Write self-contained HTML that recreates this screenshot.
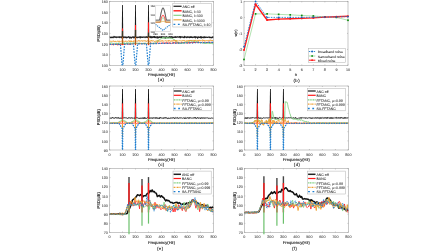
<!DOCTYPE html>
<html><head><meta charset="utf-8"><title>ANC PSD figure</title>
<style>html,body{margin:0;padding:0;background:#fff;width:448px;height:252px;overflow:hidden}svg{display:block;filter:blur(0.3px)}</style>
</head><body>
<svg width="448" height="252" viewBox="0 0 448 252" font-family='"Liberation Sans", Arial, sans-serif' fill="#262626" text-rendering="geometricPrecision"><style>text{stroke:#262626;stroke-width:0.12px}.t{fill:#4a4a4a;stroke:#4a4a4a;stroke-width:0.08px}.lg{fill:#303030;stroke:#303030;stroke-width:0.06px}</style><defs><clipPath id="ca"><rect x="109.5" y="1.4" width="104" height="64"/></clipPath><clipPath id="ci"><rect x="155.5" y="5.8" width="15" height="25.6"/></clipPath><clipPath id="cb"><rect x="244" y="1.4" width="104" height="64"/></clipPath><clipPath id="cc"><rect x="109.5" y="86" width="104" height="64"/></clipPath><clipPath id="cd"><rect x="244.4" y="86" width="104" height="64"/></clipPath><clipPath id="ce"><rect x="109.5" y="168.5" width="104" height="64"/></clipPath><clipPath id="cf"><rect x="244.4" y="168.5" width="104" height="64"/></clipPath></defs><rect width="448" height="252" fill="#ffffff"/><rect x="109.5" y="1.4" width="104" height="64" fill="none" stroke="#9a9a9a" stroke-width="0.55"/>
<line x1="109.5" y1="65.4" x2="109.5" y2="64.4" stroke="#9a9a9a" stroke-width="0.5"/>
<line x1="109.5" y1="1.4" x2="109.5" y2="2.4" stroke="#9a9a9a" stroke-width="0.5"/>
<line x1="122.5" y1="65.4" x2="122.5" y2="64.4" stroke="#9a9a9a" stroke-width="0.5"/>
<line x1="122.5" y1="1.4" x2="122.5" y2="2.4" stroke="#9a9a9a" stroke-width="0.5"/>
<line x1="135.5" y1="65.4" x2="135.5" y2="64.4" stroke="#9a9a9a" stroke-width="0.5"/>
<line x1="135.5" y1="1.4" x2="135.5" y2="2.4" stroke="#9a9a9a" stroke-width="0.5"/>
<line x1="148.5" y1="65.4" x2="148.5" y2="64.4" stroke="#9a9a9a" stroke-width="0.5"/>
<line x1="148.5" y1="1.4" x2="148.5" y2="2.4" stroke="#9a9a9a" stroke-width="0.5"/>
<line x1="161.5" y1="65.4" x2="161.5" y2="64.4" stroke="#9a9a9a" stroke-width="0.5"/>
<line x1="161.5" y1="1.4" x2="161.5" y2="2.4" stroke="#9a9a9a" stroke-width="0.5"/>
<line x1="174.5" y1="65.4" x2="174.5" y2="64.4" stroke="#9a9a9a" stroke-width="0.5"/>
<line x1="174.5" y1="1.4" x2="174.5" y2="2.4" stroke="#9a9a9a" stroke-width="0.5"/>
<line x1="187.5" y1="65.4" x2="187.5" y2="64.4" stroke="#9a9a9a" stroke-width="0.5"/>
<line x1="187.5" y1="1.4" x2="187.5" y2="2.4" stroke="#9a9a9a" stroke-width="0.5"/>
<line x1="200.5" y1="65.4" x2="200.5" y2="64.4" stroke="#9a9a9a" stroke-width="0.5"/>
<line x1="200.5" y1="1.4" x2="200.5" y2="2.4" stroke="#9a9a9a" stroke-width="0.5"/>
<line x1="213.5" y1="65.4" x2="213.5" y2="64.4" stroke="#9a9a9a" stroke-width="0.5"/>
<line x1="213.5" y1="1.4" x2="213.5" y2="2.4" stroke="#9a9a9a" stroke-width="0.5"/>
<line x1="109.5" y1="65.4" x2="110.5" y2="65.4" stroke="#9a9a9a" stroke-width="0.5"/>
<line x1="213.5" y1="65.4" x2="212.5" y2="65.4" stroke="#9a9a9a" stroke-width="0.5"/>
<line x1="109.5" y1="54.73" x2="110.5" y2="54.73" stroke="#9a9a9a" stroke-width="0.5"/>
<line x1="213.5" y1="54.73" x2="212.5" y2="54.73" stroke="#9a9a9a" stroke-width="0.5"/>
<line x1="109.5" y1="44.07" x2="110.5" y2="44.07" stroke="#9a9a9a" stroke-width="0.5"/>
<line x1="213.5" y1="44.07" x2="212.5" y2="44.07" stroke="#9a9a9a" stroke-width="0.5"/>
<line x1="109.5" y1="33.4" x2="110.5" y2="33.4" stroke="#9a9a9a" stroke-width="0.5"/>
<line x1="213.5" y1="33.4" x2="212.5" y2="33.4" stroke="#9a9a9a" stroke-width="0.5"/>
<line x1="109.5" y1="22.73" x2="110.5" y2="22.73" stroke="#9a9a9a" stroke-width="0.5"/>
<line x1="213.5" y1="22.73" x2="212.5" y2="22.73" stroke="#9a9a9a" stroke-width="0.5"/>
<line x1="109.5" y1="12.07" x2="110.5" y2="12.07" stroke="#9a9a9a" stroke-width="0.5"/>
<line x1="213.5" y1="12.07" x2="212.5" y2="12.07" stroke="#9a9a9a" stroke-width="0.5"/>
<line x1="109.5" y1="1.4" x2="110.5" y2="1.4" stroke="#9a9a9a" stroke-width="0.5"/>
<line x1="213.5" y1="1.4" x2="212.5" y2="1.4" stroke="#9a9a9a" stroke-width="0.5"/>
<text x="109.5" y="70.1" font-size="3.7" text-anchor="middle" dominant-baseline="central" class="t">0</text>
<text x="122.5" y="70.1" font-size="3.7" text-anchor="middle" dominant-baseline="central" class="t">100</text>
<text x="135.5" y="70.1" font-size="3.7" text-anchor="middle" dominant-baseline="central" class="t">200</text>
<text x="148.5" y="70.1" font-size="3.7" text-anchor="middle" dominant-baseline="central" class="t">300</text>
<text x="161.5" y="70.1" font-size="3.7" text-anchor="middle" dominant-baseline="central" class="t">400</text>
<text x="174.5" y="70.1" font-size="3.7" text-anchor="middle" dominant-baseline="central" class="t">500</text>
<text x="187.5" y="70.1" font-size="3.7" text-anchor="middle" dominant-baseline="central" class="t">600</text>
<text x="200.5" y="70.1" font-size="3.7" text-anchor="middle" dominant-baseline="central" class="t">700</text>
<text x="213.5" y="70.1" font-size="3.7" text-anchor="middle" dominant-baseline="central" class="t">800</text>
<text x="107.9" y="66.1" font-size="3.7" text-anchor="end" dominant-baseline="central" class="t">100</text>
<text x="107.9" y="55.43" font-size="3.7" text-anchor="end" dominant-baseline="central" class="t">110</text>
<text x="107.9" y="44.77" font-size="3.7" text-anchor="end" dominant-baseline="central" class="t">120</text>
<text x="107.9" y="34.1" font-size="3.7" text-anchor="end" dominant-baseline="central" class="t">130</text>
<text x="107.9" y="23.43" font-size="3.7" text-anchor="end" dominant-baseline="central" class="t">140</text>
<text x="107.9" y="12.77" font-size="3.7" text-anchor="end" dominant-baseline="central" class="t">150</text>
<text x="107.9" y="2.1" font-size="3.7" text-anchor="end" dominant-baseline="central" class="t">160</text>
<polyline points="109.5,36.76 109.76,36.7 110.02,37.22 110.28,37.53 110.54,37.65 110.8,37.23 111.06,37.62 111.32,37.78 111.58,37.17 111.84,37.19 112.1,37.04 112.36,37.58 112.62,37.24 112.88,37.26 113.14,37.8 113.4,37.04 113.66,37.12 113.92,36.35 114.18,37.16 114.44,37.29 114.7,36.78 114.96,37.17 115.22,36.9 115.48,37.38 115.74,37.16 116,36.86 116.26,36.98 116.52,37.19 116.78,37.64 117.04,37.07 117.3,37.21 117.56,36.97 117.82,37.16 118.08,36.83 118.34,37.26 118.6,37.16 118.86,36.99 119.12,37.65 119.38,37.39 119.64,37.43 119.9,36.5 120.16,37.27 120.42,37 120.68,37.01 120.94,37.34 121.2,37.82 121.46,36.88 121.72,37.39 121.98,36.97 122.24,37.73 122.5,37.4 122.76,36.77 123.02,36.71 123.28,37.73 123.54,37.74 123.8,37.26 124.06,36.97 124.32,37.18 124.58,37.13 124.84,37.61 125.1,37.02 125.36,36.82 125.62,37.4 125.88,37.78 126.14,37.52 126.4,36.96 126.66,37.89 126.92,37.27 127.18,37.61 127.44,37.29 127.7,37.33 127.96,37.23 128.22,36.68 128.48,37.08 128.74,36.74 129,37.29 129.26,37.42 129.52,37.1 129.78,38.3 130.04,37.25 130.3,37.18 130.56,37.7 130.82,37.07 131.08,37.45 131.34,38.16 131.6,37.32 131.86,37.61 132.12,37.43 132.38,37.3 132.64,36.77 132.9,37.2 133.16,37.25 133.42,37.09 133.68,37.92 133.94,36.78 134.2,37.64 134.46,37.08 134.72,37.66 134.98,37.6 135.24,37.39 135.5,36.53 135.76,36.98 136.02,37.47 136.28,37.35 136.54,37.67 136.8,37.25 137.06,37.45 137.32,36.97 137.58,37.75 137.84,37.36 138.1,37.55 138.36,37.51 138.62,36.97 138.88,37.19 139.14,37.02 139.4,36.8 139.66,36.81 139.92,37.75 140.18,37.04 140.44,37.9 140.7,37.26 140.96,36.52 141.22,37.31 141.48,37.38 141.74,37.18 142,37.23 142.26,37.23 142.52,37.52 142.78,36.84 143.04,36.91 143.3,37.32 143.56,37.12 143.82,36.99 144.08,36.85 144.34,37.09 144.6,36.98 144.86,37.34 145.12,37.64 145.38,37.42 145.64,36.86 145.9,36.87 146.16,37.19 146.42,37.45 146.68,37.13 146.94,36.62 147.2,36.73 147.46,37.5 147.72,37.26 147.98,37.78 148.24,37.66 148.5,37.17 148.76,37.23 149.02,36.88 149.28,36.77 149.54,36.93 149.8,36.75 150.06,37.44 150.32,37.66 150.58,37.05 150.84,36.24 151.1,37.11 151.36,37.67 151.62,37.15 151.88,36.71 152.14,37.63 152.4,36.94 152.66,37.47 152.92,36.76 153.18,36.95 153.44,37.13 153.7,36.49 153.96,37.39 154.22,37.5 154.48,36.55 154.74,37.57 155,36.42 155.26,37.25 155.52,37.63 155.78,37.24 156.04,37.19 156.3,37.16 156.56,37.31 156.82,36.84 157.08,38.11 157.34,37.45 157.6,37.34 157.86,36.56 158.12,37.98 158.38,37.37 158.64,37.67 158.9,37.49 159.16,37 159.42,37.09 159.68,36.7 159.94,37.46 160.2,37.14 160.46,36.8 160.72,36.9 160.98,37.37 161.24,36.82 161.5,37.58 161.76,36.57 162.02,37.18 162.28,37.28 162.54,37.14 162.8,36.92 163.06,36.59 163.32,37.29 163.58,37.38 163.84,37.02 164.1,37.57 164.36,37.87 164.62,36.93 164.88,37.38 165.14,36.82 165.4,37.62 165.66,38.32 165.92,37.13 166.18,37.18 166.44,36.64 166.7,37.04 166.96,37.12 167.22,37.02 167.48,37.38 167.74,37.21 168,37.74 168.26,37.05 168.52,37.54 168.78,37.41 169.04,36.98 169.3,36.9 169.56,37.62 169.82,36.49 170.08,37.46 170.34,36.93 170.6,36.88 170.86,37.16 171.12,37.18 171.38,36.57 171.64,36.91 171.9,37.07 172.16,37.92 172.42,37.52 172.68,36.81 172.94,37.17 173.2,37.6 173.46,37.48 173.72,37.35 173.98,36.98 174.24,37.1 174.5,36.87 174.76,37.55 175.02,36.87 175.28,37.43 175.54,37.35 175.8,36.59 176.06,37.21 176.32,37.29 176.58,37.32 176.84,37.38 177.1,36.66 177.36,36.73 177.62,36.97 177.88,37.17 178.14,36.85 178.4,37.27 178.66,37.07 178.92,37.09 179.18,37.21 179.44,36.62 179.7,36.58 179.96,36.75 180.22,37.95 180.48,36.55 180.74,36.98 181,37.41 181.26,37.25 181.52,36.82 181.78,36.8 182.04,36.92 182.3,37.19 182.56,37.23 182.82,36.93 183.08,37.27 183.34,37.58 183.6,37.47 183.86,37.29 184.12,37.12 184.38,36.39 184.64,37.75 184.9,37.06 185.16,37.27 185.42,37.13 185.68,36.73 185.94,36.78 186.2,37.3 186.46,37.45 186.72,37.75 186.98,37.27 187.24,36.77 187.5,37.34 187.76,36.98 188.02,36.98 188.28,37.09 188.54,36.84 188.8,37.28 189.06,37.55 189.32,37.68 189.58,36.89 189.84,37.38 190.1,37.36 190.36,36.93 190.62,37.53 190.88,36.58 191.14,36.99 191.4,37.44 191.66,37.48 191.92,36.84 192.18,37.68 192.44,37.48 192.7,37.24 192.96,37.16 193.22,37.23 193.48,37.1 193.74,37.38 194,37.29 194.26,36.77 194.52,37 194.78,37.41 195.04,36.6 195.3,37.98 195.56,37.21 195.82,36.99 196.08,36.88 196.34,37.2 196.6,37.38 196.86,37.02 197.12,37.31 197.38,37.06 197.64,38.31 197.9,37.1 198.16,37.54 198.42,36.89 198.68,36.96 198.94,36.97 199.2,37.39 199.46,37.08 199.72,37.37 199.98,37.16 200.24,37.29 200.5,37.57 200.76,36.5 201.02,36.97 201.28,38.01 201.54,36.91 201.8,37.76 202.06,37.33 202.32,37.46 202.58,37.44 202.84,37.15 203.1,37.36 203.36,37.78 203.62,37.24 203.88,37.1 204.14,36.58 204.4,37.39 204.66,37.68 204.92,37.38 205.18,37 205.44,37.57 205.7,37.51 205.96,37.03 206.22,37.24 206.48,37.16 206.74,37.47 207,37.55 207.26,37.36 207.52,37.3 207.78,37.36 208.04,37.08 208.3,37.04 208.56,37.04 208.82,37.06 209.08,37.57 209.34,37.66 209.6,36.94 209.86,37.24 210.12,37.19 210.38,37.67 210.64,37.32 210.9,37.48 211.16,37.56 211.42,37.48 211.68,37.8 211.94,37.21 212.2,36.8 212.46,37.5 212.72,37.2 212.98,37.65 213.24,36.99 213.5,36.54" fill="none" stroke="#222222" stroke-width="1.1" stroke-linejoin="round" clip-path="url(#ca)"/>
<polygon points="121.75,37.67 122.1,5.03 122.9,5.03 123.25,37.67" fill="#1a1a1a"/>
<polygon points="134.75,37.67 135.1,5.03 135.9,5.03 136.25,37.67" fill="#1a1a1a"/>
<polygon points="147.75,37.67 148.1,5.03 148.9,5.03 149.25,37.67" fill="#1a1a1a"/>
<polyline points="109.5,43.53 109.76,44.49 110.02,44.14 110.28,44.22 110.54,43.99 110.8,44.7 111.06,44.38 111.32,44.48 111.58,44.58 111.84,44.5 112.1,44.39 112.36,44.31 112.62,44.51 112.88,44.08 113.14,44.38 113.4,45.22 113.66,43.81 113.92,44.31 114.18,44.42 114.44,44.09 114.7,44.1 114.96,44.15 115.22,44.44 115.48,44.1 115.74,44.64 116,43.68 116.26,44.55 116.52,44.2 116.78,44.12 117.04,44.06 117.3,44.2 117.56,43.96 117.82,45.27 118.08,44.18 118.34,44.19 118.6,44.27 118.86,43.64 119.12,44.44 119.38,44.15 119.64,44.77 119.9,44.02 120.16,44.62 120.42,44.6 120.68,43.33 120.94,43.86 121.2,44.08 121.46,44.02 121.72,44.54 121.98,44.41 122.24,43.92 122.5,44.74 122.76,43.96 123.02,44.61 123.28,44 123.54,44.39 123.8,43.46 124.06,43.69 124.32,44.19 124.58,44.63 124.84,44.26 125.1,44.02 125.36,44.32 125.62,43.9 125.88,43.66 126.14,44 126.4,44.12 126.66,43.72 126.92,44.06 127.18,43.68 127.44,44.06 127.7,43.42 127.96,44.03 128.22,44.28 128.48,43.9 128.74,44.13 129,44.23 129.26,43.96 129.52,43.67 129.78,44.61 130.04,43.91 130.3,43.94 130.56,43.94 130.82,43.62 131.08,44.3 131.34,43.66 131.6,43.94 131.86,43.82 132.12,43.93 132.38,43.96 132.64,44.01 132.9,43.7 133.16,43.15 133.42,43.48 133.68,43.54 133.94,43.63 134.2,43.96 134.46,43.61 134.72,43.12 134.98,44.21 135.24,43.52 135.5,43.45 135.76,43.68 136.02,43.51 136.28,43.31 136.54,43.04 136.8,43.32 137.06,43.2 137.32,43.63 137.58,43.46 137.84,43.67 138.1,43.62 138.36,43.86 138.62,43.48 138.88,43.23 139.14,43.74 139.4,43.6 139.66,43.48 139.92,43.67 140.18,43.36 140.44,43.58 140.7,44.03 140.96,43.98 141.22,43.41 141.48,43.43 141.74,43.28 142,43.55 142.26,43.56 142.52,44.13 142.78,43.16 143.04,43.9 143.3,43.26 143.56,43.96 143.82,43.8 144.08,43.53 144.34,43.71 144.6,43.8 144.86,43.28 145.12,43.34 145.38,43.43 145.64,43.66 145.9,43.81 146.16,43.69 146.42,43.7 146.68,43.53 146.94,43.27 147.2,43.57 147.46,43.76 147.72,43.7 147.98,43.08 148.24,43.44 148.5,43.41 148.76,43.39 149.02,43.28 149.28,43.42 149.54,43.08 149.8,43.2 150.06,44.36 150.32,43.49 150.58,42.49 150.84,43.85 151.1,43.39 151.36,43.08 151.62,43.42 151.88,42.98 152.14,43.81 152.4,43.8 152.66,43.46 152.92,43.63 153.18,43.73 153.44,43.2 153.7,43.29 153.96,43.37 154.22,43.49 154.48,43.27 154.74,43.39 155,43.58 155.26,43.18 155.52,43.22 155.78,43.3 156.04,43.1 156.3,43.67 156.56,43.36 156.82,43.48 157.08,42.88 157.34,43.14 157.6,42.62 157.86,42.78 158.12,43.4 158.38,43.63 158.64,43.12 158.9,43.36 159.16,43.31 159.42,43.6 159.68,43.06 159.94,43.19 160.2,43.11 160.46,43.14 160.72,43.52 160.98,43.94 161.24,43.31 161.5,43.42 161.76,43.38 162.02,42.9 162.28,43.23 162.54,42.71 162.8,43.13 163.06,42.96 163.32,43.01 163.58,42.91 163.84,43.57 164.1,42.81 164.36,43.12 164.62,43.46 164.88,42.95 165.14,43.03 165.4,42.72 165.66,42.89 165.92,43.01 166.18,43.64 166.44,42.58 166.7,42.63 166.96,42.85 167.22,42.95 167.48,42.7 167.74,43.36 168,42.86 168.26,43.07 168.52,43.39 168.78,42.95 169.04,42.95 169.3,42.51 169.56,42.75 169.82,43.56 170.08,43.67 170.34,43.06 170.6,43.09 170.86,43.32 171.12,43.48 171.38,43.07 171.64,43.38 171.9,43.22 172.16,42.72 172.42,42.91 172.68,43.23 172.94,43.34 173.2,43.03 173.46,42.41 173.72,43.12 173.98,42.4 174.24,43.2 174.5,43.01 174.76,42.72 175.02,43.18 175.28,42.91 175.54,43.36 175.8,42.71 176.06,42.54 176.32,43.12 176.58,42.84 176.84,43.03 177.1,43.58 177.36,42.01 177.62,42.68 177.88,42.61 178.14,42.75 178.4,42.81 178.66,42.1 178.92,43.44 179.18,42.95 179.44,42.98 179.7,42.91 179.96,42.61 180.22,43.06 180.48,43.25 180.74,43.18 181,42.67 181.26,42.5 181.52,42.54 181.78,42.29 182.04,42.96 182.3,42.47 182.56,42.56 182.82,42.83 183.08,43.01 183.34,42.48 183.6,42.98 183.86,42.85 184.12,43.06 184.38,42.19 184.64,42.76 184.9,42.89 185.16,42.81 185.42,42.8 185.68,42.69 185.94,43.26 186.2,43.08 186.46,42.54 186.72,42.35 186.98,43.01 187.24,42.65 187.5,42.86 187.76,43.4 188.02,42.77 188.28,43.01 188.54,42.38 188.8,42.72 189.06,42.66 189.32,43.11 189.58,42.59 189.84,43.26 190.1,42.56 190.36,42.18 190.62,43 190.88,42.34 191.14,42.16 191.4,42.66 191.66,42.24 191.92,42.56 192.18,42.74 192.44,43.22 192.7,42.92 192.96,43.04 193.22,41.8 193.48,42.47 193.74,42.61 194,42.98 194.26,41.99 194.52,42.91 194.78,42.06 195.04,42.18 195.3,42.5 195.56,42.73 195.82,42.52 196.08,42.93 196.34,42.29 196.6,41.95 196.86,42.2 197.12,42.15 197.38,42.7 197.64,42.37 197.9,42.8 198.16,42.61 198.42,42.22 198.68,41.65 198.94,42.42 199.2,42.43 199.46,43.04 199.72,42.37 199.98,42.72 200.24,42.87 200.5,42.89 200.76,42.36 201.02,42.53 201.28,42.18 201.54,42.47 201.8,42.39 202.06,41.91 202.32,42.12 202.58,42.12 202.84,41.89 203.1,42.29 203.36,42.67 203.62,42.61 203.88,42.85 204.14,42.23 204.4,42.46 204.66,42.16 204.92,42.06 205.18,42.58 205.44,42.25 205.7,41.9 205.96,42.27 206.22,42 206.48,42.35 206.74,42.59 207,42.35 207.26,42.88 207.52,42.04 207.78,42.43 208.04,41.83 208.3,42.65 208.56,42.21 208.82,42.13 209.08,42.3 209.34,42.11 209.6,42.47 209.86,42.57 210.12,42.67 210.38,42.39 210.64,42.47 210.9,42.12 211.16,42.31 211.42,42.4 211.68,42.42 211.94,42.79 212.2,42.29 212.46,42.03 212.72,42.59 212.98,42.24 213.24,41.93 213.5,42.37" fill="none" stroke="#ff1a1a" stroke-width="0.8" stroke-linejoin="round" clip-path="url(#ca)"/>
<line x1="122.5" y1="45.13" x2="122.5" y2="28.39" stroke="#ff1a1a" stroke-width="1.1"/>
<line x1="135.5" y1="45.13" x2="135.5" y2="24.97" stroke="#ff1a1a" stroke-width="1.1"/>
<line x1="148.5" y1="45.13" x2="148.5" y2="22.31" stroke="#ff1a1a" stroke-width="1.1"/>
<polyline points="109.5,43.18 109.76,42.81 110.02,43.51 110.28,42.9 110.54,43.3 110.8,43.3 111.06,42.61 111.32,43.16 111.58,43.23 111.84,42.98 112.1,42.85 112.36,43.22 112.62,43.03 112.88,43.52 113.14,43.33 113.4,43.35 113.66,43.64 113.92,43.7 114.18,43.73 114.44,43.29 114.7,43.27 114.96,43.32 115.22,43.19 115.48,43.64 115.74,43.24 116,43.14 116.26,42.97 116.52,43.48 116.78,43.34 117.04,43.86 117.3,43.37 117.56,43.92 117.82,43.67 118.08,42.86 118.34,43.92 118.6,42.96 118.86,43.11 119.12,43.31 119.38,43.07 119.64,43.04 119.9,42.88 120.16,43.29 120.42,43.4 120.68,43.41 120.94,43.53 121.2,43.23 121.46,43.46 121.72,42.87 121.98,43.81 122.24,43.56 122.5,43.52 122.76,43.88 123.02,42.6 123.28,43.98 123.54,43.3 123.8,43.38 124.06,42.68 124.32,43.85 124.58,42.87 124.84,43.45 125.1,43.26 125.36,43.43 125.62,43.01 125.88,43.58 126.14,43.24 126.4,43.1 126.66,42.62 126.92,43.98 127.18,42.73 127.44,42.91 127.7,43.37 127.96,43.12 128.22,43.36 128.48,42.69 128.74,43.15 129,43.28 129.26,43.29 129.52,43.28 129.78,43.27 130.04,43.49 130.3,42.55 130.56,43.82 130.82,44.37 131.08,43.25 131.34,43.26 131.6,43.09 131.86,43.28 132.12,43.26 132.38,43.11 132.64,42.9 132.9,43.36 133.16,43.33 133.42,42.59 133.68,43.04 133.94,43.53 134.2,42.47 134.46,42.97 134.72,43.4 134.98,43.59 135.24,43.12 135.5,43.48 135.76,43.55 136.02,43.63 136.28,43.38 136.54,42.86 136.8,43.35 137.06,43.68 137.32,43 137.58,43.19 137.84,42.94 138.1,42.83 138.36,43.27 138.62,43.26 138.88,43.23 139.14,43.58 139.4,43 139.66,42.77 139.92,43.16 140.18,43.29 140.44,43.3 140.7,43.46 140.96,43.47 141.22,43.34 141.48,43.48 141.74,43.35 142,43.72 142.26,43.1 142.52,43.2 142.78,43.58 143.04,43.95 143.3,43.22 143.56,42.86 143.82,43.45 144.08,43.37 144.34,43.4 144.6,43 144.86,43.51 145.12,42.9 145.38,43.31 145.64,42.92 145.9,43.2 146.16,43.29 146.42,43.69 146.68,43.43 146.94,43.3 147.2,43 147.46,43.13 147.72,43.44 147.98,43.08 148.24,42.9 148.5,43.26 148.76,43.35 149.02,43.34 149.28,42.95 149.54,43.04 149.8,43.51 150.06,43.09 150.32,43.37 150.58,43.45 150.84,42.82 151.1,42.95 151.36,43.44 151.62,43.19 151.88,43.05 152.14,43.41 152.4,43.24 152.66,42.98 152.92,43.76 153.18,43.07 153.44,42.92 153.7,42.97 153.96,43.53 154.22,42.96 154.48,43.28 154.74,42.76 155,42.67 155.26,42.71 155.52,42.91 155.78,42.73 156.04,42.13 156.3,42.53 156.56,41.91 156.82,41.72 157.08,41.77 157.34,40.71 157.6,41.23 157.86,40.34 158.12,41.44 158.38,41.28 158.64,40.02 158.9,39.9 159.16,39.98 159.42,39.69 159.68,40.08 159.94,39.48 160.2,39.43 160.46,39.01 160.72,38.5 160.98,38.63 161.24,38.41 161.5,38.64 161.76,38.46 162.02,38.2 162.28,38.26 162.54,37.7 162.8,38.34 163.06,37.41 163.32,38.29 163.58,37.61 163.84,38.18 164.1,37.39 164.36,37.86 164.62,37.77 164.88,37.65 165.14,38.09 165.4,38.22 165.66,38.53 165.92,37.49 166.18,38.1 166.44,38.07 166.7,37.89 166.96,37.24 167.22,38.43 167.48,37.8 167.74,38.01 168,37.71 168.26,38.46 168.52,38.02 168.78,37.63 169.04,37.4 169.3,37.4 169.56,38.21 169.82,37.94 170.08,38.02 170.34,38.46 170.6,38.52 170.86,37.87 171.12,38.09 171.38,38.29 171.64,37.93 171.9,38.74 172.16,38.36 172.42,38.65 172.68,38.81 172.94,38.78 173.2,39.05 173.46,39.19 173.72,39.39 173.98,39.05 174.24,39.98 174.5,39.78 174.76,40.14 175.02,40.67 175.28,40.54 175.54,41.3 175.8,40.88 176.06,41.73 176.32,41.84 176.58,41.78 176.84,41.8 177.1,41.95 177.36,42.11 177.62,42.6 177.88,42.96 178.14,42.58 178.4,42.75 178.66,43.23 178.92,42.67 179.18,42.96 179.44,43.37 179.7,42.95 179.96,43.53 180.22,43.39 180.48,42.99 180.74,43.61 181,43.1 181.26,43.53 181.52,42.85 181.78,43.3 182.04,42.99 182.3,43.51 182.56,43.12 182.82,42.68 183.08,42.8 183.34,43.51 183.6,42.59 183.86,42.56 184.12,42.92 184.38,42.3 184.64,43.05 184.9,42.68 185.16,42.25 185.42,42.12 185.68,42.07 185.94,42.77 186.2,42.92 186.46,42.15 186.72,42.66 186.98,42.17 187.24,42.46 187.5,41.64 187.76,41.64 188.02,41.64 188.28,41.73 188.54,41.64 188.8,41.67 189.06,41.38 189.32,41.34 189.58,41.2 189.84,41.42 190.1,40.61 190.36,41.06 190.62,40.65 190.88,40.62 191.14,41.28 191.4,41.5 191.66,40.52 191.92,41.02 192.18,40.86 192.44,40.95 192.7,40.82 192.96,41.25 193.22,40.91 193.48,41.05 193.74,40.93 194,41.71 194.26,40.74 194.52,40.94 194.78,41.65 195.04,41.39 195.3,41.2 195.56,41.08 195.82,41.35 196.08,40.98 196.34,41.49 196.6,41.9 196.86,41.87 197.12,41.5 197.38,42.01 197.64,41.63 197.9,41.65 198.16,41.87 198.42,41.81 198.68,42.26 198.94,42.28 199.2,42.54 199.46,42.61 199.72,42.98 199.98,42.72 200.24,42.95 200.5,43.11 200.76,42.66 201.02,42.61 201.28,42.91 201.54,42.41 201.8,42.58 202.06,42.58 202.32,43.14 202.58,43.46 202.84,42.83 203.1,42.93 203.36,42.82 203.62,42.94 203.88,42.69 204.14,43.2 204.4,42.91 204.66,43.42 204.92,43.88 205.18,43.3 205.44,42.68 205.7,43.71 205.96,42.85 206.22,43.4 206.48,43.32 206.74,43.18 207,43.13 207.26,43.51 207.52,43.16 207.78,43.06 208.04,42.94 208.3,43.45 208.56,42.71 208.82,42.6 209.08,42.44 209.34,43.64 209.6,43.16 209.86,43.81 210.12,43.09 210.38,43.03 210.64,43.58 210.9,43.72 211.16,43.15 211.42,43.01 211.68,43.47 211.94,43.3 212.2,44.02 212.46,43.44 212.72,43.17 212.98,43.16 213.24,42.71 213.5,43.58" fill="none" stroke="#7fcf7f" stroke-width="0.8" stroke-linejoin="round" clip-path="url(#ca)"/>
<polyline points="109.5,41.39 109.76,41.25 110.02,41.54 110.28,41.28 110.54,41.1 110.8,41.26 111.06,40.89 111.32,41.67 111.58,41.36 111.84,41.61 112.1,41.63 112.36,41.44 112.62,41.3 112.88,41.24 113.14,41.21 113.4,40.65 113.66,41.09 113.92,41.87 114.18,41.3 114.44,41.56 114.7,41.52 114.96,40.94 115.22,41.42 115.48,41.98 115.74,41.25 116,41.44 116.26,41.72 116.52,41.64 116.78,41.54 117.04,41.35 117.3,41.47 117.56,41.31 117.82,40.74 118.08,41.59 118.34,41.59 118.6,41.41 118.86,40.97 119.12,41.55 119.38,40.86 119.64,41.74 119.9,41.65 120.16,41.33 120.42,41.59 120.68,41.51 120.94,41.16 121.2,41.07 121.46,41.27 121.72,41.39 121.98,40.87 122.24,41.17 122.5,41.37 122.76,40.9 123.02,41.58 123.28,41.23 123.54,41.07 123.8,41.29 124.06,41.46 124.32,41.17 124.58,41.45 124.84,41.46 125.1,41.6 125.36,40.85 125.62,41.44 125.88,40.9 126.14,41.14 126.4,41.34 126.66,41.05 126.92,41.17 127.18,41.21 127.44,41.69 127.7,41.23 127.96,40.96 128.22,41.09 128.48,40.93 128.74,40.77 129,41.11 129.26,40.61 129.52,41.72 129.78,41.31 130.04,42.04 130.3,40.97 130.56,41.2 130.82,40.68 131.08,41.34 131.34,41.87 131.6,40.81 131.86,41.65 132.12,41.62 132.38,41.27 132.64,41.01 132.9,41.37 133.16,41.15 133.42,41.81 133.68,40.65 133.94,41.22 134.2,41.16 134.46,41.01 134.72,41.14 134.98,41.13 135.24,41.49 135.5,41.22 135.76,41.04 136.02,40.85 136.28,41.22 136.54,41.15 136.8,41.07 137.06,40.99 137.32,41.11 137.58,41.25 137.84,41.33 138.1,40.81 138.36,41.07 138.62,41.15 138.88,40.05 139.14,40.87 139.4,40.88 139.66,41.1 139.92,41.48 140.18,40.78 140.44,41.17 140.7,41.13 140.96,40.81 141.22,40.81 141.48,41.06 141.74,41.13 142,40.46 142.26,40.95 142.52,41.46 142.78,40.89 143.04,41.08 143.3,41.11 143.56,40.9 143.82,41.04 144.08,40.47 144.34,41.05 144.6,41.03 144.86,40.74 145.12,41.29 145.38,40.78 145.64,41.12 145.9,40.72 146.16,41.37 146.42,40.96 146.68,41.61 146.94,41.23 147.2,41.09 147.46,40.93 147.72,40.45 147.98,40.5 148.24,41.51 148.5,41.32 148.76,40.68 149.02,40.94 149.28,41.51 149.54,40.92 149.8,41.43 150.06,41.34 150.32,41.47 150.58,41.15 150.84,40.34 151.1,40.94 151.36,41.09 151.62,40.25 151.88,41.2 152.14,41.1 152.4,41.13 152.66,40.91 152.92,41.14 153.18,40.58 153.44,41.13 153.7,40.86 153.96,40.96 154.22,41.31 154.48,41.34 154.74,41.04 155,41.76 155.26,41.02 155.52,41 155.78,40.97 156.04,41.04 156.3,40.9 156.56,41.13 156.82,40.81 157.08,41.53 157.34,40.72 157.6,41.29 157.86,40.85 158.12,41.15 158.38,41.13 158.64,41.25 158.9,40.57 159.16,41.34 159.42,41.38 159.68,40.92 159.94,40.9 160.2,40.97 160.46,41.29 160.72,41.19 160.98,40.69 161.24,41.3 161.5,40.78 161.76,40.74 162.02,40.93 162.28,41.35 162.54,40.36 162.8,40.92 163.06,40.9 163.32,41.08 163.58,41.26 163.84,41.04 164.1,40.89 164.36,41.22 164.62,40.91 164.88,40.58 165.14,40.8 165.4,40.97 165.66,40.6 165.92,40.64 166.18,40.65 166.44,41.19 166.7,41.51 166.96,40.67 167.22,40.91 167.48,41.04 167.74,40.77 168,41.06 168.26,41.11 168.52,40.34 168.78,41.42 169.04,40.64 169.3,40.59 169.56,40.34 169.82,40.82 170.08,40.74 170.34,41.19 170.6,40.89 170.86,41.57 171.12,41.07 171.38,40.9 171.64,40.92 171.9,41.04 172.16,40.51 172.42,41.39 172.68,40.84 172.94,41.01 173.2,40.86 173.46,40.86 173.72,40.25 173.98,41.21 174.24,40.44 174.5,40.42 174.76,40.9 175.02,41.06 175.28,41.25 175.54,41.13 175.8,40.2 176.06,41.54 176.32,40.71 176.58,41.07 176.84,40.24 177.1,40.74 177.36,41.27 177.62,41.01 177.88,40.78 178.14,40.8 178.4,41.14 178.66,40.92 178.92,40.98 179.18,40.67 179.44,40.74 179.7,40.75 179.96,41.01 180.22,40.57 180.48,41 180.74,41.08 181,40.95 181.26,40.91 181.52,40.91 181.78,41.42 182.04,40.37 182.3,40.6 182.56,40.38 182.82,40.92 183.08,40.56 183.34,40.73 183.6,40.78 183.86,40.22 184.12,40.98 184.38,40.6 184.64,41.33 184.9,40.6 185.16,40.83 185.42,41.1 185.68,40.96 185.94,41.45 186.2,41.11 186.46,40.71 186.72,41.61 186.98,40.42 187.24,40.45 187.5,41 187.76,41.23 188.02,41.2 188.28,41.16 188.54,40.99 188.8,40.06 189.06,41.11 189.32,40.5 189.58,40.35 189.84,41.04 190.1,40.82 190.36,40.52 190.62,40.94 190.88,40.33 191.14,40.05 191.4,40.74 191.66,40.99 191.92,40.53 192.18,40.61 192.44,40.96 192.7,40.76 192.96,40.69 193.22,40.55 193.48,40.35 193.74,40.86 194,41.12 194.26,41.22 194.52,40.11 194.78,40.83 195.04,40.83 195.3,39.91 195.56,40.34 195.82,39.97 196.08,40.74 196.34,40.91 196.6,40.85 196.86,40.48 197.12,40.55 197.38,40.55 197.64,39.95 197.9,40.24 198.16,41.02 198.42,40.53 198.68,40.48 198.94,40.9 199.2,39.92 199.46,40.37 199.72,40.18 199.98,40.83 200.24,41.02 200.5,40.41 200.76,40.71 201.02,40.83 201.28,40.68 201.54,40.58 201.8,40.6 202.06,40.71 202.32,40.49 202.58,39.71 202.84,40.26 203.1,40.8 203.36,39.98 203.62,40.78 203.88,41.12 204.14,41.07 204.4,41.28 204.66,40.25 204.92,40.97 205.18,41.07 205.44,40.79 205.7,40.68 205.96,41.01 206.22,40.79 206.48,40.61 206.74,40.4 207,40.91 207.26,40.42 207.52,40.52 207.78,40.42 208.04,40.77 208.3,40.97 208.56,40.28 208.82,40.4 209.08,40.8 209.34,40.84 209.6,40.36 209.86,39.93 210.12,40.46 210.38,39.77 210.64,40.47 210.9,40.46 211.16,40.41 211.42,40.22 211.68,41.05 211.94,40.51 212.2,40.15 212.46,41.06 212.72,40.48 212.98,40.31 213.24,40 213.5,40.05" fill="none" stroke="#f0a030" stroke-width="0.8" stroke-linejoin="round" clip-path="url(#ca)"/>
<line x1="122.5" y1="37.03" x2="122.5" y2="30.95" stroke="#3d3a22" stroke-width="1.2"/>
<line x1="122.5" y1="44.6" x2="122.5" y2="37.03" stroke="#b06020" stroke-width="1.2"/>
<line x1="135.5" y1="37.03" x2="135.5" y2="29.99" stroke="#3d3a22" stroke-width="1.2"/>
<line x1="135.5" y1="44.6" x2="135.5" y2="37.03" stroke="#b06020" stroke-width="1.2"/>
<line x1="148.5" y1="37.03" x2="148.5" y2="32.55" stroke="#3d3a22" stroke-width="1.2"/>
<line x1="148.5" y1="44.6" x2="148.5" y2="37.03" stroke="#b06020" stroke-width="1.2"/>
<polyline points="109.5,44.49 109.63,44.49 109.76,44.49 109.89,44.49 110.02,44.48 110.15,44.48 110.28,44.48 110.41,44.47 110.54,44.47 110.67,44.47 110.8,44.47 110.93,44.46 111.06,44.46 111.19,44.46 111.32,44.46 111.45,44.45 111.58,44.45 111.71,44.45 111.84,44.45 111.97,44.44 112.1,44.44 112.23,44.44 112.36,44.43 112.49,44.43 112.62,44.43 112.75,44.43 112.88,44.42 113.01,44.42 113.14,44.42 113.27,44.42 113.4,44.41 113.53,44.41 113.66,44.41 113.79,44.41 113.92,44.4 114.05,44.4 114.18,44.4 114.31,44.39 114.44,44.39 114.57,44.39 114.7,44.39 114.83,44.38 114.96,44.38 115.09,44.38 115.22,44.38 115.35,44.37 115.48,44.37 115.61,44.37 115.74,44.37 115.87,44.36 116,44.36 116.13,44.36 116.26,44.35 116.39,44.35 116.52,44.35 116.65,44.35 116.78,44.34 116.91,44.34 117.04,44.34 117.17,44.34 117.3,44.33 117.43,44.33 117.56,44.33 117.69,44.33 117.82,44.32 117.95,44.32 118.08,44.32 118.21,44.31 118.34,44.31 118.47,44.31 118.6,44.31 118.73,44.3 118.86,44.3 118.99,44.3 119.12,44.3 119.25,44.29 119.38,44.29 119.51,44.29 119.64,44.29 119.77,44.28 119.9,44.28 120.03,44.28 120.16,44.27 120.29,44.27 120.42,44.27 120.55,45.87 120.68,47.46 120.81,49.06 120.94,50.66 121.07,52.26 121.2,53.85 121.33,55.45 121.46,57.05 121.59,58.65 121.72,60.24 121.85,61.84 121.98,63.44 122.11,65.03 122.24,66.63 122.37,68.23 122.5,69.83 122.63,68.22 122.76,66.62 122.89,65.02 123.02,63.42 123.15,61.81 123.28,60.21 123.41,58.61 123.54,57.01 123.67,55.4 123.8,53.8 123.93,52.2 124.06,50.59 124.19,48.99 124.32,47.39 124.45,45.79 124.58,44.18 124.71,44.18 124.84,44.18 124.97,44.18 125.1,44.17 125.23,44.17 125.36,44.17 125.49,44.17 125.62,44.16 125.75,44.16 125.88,44.16 126.01,44.15 126.14,44.15 126.27,44.15 126.4,44.15 126.53,44.14 126.66,44.14 126.79,44.14 126.92,44.14 127.05,44.13 127.18,44.13 127.31,44.13 127.44,44.13 127.57,44.12 127.7,44.12 127.83,44.12 127.96,44.11 128.09,44.11 128.22,44.11 128.35,44.11 128.48,44.1 128.61,44.1 128.74,44.1 128.87,44.1 129,44.09 129.13,44.09 129.26,44.09 129.39,44.09 129.52,44.08 129.65,44.08 129.78,44.08 129.91,44.07 130.04,44.07 130.17,44.07 130.3,44.07 130.43,44.06 130.56,44.06 130.69,44.06 130.82,44.06 130.95,44.05 131.08,44.05 131.21,44.05 131.34,44.05 131.47,44.04 131.6,44.04 131.73,44.04 131.86,44.03 131.99,44.03 132.12,44.03 132.25,44.03 132.38,44.02 132.51,44.02 132.64,44.02 132.77,44.02 132.9,44.01 133.03,44.01 133.16,44.01 133.29,44.01 133.42,44 133.55,45.6 133.68,47.2 133.81,48.79 133.94,50.39 134.07,51.99 134.2,53.59 134.33,55.18 134.46,56.78 134.59,58.38 134.72,59.98 134.85,61.57 134.98,63.17 135.11,64.77 135.24,66.37 135.37,67.96 135.5,69.56 135.63,67.96 135.76,66.35 135.89,64.75 136.02,63.15 136.15,61.55 136.28,59.94 136.41,58.34 136.54,56.74 136.67,55.14 136.8,53.53 136.93,51.93 137.06,50.33 137.19,48.73 137.32,47.12 137.45,45.52 137.58,43.92 137.71,43.91 137.84,43.91 137.97,43.91 138.1,43.91 138.23,43.9 138.36,43.9 138.49,43.9 138.62,43.9 138.75,43.89 138.88,43.89 139.01,43.89 139.14,43.89 139.27,43.88 139.4,43.88 139.53,43.88 139.66,43.87 139.79,43.87 139.92,43.87 140.05,43.87 140.18,43.86 140.31,43.86 140.44,43.86 140.57,43.86 140.7,43.85 140.83,43.85 140.96,43.85 141.09,43.85 141.22,43.84 141.35,43.84 141.48,43.84 141.61,43.83 141.74,43.83 141.87,43.83 142,43.83 142.13,43.82 142.26,43.82 142.39,43.82 142.52,43.82 142.65,43.81 142.78,43.81 142.91,43.81 143.04,43.81 143.17,43.8 143.3,43.8 143.43,43.8 143.56,43.79 143.69,43.79 143.82,43.79 143.95,43.79 144.08,43.78 144.21,43.78 144.34,43.78 144.47,43.78 144.6,43.77 144.73,43.77 144.86,43.77 144.99,43.77 145.12,43.76 145.25,43.76 145.38,43.76 145.51,43.75 145.64,43.75 145.77,43.75 145.9,43.75 146.03,43.74 146.16,43.74 146.29,43.74 146.42,43.74 146.55,45.33 146.68,46.93 146.81,48.53 146.94,50.13 147.07,51.72 147.2,53.32 147.33,54.92 147.46,56.51 147.59,58.11 147.72,59.71 147.85,61.31 147.98,62.9 148.11,64.5 148.24,66.1 148.37,67.7 148.5,69.29 148.63,67.69 148.76,66.09 148.89,64.49 149.02,62.88 149.15,61.28 149.28,59.68 149.41,58.07 149.54,56.47 149.67,54.87 149.8,53.27 149.93,51.66 150.06,50.06 150.19,48.46 150.32,46.86 150.45,45.25 150.58,43.65 150.71,43.65 150.84,43.65 150.97,43.64 151.1,43.64 151.23,43.64 151.36,43.63 151.49,43.63 151.62,43.63 151.75,43.63 151.88,43.62 152.01,43.62 152.14,43.62 152.27,43.62 152.4,43.61 152.53,43.61 152.66,43.61 152.79,43.61 152.92,43.6 153.05,43.6 153.18,43.6 153.31,43.59 153.44,43.59 153.57,43.59 153.7,43.59 153.83,43.58 153.96,43.58 154.09,43.58 154.22,43.58 154.35,43.57 154.48,43.57 154.61,43.57 154.74,43.57 154.87,43.56 155,43.56 155.13,43.56 155.26,43.55 155.39,43.55 155.52,43.55 155.65,43.55 155.78,43.54 155.91,43.54 156.04,43.54 156.17,43.54 156.3,43.53 156.43,43.53 156.56,43.53 156.69,43.53 156.82,43.52 156.95,43.52 157.08,43.52 157.21,43.51 157.34,43.51 157.47,43.51 157.6,43.51 157.73,43.5 157.86,43.5 157.99,43.5 158.12,43.5 158.25,43.49 158.38,43.49 158.51,43.49 158.64,43.49 158.77,43.48 158.9,43.48 159.03,43.48 159.16,43.47 159.29,43.47 159.42,43.47 159.55,43.47 159.68,43.46 159.81,43.46 159.94,43.46 160.07,43.46 160.2,43.45 160.33,43.45 160.46,43.45 160.59,43.45 160.72,43.44 160.85,43.44 160.98,43.44 161.11,43.43 161.24,43.43 161.37,43.43 161.5,43.43 161.63,43.42 161.76,43.42 161.89,43.42 162.02,43.42 162.15,43.41 162.28,43.41 162.41,43.41 162.54,43.41 162.67,43.4 162.8,43.4 162.93,43.4 163.06,43.39 163.19,43.39 163.32,43.39 163.45,43.39 163.58,43.38 163.71,43.38 163.84,43.38 163.97,43.38 164.1,43.37 164.23,43.37 164.36,43.37 164.49,43.37 164.62,43.36 164.75,43.36 164.88,43.36 165.01,43.35 165.14,43.35 165.27,43.35 165.4,43.35 165.53,43.34 165.66,43.34 165.79,43.34 165.92,43.34 166.05,43.33 166.18,43.33 166.31,43.33 166.44,43.33 166.57,43.32 166.7,43.32 166.83,43.32 166.96,43.31 167.09,43.31 167.22,43.31 167.35,43.31 167.48,43.3 167.61,43.3 167.74,43.3 167.87,43.3 168,43.29 168.13,43.29 168.26,43.29 168.39,43.29 168.52,43.28 168.65,43.28 168.78,43.28 168.91,43.27 169.04,43.27 169.17,43.27 169.3,43.27 169.43,43.26 169.56,43.26 169.69,43.26 169.82,43.26 169.95,43.25 170.08,43.25 170.21,43.25 170.34,43.25 170.47,43.24 170.6,43.24 170.73,43.24 170.86,43.23 170.99,43.23 171.12,43.23 171.25,43.23 171.38,43.22 171.51,43.22 171.64,43.22 171.77,43.22 171.9,43.21 172.03,43.21 172.16,43.21 172.29,43.21 172.42,43.2 172.55,43.2 172.68,43.2 172.81,43.19 172.94,43.19 173.07,43.19 173.2,43.19 173.33,43.18 173.46,43.18 173.59,43.18 173.72,43.18 173.85,43.17 173.98,43.17 174.11,43.17 174.24,43.17 174.37,43.16 174.5,43.16 174.63,43.16 174.76,43.15 174.89,43.15 175.02,43.15 175.15,43.15 175.28,43.14 175.41,43.14 175.54,43.14 175.67,43.14 175.8,43.13 175.93,43.13 176.06,43.13 176.19,43.13 176.32,43.12 176.45,43.12 176.58,43.12 176.71,43.11 176.84,43.11 176.97,43.11 177.1,43.11 177.23,43.1 177.36,43.1 177.49,43.1 177.62,43.1 177.75,43.09 177.88,43.09 178.01,43.09 178.14,43.09 178.27,43.08 178.4,43.08 178.53,43.08 178.66,43.07 178.79,43.07 178.92,43.07 179.05,43.07 179.18,43.06 179.31,43.06 179.44,43.06 179.57,43.06 179.7,43.05 179.83,43.05 179.96,43.05 180.09,43.05 180.22,43.04 180.35,43.04 180.48,43.04 180.61,43.03 180.74,43.03 180.87,43.03 181,43.03 181.13,43.02 181.26,43.02 181.39,43.02 181.52,43.02 181.65,43.01 181.78,43.01 181.91,43.01 182.04,43.01 182.17,43 182.3,43 182.43,43 182.56,42.99 182.69,42.99 182.82,42.99 182.95,42.99 183.08,42.98 183.21,42.98 183.34,42.98 183.47,42.98 183.6,42.97 183.73,42.97 183.86,42.97 183.99,42.97 184.12,42.96 184.25,42.96 184.38,42.96 184.51,42.95 184.64,42.95 184.77,42.95 184.9,42.95 185.03,42.94 185.16,42.94 185.29,42.94 185.42,42.94 185.55,42.93 185.68,42.93 185.81,42.93 185.94,42.93 186.07,42.92 186.2,42.92 186.33,42.92 186.46,42.91 186.59,42.91 186.72,42.91 186.85,42.91 186.98,42.9 187.11,42.9 187.24,42.9 187.37,42.9 187.5,42.89 187.63,42.89 187.76,42.89 187.89,42.89 188.02,42.88 188.15,42.88 188.28,42.88 188.41,42.87 188.54,42.87 188.67,42.87 188.8,42.87 188.93,42.86 189.06,42.86 189.19,42.86 189.32,42.86 189.45,42.85 189.58,42.85 189.71,42.85 189.84,42.85 189.97,42.84 190.1,42.84 190.23,42.84 190.36,42.83 190.49,42.83 190.62,42.83 190.75,42.83 190.88,42.82 191.01,42.82 191.14,42.82 191.27,42.82 191.4,42.81 191.53,42.81 191.66,42.81 191.79,42.81 191.92,42.8 192.05,42.8 192.18,42.8 192.31,42.79 192.44,42.79 192.57,42.79 192.7,42.79 192.83,42.78 192.96,42.78 193.09,42.78 193.22,42.78 193.35,42.77 193.48,42.77 193.61,42.77 193.74,42.77 193.87,42.76 194,42.76 194.13,42.76 194.26,42.75 194.39,42.75 194.52,42.75 194.65,42.75 194.78,42.74 194.91,42.74 195.04,42.74 195.17,42.74 195.3,42.73 195.43,42.73 195.56,42.73 195.69,42.73 195.82,42.72 195.95,42.72 196.08,42.72 196.21,42.71 196.34,42.71 196.47,42.71 196.6,42.71 196.73,42.7 196.86,42.7 196.99,42.7 197.12,42.7 197.25,42.69 197.38,42.69 197.51,42.69 197.64,42.69 197.77,42.68 197.9,42.68 198.03,42.68 198.16,42.67 198.29,42.67 198.42,42.67 198.55,42.67 198.68,42.66 198.81,42.66 198.94,42.66 199.07,42.66 199.2,42.65 199.33,42.65 199.46,42.65 199.59,42.65 199.72,42.64 199.85,42.64 199.98,42.64 200.11,42.63 200.24,42.63 200.37,42.63 200.5,42.63 200.63,42.62 200.76,42.62 200.89,42.62 201.02,42.62 201.15,42.61 201.28,42.61 201.41,42.61 201.54,42.61 201.67,42.6 201.8,42.6 201.93,42.6 202.06,42.59 202.19,42.59 202.32,42.59 202.45,42.59 202.58,42.58 202.71,42.58 202.84,42.58 202.97,42.58 203.1,42.57 203.23,42.57 203.36,42.57 203.49,42.57 203.62,42.56 203.75,42.56 203.88,42.56 204.01,42.55 204.14,42.55 204.27,42.55 204.4,42.55 204.53,42.54 204.66,42.54 204.79,42.54 204.92,42.54 205.05,42.53 205.18,42.53 205.31,42.53 205.44,42.53 205.57,42.52 205.7,42.52 205.83,42.52 205.96,42.51 206.09,42.51 206.22,42.51 206.35,42.51 206.48,42.5 206.61,42.5 206.74,42.5 206.87,42.5 207,42.49 207.13,42.49 207.26,42.49 207.39,42.49 207.52,42.48 207.65,42.48 207.78,42.48 207.91,42.47 208.04,42.47 208.17,42.47 208.3,42.47 208.43,42.46 208.56,42.46 208.69,42.46 208.82,42.46 208.95,42.45 209.08,42.45 209.21,42.45 209.34,42.45 209.47,42.44 209.6,42.44 209.73,42.44 209.86,42.43 209.99,42.43 210.12,42.43 210.25,42.43 210.38,42.42 210.51,42.42 210.64,42.42 210.77,42.42 210.9,42.41 211.03,42.41 211.16,42.41 211.29,42.41 211.42,42.4 211.55,42.4 211.68,42.4 211.81,42.39 211.94,42.39 212.07,42.39 212.2,42.39 212.33,42.38 212.46,42.38 212.59,42.38 212.72,42.38 212.85,42.37 212.98,42.37 213.11,42.37 213.24,42.37 213.37,42.36 213.5,42.36" fill="none" stroke="#1f7fd0" stroke-width="1.2" stroke-linejoin="round" stroke-dasharray="1.6,1.2" clip-path="url(#ca)"/>
<rect x="155.5" y="5.8" width="15" height="25.6" fill="#ffffff" stroke="#c0c0c0" stroke-width="0.45"/>
<polyline points="155.5,20.18 155.69,20.18 155.88,20.18 156.06,20.18 156.25,20.18 156.44,20.18 156.62,20.18 156.81,20.18 157,20.18 157.19,20.18 157.38,20.18 157.56,20.18 157.75,20.18 157.94,20.18 158.12,20.18 158.31,20.18 158.5,20.18 158.69,20.18 158.88,20.18 159.06,20.18 159.25,20.18 159.44,20.18 159.62,20.18 159.81,19.51 160,18.42 160.19,17.37 160.38,16.36 160.56,15.39 160.75,14.47 160.94,13.59 161.12,12.76 161.31,11.98 161.5,11.25 161.69,10.57 161.88,9.95 162.06,9.38 162.25,8.88 162.44,8.45 162.62,8.1 162.81,7.85 163,7.72 163.19,7.85 163.38,8.1 163.56,8.45 163.75,8.88 163.94,9.38 164.12,9.95 164.31,10.57 164.5,11.25 164.69,11.98 164.88,12.76 165.06,13.59 165.25,14.47 165.44,15.39 165.62,16.36 165.81,17.37 166,18.42 166.19,19.51 166.38,20.18 166.56,20.18 166.75,20.18 166.94,20.18 167.12,20.18 167.31,20.18 167.5,20.18 167.69,20.18 167.88,20.18 168.06,20.18 168.25,20.18 168.44,20.18 168.62,20.18 168.81,20.18 169,20.18 169.19,20.18 169.38,20.18 169.56,20.18 169.75,20.18 169.94,20.18 170.12,20.18 170.31,20.18 170.5,20.18" fill="none" stroke="#222222" stroke-width="0.9" stroke-linejoin="round" clip-path="url(#ci)"/>
<polyline points="155.5,22.31 155.69,22.31 155.88,22.31 156.06,22.31 156.25,22.31 156.44,22.31 156.62,22.31 156.81,22.31 157,22.31 157.19,22.31 157.38,22.31 157.56,22.31 157.75,22.31 157.94,22.31 158.12,22.31 158.31,22.31 158.5,22.31 158.69,22.31 158.88,22.31 159.06,22.31 159.25,22.31 159.44,22.31 159.62,22.31 159.81,22.31 160,22.31 160.19,22.16 160.38,21.4 160.56,20.68 160.75,19.99 160.94,19.33 161.12,18.71 161.31,18.12 161.5,17.57 161.69,17.07 161.88,16.6 162.06,16.18 162.25,15.8 162.44,15.48 162.62,15.22 162.81,15.03 163,14.93 163.19,15.03 163.38,15.22 163.56,15.48 163.75,15.8 163.94,16.18 164.12,16.6 164.31,17.07 164.5,17.57 164.69,18.12 164.88,18.71 165.06,19.33 165.25,19.99 165.44,20.68 165.62,21.4 165.81,22.16 166,22.31 166.19,22.31 166.38,22.31 166.56,22.31 166.75,22.31 166.94,22.31 167.12,22.31 167.31,22.31 167.5,22.31 167.69,22.31 167.88,22.31 168.06,22.31 168.25,22.31 168.44,22.31 168.62,22.31 168.81,22.31 169,22.31 169.19,22.31 169.38,22.31 169.56,22.31 169.75,22.31 169.94,22.31 170.12,22.31 170.31,22.31 170.5,22.31" fill="none" stroke="#ff1a1a" stroke-width="0.9" stroke-linejoin="round" clip-path="url(#ci)"/>
<polyline points="155.5,22.1 155.69,22.1 155.88,22.1 156.06,22.1 156.25,22.1 156.44,22.1 156.62,22.1 156.81,22.1 157,22.1 157.19,22.1 157.38,22.1 157.56,22.1 157.75,22.1 157.94,22.1 158.12,22.1 158.31,22.1 158.5,22.1 158.69,22.1 158.88,22.1 159.06,22.1 159.25,22.1 159.44,22.1 159.62,22.1 159.81,22.1 160,22.1 160.19,22.1 160.38,22.1 160.56,22.1 160.75,22.1 160.94,21.5 161.12,20.93 161.31,20.4 161.5,19.9 161.69,19.44 161.88,19.01 162.06,18.63 162.25,18.29 162.44,17.99 162.62,17.75 162.81,17.58 163,17.49 163.19,17.58 163.38,17.75 163.56,17.99 163.75,18.29 163.94,18.63 164.12,19.01 164.31,19.44 164.5,19.9 164.69,20.4 164.88,20.93 165.06,21.5 165.25,22.1 165.44,22.1 165.62,22.1 165.81,22.1 166,22.1 166.19,22.1 166.38,22.1 166.56,22.1 166.75,22.1 166.94,22.1 167.12,22.1 167.31,22.1 167.5,22.1 167.69,22.1 167.88,22.1 168.06,22.1 168.25,22.1 168.44,22.1 168.62,22.1 168.81,22.1 169,22.1 169.19,22.1 169.38,22.1 169.56,22.1 169.75,22.1 169.94,22.1 170.12,22.1 170.31,22.1 170.5,22.1" fill="none" stroke="#7fcf7f" stroke-width="0.7" stroke-linejoin="round" clip-path="url(#ci)"/>
<polyline points="155.5,22.06 155.69,22.06 155.88,22.06 156.06,22.06 156.25,22.06 156.44,22.06 156.62,22.06 156.81,22.06 157,22.06 157.19,22.06 157.38,22.06 157.56,22.06 157.75,22.06 157.94,22.06 158.12,22.06 158.31,22.06 158.5,22.06 158.69,22.06 158.88,22.06 159.06,22.06 159.25,22.06 159.44,22.06 159.62,22.06 159.81,22.06 160,22.06 160.19,22.06 160.38,22.06 160.56,22.06 160.75,22.06 160.94,21.97 161.12,21.88 161.31,21.8 161.5,21.73 161.69,21.66 161.88,21.6 162.06,21.54 162.25,21.49 162.44,21.45 162.62,21.41 162.81,21.39 163,21.37 163.19,21.39 163.38,21.41 163.56,21.45 163.75,21.49 163.94,21.54 164.12,21.6 164.31,21.66 164.5,21.73 164.69,21.8 164.88,21.88 165.06,21.97 165.25,22.06 165.44,22.06 165.62,22.06 165.81,22.06 166,22.06 166.19,22.06 166.38,22.06 166.56,22.06 166.75,22.06 166.94,22.06 167.12,22.06 167.31,22.06 167.5,22.06 167.69,22.06 167.88,22.06 168.06,22.06 168.25,22.06 168.44,22.06 168.62,22.06 168.81,22.06 169,22.06 169.19,22.06 169.38,22.06 169.56,22.06 169.75,22.06 169.94,22.06 170.12,22.06 170.31,22.06 170.5,22.06" fill="none" stroke="#f0a030" stroke-width="0.7" stroke-linejoin="round" clip-path="url(#ci)"/>
<polyline points="155.5,24.36 155.69,24.51 155.88,24.66 156.06,24.81 156.25,24.96 156.44,25.11 156.62,25.26 156.81,25.41 157,25.55 157.19,25.7 157.38,25.85 157.56,26 157.75,26.15 157.94,26.3 158.12,26.45 158.31,26.6 158.5,26.75 158.69,26.9 158.88,27.05 159.06,27.2 159.25,27.35 159.44,27.5 159.62,27.65 159.81,27.79 160,27.94 160.19,28.09 160.38,28.24 160.56,28.39 160.75,28.54 160.94,28.69 161.12,28.84 161.31,28.99 161.5,29.14 161.69,29.29 161.88,29.44 162.06,29.59 162.25,29.74 162.44,29.89 162.62,30.03 162.81,30.18 163,30.33 163.19,30.18 163.38,30.03 163.56,29.89 163.75,29.74 163.94,29.59 164.12,29.44 164.31,29.29 164.5,29.14 164.69,28.99 164.88,28.84 165.06,28.69 165.25,28.54 165.44,28.39 165.62,28.24 165.81,28.09 166,27.94 166.19,27.79 166.38,27.65 166.56,27.5 166.75,27.35 166.94,27.2 167.12,27.05 167.31,26.9 167.5,26.75 167.69,26.6 167.88,26.45 168.06,26.3 168.25,26.15 168.44,26 168.62,25.85 168.81,25.7 169,25.55 169.19,25.41 169.38,25.26 169.56,25.11 169.75,24.96 169.94,24.81 170.12,24.66 170.31,24.51 170.5,24.36" fill="none" stroke="#1f7fd0" stroke-width="1.1" stroke-linejoin="round" stroke-dasharray="1.2,0.9" clip-path="url(#ci)"/>
<text x="154.9" y="6.5" font-size="2.6" text-anchor="end" dominant-baseline="central" class="t">160</text>
<text x="154.9" y="15.03" font-size="2.6" text-anchor="end" dominant-baseline="central" class="t">140</text>
<text x="154.9" y="23.57" font-size="2.6" text-anchor="end" dominant-baseline="central" class="t">120</text>
<text x="154.9" y="32.1" font-size="2.6" text-anchor="end" dominant-baseline="central" class="t">100</text>
<text x="155.5" y="34.3" font-size="2.6" text-anchor="middle" dominant-baseline="central" class="t">290</text>
<text x="163" y="34.3" font-size="2.6" text-anchor="middle" dominant-baseline="central" class="t">300</text>
<text x="170.5" y="34.3" font-size="2.6" text-anchor="middle" dominant-baseline="central" class="t">310</text>
<rect x="172.8" y="3.6" width="38.5" height="23.4" fill="#ffffff" stroke="#b0b0b0" stroke-width="0.5"/>
<line x1="173.5" y1="6.3" x2="181.6" y2="6.3" stroke="#3a3a3a" stroke-width="1.4"/>
<text x="182.4" y="7" font-size="3.5" text-anchor="start" dominant-baseline="central" class="lg">ANC off</text>
<line x1="173.5" y1="10.8" x2="181.6" y2="10.8" stroke="#ff1a1a" stroke-width="1.4"/>
<text x="182.4" y="11.5" font-size="3.5" text-anchor="start" dominant-baseline="central" class="lg">BANC, l=10</text>
<line x1="173.5" y1="15.3" x2="181.6" y2="15.3" stroke="#7fcf7f" stroke-width="1.1"/>
<text x="182.4" y="16" font-size="3.5" text-anchor="start" dominant-baseline="central" class="lg">BANC, l=100</text>
<line x1="173.5" y1="19.8" x2="181.6" y2="19.8" stroke="#f0a030" stroke-width="1.1"/>
<text x="182.4" y="20.5" font-size="3.5" text-anchor="start" dominant-baseline="central" class="lg">BANC, l=1000</text>
<line x1="173.5" y1="24.3" x2="181.6" y2="24.3" stroke="#1f7fd0" stroke-width="1.3" stroke-dasharray="1.8,2.6"/>
<text x="182.4" y="25" font-size="3.5" text-anchor="start" dominant-baseline="central" class="lg">SA-FFTANC, l=10</text>
<text x="161.5" y="74.8" font-size="4.1" text-anchor="middle" dominant-baseline="central">Frequency(Hz)</text>
<text x="161.1" y="79.5" font-size="4.3" text-anchor="middle" dominant-baseline="central" letter-spacing="0.45">(a)</text>
<text x="98.4" y="33.4" font-size="4.1" text-anchor="middle" dominant-baseline="central" transform="rotate(-90 98.4 33.4)">PSD(dB)</text>
<rect x="244" y="1.4" width="104" height="64" fill="none" stroke="#9a9a9a" stroke-width="0.55"/>
<line x1="244" y1="65.4" x2="244" y2="64.4" stroke="#9a9a9a" stroke-width="0.5"/>
<line x1="244" y1="1.4" x2="244" y2="2.4" stroke="#9a9a9a" stroke-width="0.5"/>
<line x1="255.56" y1="65.4" x2="255.56" y2="64.4" stroke="#9a9a9a" stroke-width="0.5"/>
<line x1="255.56" y1="1.4" x2="255.56" y2="2.4" stroke="#9a9a9a" stroke-width="0.5"/>
<line x1="267.11" y1="65.4" x2="267.11" y2="64.4" stroke="#9a9a9a" stroke-width="0.5"/>
<line x1="267.11" y1="1.4" x2="267.11" y2="2.4" stroke="#9a9a9a" stroke-width="0.5"/>
<line x1="278.67" y1="65.4" x2="278.67" y2="64.4" stroke="#9a9a9a" stroke-width="0.5"/>
<line x1="278.67" y1="1.4" x2="278.67" y2="2.4" stroke="#9a9a9a" stroke-width="0.5"/>
<line x1="290.22" y1="65.4" x2="290.22" y2="64.4" stroke="#9a9a9a" stroke-width="0.5"/>
<line x1="290.22" y1="1.4" x2="290.22" y2="2.4" stroke="#9a9a9a" stroke-width="0.5"/>
<line x1="301.78" y1="65.4" x2="301.78" y2="64.4" stroke="#9a9a9a" stroke-width="0.5"/>
<line x1="301.78" y1="1.4" x2="301.78" y2="2.4" stroke="#9a9a9a" stroke-width="0.5"/>
<line x1="313.33" y1="65.4" x2="313.33" y2="64.4" stroke="#9a9a9a" stroke-width="0.5"/>
<line x1="313.33" y1="1.4" x2="313.33" y2="2.4" stroke="#9a9a9a" stroke-width="0.5"/>
<line x1="324.89" y1="65.4" x2="324.89" y2="64.4" stroke="#9a9a9a" stroke-width="0.5"/>
<line x1="324.89" y1="1.4" x2="324.89" y2="2.4" stroke="#9a9a9a" stroke-width="0.5"/>
<line x1="336.44" y1="65.4" x2="336.44" y2="64.4" stroke="#9a9a9a" stroke-width="0.5"/>
<line x1="336.44" y1="1.4" x2="336.44" y2="2.4" stroke="#9a9a9a" stroke-width="0.5"/>
<line x1="348" y1="65.4" x2="348" y2="64.4" stroke="#9a9a9a" stroke-width="0.5"/>
<line x1="348" y1="1.4" x2="348" y2="2.4" stroke="#9a9a9a" stroke-width="0.5"/>
<line x1="244" y1="65.4" x2="245" y2="65.4" stroke="#9a9a9a" stroke-width="0.5"/>
<line x1="348" y1="65.4" x2="347" y2="65.4" stroke="#9a9a9a" stroke-width="0.5"/>
<line x1="244" y1="49.4" x2="245" y2="49.4" stroke="#9a9a9a" stroke-width="0.5"/>
<line x1="348" y1="49.4" x2="347" y2="49.4" stroke="#9a9a9a" stroke-width="0.5"/>
<line x1="244" y1="33.4" x2="245" y2="33.4" stroke="#9a9a9a" stroke-width="0.5"/>
<line x1="348" y1="33.4" x2="347" y2="33.4" stroke="#9a9a9a" stroke-width="0.5"/>
<line x1="244" y1="17.4" x2="245" y2="17.4" stroke="#9a9a9a" stroke-width="0.5"/>
<line x1="348" y1="17.4" x2="347" y2="17.4" stroke="#9a9a9a" stroke-width="0.5"/>
<line x1="244" y1="1.4" x2="245" y2="1.4" stroke="#9a9a9a" stroke-width="0.5"/>
<line x1="348" y1="1.4" x2="347" y2="1.4" stroke="#9a9a9a" stroke-width="0.5"/>
<text x="244" y="70.1" font-size="3.7" text-anchor="middle" dominant-baseline="central" class="t">1</text>
<text x="255.56" y="70.1" font-size="3.7" text-anchor="middle" dominant-baseline="central" class="t">2</text>
<text x="267.11" y="70.1" font-size="3.7" text-anchor="middle" dominant-baseline="central" class="t">3</text>
<text x="278.67" y="70.1" font-size="3.7" text-anchor="middle" dominant-baseline="central" class="t">4</text>
<text x="290.22" y="70.1" font-size="3.7" text-anchor="middle" dominant-baseline="central" class="t">5</text>
<text x="301.78" y="70.1" font-size="3.7" text-anchor="middle" dominant-baseline="central" class="t">6</text>
<text x="313.33" y="70.1" font-size="3.7" text-anchor="middle" dominant-baseline="central" class="t">7</text>
<text x="324.89" y="70.1" font-size="3.7" text-anchor="middle" dominant-baseline="central" class="t">8</text>
<text x="336.44" y="70.1" font-size="3.7" text-anchor="middle" dominant-baseline="central" class="t">9</text>
<text x="348" y="70.1" font-size="3.7" text-anchor="middle" dominant-baseline="central" class="t">10</text>
<text x="242.4" y="66.1" font-size="3.7" text-anchor="end" dominant-baseline="central" class="t">-3</text>
<text x="242.4" y="50.1" font-size="3.7" text-anchor="end" dominant-baseline="central" class="t">-2</text>
<text x="242.4" y="34.1" font-size="3.7" text-anchor="end" dominant-baseline="central" class="t">-1</text>
<text x="242.4" y="18.1" font-size="3.7" text-anchor="end" dominant-baseline="central" class="t">0</text>
<text x="242.4" y="2.1" font-size="3.7" text-anchor="end" dominant-baseline="central" class="t">1</text>
<polyline points="244,59.48 255.56,13.88 267.11,13.88 278.67,14.36 290.22,14.84 301.78,15.48 313.33,15.96 324.89,16.92 336.44,17.4 348,20.28" fill="none" stroke="#8fd68f" stroke-width="0.7" stroke-linejoin="round" clip-path="url(#cb)"/>
<polyline points="244,50.04 255.56,4.28 267.11,19.96 278.67,19.16 290.22,18.68 301.78,18.36 313.33,17.88 324.89,17.08 336.44,16.76 348,16.28" fill="none" stroke="#ff1a1a" stroke-width="1.4" stroke-linejoin="round" clip-path="url(#cb)"/>
<polyline points="244,46.68 255.56,1.4 267.11,17.4 278.67,17.4 290.22,17.4 301.78,17.4 313.33,17.24 324.89,17.08 336.44,16.92 348,16.6" fill="none" stroke="#1f7fd0" stroke-width="0.9" stroke-linejoin="round" stroke-dasharray="1.5,1.2" clip-path="url(#cb)"/>
<rect x="243.15" y="58.63" width="1.7" height="1.7" fill="#108a10" stroke="none" stroke-width="0.6"/>
<rect x="254.71" y="13.03" width="1.7" height="1.7" fill="#108a10" stroke="none" stroke-width="0.6"/>
<rect x="266.26" y="13.03" width="1.7" height="1.7" fill="#108a10" stroke="none" stroke-width="0.6"/>
<rect x="277.82" y="13.51" width="1.7" height="1.7" fill="#108a10" stroke="none" stroke-width="0.6"/>
<rect x="289.37" y="13.99" width="1.7" height="1.7" fill="#108a10" stroke="none" stroke-width="0.6"/>
<rect x="300.93" y="14.63" width="1.7" height="1.7" fill="#108a10" stroke="none" stroke-width="0.6"/>
<rect x="312.48" y="15.11" width="1.7" height="1.7" fill="#108a10" stroke="none" stroke-width="0.6"/>
<rect x="324.04" y="16.07" width="1.7" height="1.7" fill="#108a10" stroke="none" stroke-width="0.6"/>
<rect x="335.59" y="16.55" width="1.7" height="1.7" fill="#108a10" stroke="none" stroke-width="0.6"/>
<rect x="347.15" y="19.43" width="1.7" height="1.7" fill="#108a10" stroke="none" stroke-width="0.6"/>
<circle cx="244" cy="50.04" r="1.05" fill="#ff1a1a"/>
<circle cx="255.56" cy="4.28" r="1.05" fill="#ff1a1a"/>
<circle cx="267.11" cy="19.96" r="1.05" fill="#ff1a1a"/>
<circle cx="278.67" cy="19.16" r="1.05" fill="#ff1a1a"/>
<circle cx="290.22" cy="18.68" r="1.05" fill="#ff1a1a"/>
<circle cx="301.78" cy="18.36" r="1.05" fill="#ff1a1a"/>
<circle cx="313.33" cy="17.88" r="1.05" fill="#ff1a1a"/>
<circle cx="324.89" cy="17.08" r="1.05" fill="#ff1a1a"/>
<circle cx="336.44" cy="16.76" r="1.05" fill="#ff1a1a"/>
<circle cx="348" cy="16.28" r="1.05" fill="#ff1a1a"/>
<circle cx="244" cy="46.68" r="0.85" fill="#1565c0"/>
<circle cx="255.56" cy="1.4" r="0.85" fill="#1565c0"/>
<circle cx="267.11" cy="17.4" r="0.85" fill="#1565c0"/>
<circle cx="278.67" cy="17.4" r="0.85" fill="#1565c0"/>
<circle cx="290.22" cy="17.4" r="0.85" fill="#1565c0"/>
<circle cx="301.78" cy="17.4" r="0.85" fill="#1565c0"/>
<circle cx="313.33" cy="17.24" r="0.85" fill="#1565c0"/>
<circle cx="324.89" cy="17.08" r="0.85" fill="#1565c0"/>
<circle cx="336.44" cy="16.92" r="0.85" fill="#1565c0"/>
<circle cx="348" cy="16.6" r="0.85" fill="#1565c0"/>
<rect x="308.3" y="48.7" width="37.2" height="14" fill="#ffffff" stroke="#b0b0b0" stroke-width="0.5"/>
<line x1="308.9" y1="51.5" x2="315.3" y2="51.5" stroke="#1f7fd0" stroke-width="0.9" stroke-dasharray="1.4,1.0"/>
<circle cx="312.1" cy="51.5" r="0.9" fill="#1565c0"/>
<text x="317.8" y="52.2" font-size="3.3" text-anchor="start" dominant-baseline="central" class="lg">Broadband noise</text>
<line x1="308.9" y1="56" x2="315.3" y2="56" stroke="#8fd68f" stroke-width="0.8"/>
<circle cx="312.1" cy="56" r="0.9" fill="#108a10"/>
<text x="317.8" y="56.7" font-size="3.3" text-anchor="start" dominant-baseline="central" class="lg">Narrowband noise</text>
<line x1="308.9" y1="60.2" x2="315.3" y2="60.2" stroke="#ff1a1a" stroke-width="1"/>
<circle cx="312.1" cy="60.2" r="0.9" fill="#ff1a1a"/>
<text x="317.8" y="60.9" font-size="3.3" text-anchor="start" dominant-baseline="central" class="lg">Mixed noise</text>
<text x="295.8" y="74.8" font-size="4.1" text-anchor="middle" dominant-baseline="central">n</text>
<text x="296.8" y="80.1" font-size="4.3" text-anchor="middle" dominant-baseline="central" letter-spacing="0.45">(b)</text>
<text x="236" y="33" font-size="3.7" text-anchor="middle" dominant-baseline="central" transform="rotate(-90 236 33)">w(n)</text>
<rect x="109.5" y="86" width="104" height="64" fill="none" stroke="#9a9a9a" stroke-width="0.55"/>
<line x1="109.5" y1="150" x2="109.5" y2="149" stroke="#9a9a9a" stroke-width="0.5"/>
<line x1="109.5" y1="86" x2="109.5" y2="87" stroke="#9a9a9a" stroke-width="0.5"/>
<line x1="122.5" y1="150" x2="122.5" y2="149" stroke="#9a9a9a" stroke-width="0.5"/>
<line x1="122.5" y1="86" x2="122.5" y2="87" stroke="#9a9a9a" stroke-width="0.5"/>
<line x1="135.5" y1="150" x2="135.5" y2="149" stroke="#9a9a9a" stroke-width="0.5"/>
<line x1="135.5" y1="86" x2="135.5" y2="87" stroke="#9a9a9a" stroke-width="0.5"/>
<line x1="148.5" y1="150" x2="148.5" y2="149" stroke="#9a9a9a" stroke-width="0.5"/>
<line x1="148.5" y1="86" x2="148.5" y2="87" stroke="#9a9a9a" stroke-width="0.5"/>
<line x1="161.5" y1="150" x2="161.5" y2="149" stroke="#9a9a9a" stroke-width="0.5"/>
<line x1="161.5" y1="86" x2="161.5" y2="87" stroke="#9a9a9a" stroke-width="0.5"/>
<line x1="174.5" y1="150" x2="174.5" y2="149" stroke="#9a9a9a" stroke-width="0.5"/>
<line x1="174.5" y1="86" x2="174.5" y2="87" stroke="#9a9a9a" stroke-width="0.5"/>
<line x1="187.5" y1="150" x2="187.5" y2="149" stroke="#9a9a9a" stroke-width="0.5"/>
<line x1="187.5" y1="86" x2="187.5" y2="87" stroke="#9a9a9a" stroke-width="0.5"/>
<line x1="200.5" y1="150" x2="200.5" y2="149" stroke="#9a9a9a" stroke-width="0.5"/>
<line x1="200.5" y1="86" x2="200.5" y2="87" stroke="#9a9a9a" stroke-width="0.5"/>
<line x1="213.5" y1="150" x2="213.5" y2="149" stroke="#9a9a9a" stroke-width="0.5"/>
<line x1="213.5" y1="86" x2="213.5" y2="87" stroke="#9a9a9a" stroke-width="0.5"/>
<line x1="109.5" y1="150" x2="110.5" y2="150" stroke="#9a9a9a" stroke-width="0.5"/>
<line x1="213.5" y1="150" x2="212.5" y2="150" stroke="#9a9a9a" stroke-width="0.5"/>
<line x1="109.5" y1="140.86" x2="110.5" y2="140.86" stroke="#9a9a9a" stroke-width="0.5"/>
<line x1="213.5" y1="140.86" x2="212.5" y2="140.86" stroke="#9a9a9a" stroke-width="0.5"/>
<line x1="109.5" y1="131.71" x2="110.5" y2="131.71" stroke="#9a9a9a" stroke-width="0.5"/>
<line x1="213.5" y1="131.71" x2="212.5" y2="131.71" stroke="#9a9a9a" stroke-width="0.5"/>
<line x1="109.5" y1="122.57" x2="110.5" y2="122.57" stroke="#9a9a9a" stroke-width="0.5"/>
<line x1="213.5" y1="122.57" x2="212.5" y2="122.57" stroke="#9a9a9a" stroke-width="0.5"/>
<line x1="109.5" y1="113.43" x2="110.5" y2="113.43" stroke="#9a9a9a" stroke-width="0.5"/>
<line x1="213.5" y1="113.43" x2="212.5" y2="113.43" stroke="#9a9a9a" stroke-width="0.5"/>
<line x1="109.5" y1="104.29" x2="110.5" y2="104.29" stroke="#9a9a9a" stroke-width="0.5"/>
<line x1="213.5" y1="104.29" x2="212.5" y2="104.29" stroke="#9a9a9a" stroke-width="0.5"/>
<line x1="109.5" y1="95.14" x2="110.5" y2="95.14" stroke="#9a9a9a" stroke-width="0.5"/>
<line x1="213.5" y1="95.14" x2="212.5" y2="95.14" stroke="#9a9a9a" stroke-width="0.5"/>
<line x1="109.5" y1="86" x2="110.5" y2="86" stroke="#9a9a9a" stroke-width="0.5"/>
<line x1="213.5" y1="86" x2="212.5" y2="86" stroke="#9a9a9a" stroke-width="0.5"/>
<text x="109.5" y="154.7" font-size="3.7" text-anchor="middle" dominant-baseline="central" class="t">0</text>
<text x="122.5" y="154.7" font-size="3.7" text-anchor="middle" dominant-baseline="central" class="t">100</text>
<text x="135.5" y="154.7" font-size="3.7" text-anchor="middle" dominant-baseline="central" class="t">200</text>
<text x="148.5" y="154.7" font-size="3.7" text-anchor="middle" dominant-baseline="central" class="t">300</text>
<text x="161.5" y="154.7" font-size="3.7" text-anchor="middle" dominant-baseline="central" class="t">400</text>
<text x="174.5" y="154.7" font-size="3.7" text-anchor="middle" dominant-baseline="central" class="t">500</text>
<text x="187.5" y="154.7" font-size="3.7" text-anchor="middle" dominant-baseline="central" class="t">600</text>
<text x="200.5" y="154.7" font-size="3.7" text-anchor="middle" dominant-baseline="central" class="t">700</text>
<text x="213.5" y="154.7" font-size="3.7" text-anchor="middle" dominant-baseline="central" class="t">800</text>
<text x="107.9" y="150.7" font-size="3.7" text-anchor="end" dominant-baseline="central" class="t">90</text>
<text x="107.9" y="141.56" font-size="3.7" text-anchor="end" dominant-baseline="central" class="t">100</text>
<text x="107.9" y="132.41" font-size="3.7" text-anchor="end" dominant-baseline="central" class="t">110</text>
<text x="107.9" y="123.27" font-size="3.7" text-anchor="end" dominant-baseline="central" class="t">120</text>
<text x="107.9" y="114.13" font-size="3.7" text-anchor="end" dominant-baseline="central" class="t">130</text>
<text x="107.9" y="104.99" font-size="3.7" text-anchor="end" dominant-baseline="central" class="t">140</text>
<text x="107.9" y="95.84" font-size="3.7" text-anchor="end" dominant-baseline="central" class="t">150</text>
<text x="107.9" y="86.7" font-size="3.7" text-anchor="end" dominant-baseline="central" class="t">160</text>
<polyline points="109.5,118.26 109.76,118.13 110.02,118.16 110.28,118.09 110.54,117.8 110.8,118.47 111.06,118.09 111.32,118.13 111.58,118.24 111.84,118.03 112.1,118 112.36,117.32 112.62,117.92 112.88,118 113.14,117.76 113.4,118.29 113.66,118.16 113.92,117.85 114.18,118.14 114.44,118.27 114.7,118.16 114.96,118.37 115.22,117.69 115.48,117.65 115.74,117.28 116,118.08 116.26,118.06 116.52,118.05 116.78,117.85 117.04,118 117.3,117.78 117.56,118.08 117.82,118.39 118.08,117.56 118.34,118.14 118.6,117.68 118.86,118.09 119.12,117.96 119.38,118.46 119.64,118.27 119.9,117.89 120.16,117.84 120.42,118.06 120.68,117.96 120.94,118.51 121.2,117.99 121.46,118.19 121.72,118.28 121.98,117.9 122.24,118.12 122.5,118.24 122.76,118.11 123.02,118.11 123.28,118.08 123.54,117.98 123.8,118.12 124.06,117.75 124.32,117.57 124.58,117.72 124.84,118.09 125.1,118.18 125.36,117.89 125.62,118.06 125.88,117.62 126.14,117.94 126.4,117.88 126.66,118.16 126.92,117.95 127.18,118.3 127.44,118.41 127.7,117.95 127.96,118.31 128.22,118.17 128.48,117.76 128.74,117.57 129,117.99 129.26,118.12 129.52,117.79 129.78,117.74 130.04,117.86 130.3,118.24 130.56,118.14 130.82,117.72 131.08,118.3 131.34,117.98 131.6,117.67 131.86,117.72 132.12,118.18 132.38,118.08 132.64,118.06 132.9,118.3 133.16,117.98 133.42,118.23 133.68,117.83 133.94,118.29 134.2,118.17 134.46,118.16 134.72,117.99 134.98,118.67 135.24,117.74 135.5,118.06 135.76,117.96 136.02,117.66 136.28,117.99 136.54,117.89 136.8,117.96 137.06,117.77 137.32,117.81 137.58,117.68 137.84,118.01 138.1,118.28 138.36,117.92 138.62,118.3 138.88,118 139.14,118.09 139.4,118.58 139.66,118.09 139.92,118.27 140.18,118.35 140.44,118.49 140.7,117.89 140.96,117.83 141.22,118.31 141.48,118.28 141.74,118.23 142,118.29 142.26,117.85 142.52,118.27 142.78,117.75 143.04,118.66 143.3,118.5 143.56,117.79 143.82,118.11 144.08,118.56 144.34,117.42 144.6,117.83 144.86,117.93 145.12,118.7 145.38,117.78 145.64,118.03 145.9,118.07 146.16,118.13 146.42,118.51 146.68,118.35 146.94,117.91 147.2,117.76 147.46,117.84 147.72,117.91 147.98,117.97 148.24,117.88 148.5,117.43 148.76,118 149.02,118.44 149.28,117.9 149.54,118.11 149.8,118.31 150.06,118.36 150.32,117.81 150.58,118.2 150.84,118.07 151.1,118.25 151.36,117.71 151.62,118.13 151.88,118.13 152.14,118.43 152.4,118.36 152.66,117.72 152.92,118.29 153.18,117.74 153.44,117.88 153.7,117.92 153.96,117.95 154.22,118.01 154.48,117.7 154.74,117.98 155,118.39 155.26,118.09 155.52,117.59 155.78,118.33 156.04,118.01 156.3,118.03 156.56,117.7 156.82,118.24 157.08,117.63 157.34,118.3 157.6,117.97 157.86,118.31 158.12,117.95 158.38,118.16 158.64,118.41 158.9,117.91 159.16,118.27 159.42,117.81 159.68,118.68 159.94,117.56 160.2,118.02 160.46,117.51 160.72,117.79 160.98,117.97 161.24,118.04 161.5,118.11 161.76,117.79 162.02,118.02 162.28,118.38 162.54,118.04 162.8,117.83 163.06,117.94 163.32,117.89 163.58,117.84 163.84,118.62 164.1,117.91 164.36,117.55 164.62,117.83 164.88,118.05 165.14,118.27 165.4,118.13 165.66,117.45 165.92,118.09 166.18,117.82 166.44,117.98 166.7,117.79 166.96,118.29 167.22,118.49 167.48,118.07 167.74,117.94 168,118.68 168.26,118.04 168.52,117.92 168.78,118.03 169.04,118.08 169.3,118.5 169.56,118.22 169.82,118.3 170.08,117.78 170.34,117.92 170.6,117.86 170.86,118.43 171.12,118.34 171.38,117.93 171.64,118 171.9,117.71 172.16,118.16 172.42,118.16 172.68,117.78 172.94,118.22 173.2,118.12 173.46,117.66 173.72,117.56 173.98,118.1 174.24,118.36 174.5,118.14 174.76,118.79 175.02,117.77 175.28,117.54 175.54,117.89 175.8,118.23 176.06,118.28 176.32,118.11 176.58,117.9 176.84,117.73 177.1,117.63 177.36,117.48 177.62,117.85 177.88,117.64 178.14,118.67 178.4,118.32 178.66,117.93 178.92,118.25 179.18,118.06 179.44,117.94 179.7,117.78 179.96,117.92 180.22,117.92 180.48,118.03 180.74,117.83 181,117.65 181.26,118.11 181.52,117.86 181.78,117.92 182.04,118.03 182.3,118.24 182.56,118.17 182.82,118.1 183.08,117.85 183.34,117.85 183.6,117.76 183.86,118 184.12,118.31 184.38,117.9 184.64,118.56 184.9,117.74 185.16,117.5 185.42,118.25 185.68,118.14 185.94,118.57 186.2,118.05 186.46,118.1 186.72,117.92 186.98,117.87 187.24,118.03 187.5,117.66 187.76,117.73 188.02,118.08 188.28,117.79 188.54,118.34 188.8,118.47 189.06,118.34 189.32,117.51 189.58,118.27 189.84,118.26 190.1,118.04 190.36,118.01 190.62,117.77 190.88,117.65 191.14,118.04 191.4,118.12 191.66,118.2 191.92,118.24 192.18,118.25 192.44,118.13 192.7,117.95 192.96,117.75 193.22,117.83 193.48,118.03 193.74,117.78 194,118.26 194.26,117.55 194.52,117.77 194.78,117.48 195.04,117.94 195.3,118.32 195.56,117.48 195.82,118.04 196.08,118.26 196.34,118.57 196.6,118.57 196.86,117.91 197.12,117.84 197.38,118.12 197.64,117.51 197.9,118 198.16,117.79 198.42,118.27 198.68,118.24 198.94,118.3 199.2,117.83 199.46,117.97 199.72,117.99 199.98,117.91 200.24,117.98 200.5,117.9 200.76,118.76 201.02,117.81 201.28,117.81 201.54,117.71 201.8,117.97 202.06,118.2 202.32,118.33 202.58,117.72 202.84,118.2 203.1,117.75 203.36,117.91 203.62,118.24 203.88,117.94 204.14,117.62 204.4,117.92 204.66,118.43 204.92,117.97 205.18,118.07 205.44,117.92 205.7,118.02 205.96,117.83 206.22,118.15 206.48,117.96 206.74,117.71 207,117.84 207.26,117.92 207.52,117.9 207.78,117.69 208.04,117.71 208.3,117.83 208.56,118.47 208.82,118.35 209.08,118.18 209.34,117.99 209.6,118.29 209.86,118.43 210.12,118.03 210.38,118.25 210.64,118.28 210.9,118.21 211.16,118.27 211.42,117.95 211.68,117.77 211.94,118.1 212.2,118.27 212.46,117.83 212.72,118.21 212.98,118.07 213.24,118.12 213.5,118.16" fill="none" stroke="#2a2a2a" stroke-width="1" stroke-linejoin="round" clip-path="url(#cc)"/>
<polygon points="121.7,118 122.1,89.02 122.9,89.02 123.3,118" fill="#111111"/>
<polygon points="134.7,118 135.1,89.02 135.9,89.02 136.3,118" fill="#111111"/>
<polygon points="147.7,118 148.1,89.02 148.9,89.02 149.3,118" fill="#111111"/>
<polyline points="109.5,123.44 109.76,123.14 110.02,123.03 110.28,123.31 110.54,123.45 110.8,123.22 111.06,123.12 111.32,123.01 111.58,123.43 111.84,123.45 112.1,123.08 112.36,123.12 112.62,122.93 112.88,123.03 113.14,123.23 113.4,123.26 113.66,122.74 113.92,123.26 114.18,123.35 114.44,123.42 114.7,123.19 114.96,123.18 115.22,123.27 115.48,123.22 115.74,123.16 116,123.08 116.26,123.01 116.52,123.17 116.78,123.54 117.04,123.08 117.3,123.47 117.56,123.24 117.82,123.48 118.08,123.21 118.34,123.35 118.6,123.17 118.86,122.61 119.12,123.22 119.38,123.06 119.64,123.45 119.9,123.26 120.16,123.09 120.42,123.23 120.68,123.14 120.94,123.19 121.2,123.4 121.46,123.11 121.72,123.36 121.98,122.87 122.24,123.3 122.5,123.09 122.76,123.21 123.02,123.04 123.28,123.32 123.54,123.03 123.8,123.23 124.06,122.98 124.32,123.1 124.58,123.19 124.84,123.35 125.1,123.07 125.36,123.13 125.62,122.91 125.88,123.28 126.14,123.11 126.4,123.12 126.66,123.16 126.92,123.17 127.18,123.18 127.44,123.32 127.7,123.4 127.96,123.28 128.22,123.1 128.48,122.94 128.74,123.03 129,123.02 129.26,123.07 129.52,123.08 129.78,123.18 130.04,123.07 130.3,122.89 130.56,123.27 130.82,123.34 131.08,122.85 131.34,123.17 131.6,123.03 131.86,123.05 132.12,123.42 132.38,122.77 132.64,122.89 132.9,123.18 133.16,123.07 133.42,123.19 133.68,123.37 133.94,123.23 134.2,123.14 134.46,123.01 134.72,123.08 134.98,123.2 135.24,122.96 135.5,123.35 135.76,123.07 136.02,123.01 136.28,123.26 136.54,123.54 136.8,123.38 137.06,123.17 137.32,123.11 137.58,122.93 137.84,123.4 138.1,123.21 138.36,123.09 138.62,123.24 138.88,123.64 139.14,123.06 139.4,122.79 139.66,123.03 139.92,123.38 140.18,123.29 140.44,123.17 140.7,122.76 140.96,123.1 141.22,123.19 141.48,122.93 141.74,123.23 142,122.87 142.26,123.34 142.52,123.3 142.78,123.08 143.04,122.95 143.3,123.09 143.56,123.16 143.82,123.54 144.08,123.34 144.34,123.32 144.6,123.31 144.86,123.1 145.12,123.27 145.38,123.07 145.64,123.2 145.9,123.27 146.16,123.19 146.42,123.13 146.68,123.05 146.94,123.3 147.2,123.25 147.46,123.46 147.72,122.92 147.98,122.95 148.24,123.24 148.5,123.3 148.76,123.44 149.02,123.18 149.28,123.17 149.54,122.81 149.8,123.17 150.06,123.35 150.32,123.66 150.58,122.95 150.84,123.18 151.1,123.51 151.36,123.18 151.62,123.51 151.88,122.58 152.14,123.01 152.4,123.11 152.66,123.24 152.92,123.6 153.18,123.23 153.44,123.5 153.7,123.1 153.96,123.6 154.22,123.38 154.48,122.99 154.74,122.91 155,123.43 155.26,123.49 155.52,123.05 155.78,123.06 156.04,123.39 156.3,123.34 156.56,123.34 156.82,123.43 157.08,123.34 157.34,122.98 157.6,123.09 157.86,122.84 158.12,123.23 158.38,123.24 158.64,123.39 158.9,123.23 159.16,123.45 159.42,123.54 159.68,123.08 159.94,122.95 160.2,123.06 160.46,122.97 160.72,123.17 160.98,123.34 161.24,123.2 161.5,123.28 161.76,123.41 162.02,123.52 162.28,123.48 162.54,123.21 162.8,123.18 163.06,123.3 163.32,122.95 163.58,123.18 163.84,123.1 164.1,122.99 164.36,123.36 164.62,123.57 164.88,123.07 165.14,123.34 165.4,122.97 165.66,123.15 165.92,123.03 166.18,123.07 166.44,123.59 166.7,123.08 166.96,123.33 167.22,123.35 167.48,123.29 167.74,123.07 168,123.05 168.26,123.03 168.52,123.51 168.78,123.32 169.04,123.65 169.3,123.23 169.56,123.1 169.82,123.35 170.08,123.17 170.34,123.17 170.6,123.03 170.86,123.36 171.12,123.36 171.38,123.35 171.64,122.89 171.9,123.01 172.16,123.23 172.42,123.17 172.68,123.19 172.94,123.17 173.2,123.25 173.46,123.27 173.72,123.44 173.98,123.33 174.24,122.91 174.5,123.11 174.76,123.2 175.02,123.25 175.28,123.2 175.54,123.15 175.8,123.33 176.06,123.18 176.32,123.17 176.58,123.35 176.84,123.36 177.1,123.39 177.36,123.41 177.62,123.05 177.88,123.64 178.14,123.26 178.4,123.32 178.66,123.32 178.92,123.19 179.18,123.01 179.44,123.2 179.7,123.24 179.96,123.32 180.22,123.24 180.48,123.04 180.74,123.28 181,123.42 181.26,123.44 181.52,123.41 181.78,123.47 182.04,123.01 182.3,123.15 182.56,123.25 182.82,122.94 183.08,123.33 183.34,123.07 183.6,123.06 183.86,123.49 184.12,123.5 184.38,123.38 184.64,123.05 184.9,122.97 185.16,123.44 185.42,123.02 185.68,123.28 185.94,123.28 186.2,123.31 186.46,123.27 186.72,123.54 186.98,123.39 187.24,123.44 187.5,123.12 187.76,122.83 188.02,122.71 188.28,123.27 188.54,123.53 188.8,123.29 189.06,123.38 189.32,122.85 189.58,123.11 189.84,123.34 190.1,123.04 190.36,123.11 190.62,123.51 190.88,123.31 191.14,123.26 191.4,123.21 191.66,123.19 191.92,123.27 192.18,123.18 192.44,123.32 192.7,123.38 192.96,122.93 193.22,123.15 193.48,123.13 193.74,123.5 194,123.24 194.26,123.06 194.52,123.45 194.78,123.01 195.04,123.28 195.3,123.14 195.56,123.24 195.82,123.17 196.08,122.99 196.34,123.29 196.6,122.93 196.86,123.35 197.12,123.38 197.38,123.08 197.64,123.41 197.9,123.28 198.16,123.05 198.42,122.99 198.68,123.54 198.94,123.12 199.2,122.87 199.46,122.99 199.72,123.26 199.98,123.32 200.24,123.27 200.5,123.42 200.76,123.26 201.02,123.25 201.28,123.24 201.54,123 201.8,123.25 202.06,123.48 202.32,123.02 202.58,123.41 202.84,123.29 203.1,123.24 203.36,123.27 203.62,123.39 203.88,123.26 204.14,122.81 204.4,123.32 204.66,123.24 204.92,123.01 205.18,123.08 205.44,123.07 205.7,123.05 205.96,123.57 206.22,123.37 206.48,123.19 206.74,123.12 207,122.97 207.26,123.13 207.52,123.25 207.78,123.2 208.04,123.25 208.3,123.17 208.56,123.09 208.82,123.27 209.08,123.36 209.34,123.37 209.6,123.01 209.86,122.98 210.12,123.03 210.38,123.05 210.64,123.06 210.9,123.21 211.16,123.09 211.42,123.4 211.68,123.25 211.94,123.35 212.2,123.08 212.46,123.32 212.72,123.23 212.98,123.14 213.24,122.96 213.5,123.36" fill="none" stroke="#ff1a1a" stroke-width="0.8" stroke-linejoin="round" clip-path="url(#cc)"/>
<line x1="122.5" y1="126.23" x2="122.5" y2="103.37" stroke="#ff1a1a" stroke-width="1.1"/>
<line x1="135.5" y1="126.23" x2="135.5" y2="103.37" stroke="#ff1a1a" stroke-width="1.1"/>
<line x1="148.5" y1="126.23" x2="148.5" y2="103.37" stroke="#ff1a1a" stroke-width="1.1"/>
<polyline points="109.5,123.42 109.76,122.96 110.02,123.1 110.28,123.16 110.54,122.76 110.8,123.01 111.06,123.1 111.32,122.53 111.58,123.16 111.84,123.37 112.1,123.41 112.36,123.17 112.62,122.85 112.88,122.79 113.14,122.72 113.4,122.52 113.66,122.56 113.92,122.85 114.18,122.66 114.44,122.84 114.7,123.17 114.96,122.79 115.22,123 115.48,123.07 115.74,122.46 116,122.8 116.26,123.15 116.52,123.04 116.78,122.37 117.04,123.08 117.3,122.81 117.56,122.67 117.82,122.52 118.08,122.33 118.34,122.45 118.6,122.27 118.86,122.02 119.12,121.9 119.38,121.4 119.64,121.02 119.9,121.52 120.16,120.95 120.42,121.2 120.68,120.95 120.94,120.65 121.2,120.38 121.46,120.36 121.72,120.79 121.98,119.5 122.24,119.79 122.5,119.72 122.76,119.52 123.02,120.05 123.28,120.46 123.54,120.1 123.8,120.29 124.06,120.81 124.32,120.52 124.58,120.82 124.84,121.42 125.1,120.79 125.36,121.38 125.62,121.94 125.88,121.67 126.14,121.94 126.4,121.87 126.66,122.69 126.92,122.2 127.18,122.4 127.44,122.65 127.7,122.84 127.96,122.65 128.22,122.81 128.48,122.98 128.74,123.25 129,122.7 129.26,122.74 129.52,122.93 129.78,122.97 130.04,122.81 130.3,123.71 130.56,122.75 130.82,123.36 131.08,122.43 131.34,122.03 131.6,121.62 131.86,122.1 132.12,121.68 132.38,121.64 132.64,122.07 132.9,121.07 133.16,121.11 133.42,120.91 133.68,121.02 133.94,120.59 134.2,120.39 134.46,119.88 134.72,119.98 134.98,118.92 135.24,119.83 135.5,119.61 135.76,119.73 136.02,120.11 136.28,119.64 136.54,120.06 136.8,120.76 137.06,120.55 137.32,120.44 137.58,121.33 137.84,121.06 138.1,121.34 138.36,120.8 138.62,121.51 138.88,121.91 139.14,122.13 139.4,121.62 139.66,122.45 139.92,121.86 140.18,123.1 140.44,122.9 140.7,123.08 140.96,123.21 141.22,123.07 141.48,122.82 141.74,123.2 142,123.41 142.26,122.64 142.52,122.61 142.78,123.21 143.04,122.93 143.3,123.73 143.56,122.55 143.82,123.04 144.08,122.65 144.34,121.72 144.6,122.5 144.86,121.97 145.12,122.1 145.38,122.14 145.64,121.78 145.9,121.2 146.16,121.47 146.42,121.1 146.68,120.56 146.94,120.63 147.2,120.77 147.46,119.82 147.72,120.03 147.98,119.5 148.24,120.01 148.5,119.07 148.76,120.09 149.02,120.37 149.28,120.18 149.54,120.34 149.8,120.34 150.06,120.74 150.32,120.58 150.58,120.56 150.84,121.29 151.1,121.66 151.36,121.56 151.62,121.4 151.88,121.57 152.14,122.07 152.4,122.42 152.66,122.33 152.92,122.23 153.18,122.87 153.44,122.48 153.7,122.95 153.96,122.94 154.22,123.19 154.48,122.64 154.74,123 155,123.43 155.26,122.79 155.52,123.13 155.78,122.72 156.04,122.97 156.3,123.19 156.56,122.97 156.82,123.15 157.08,123.25 157.34,123.01 157.6,122.78 157.86,123 158.12,123.04 158.38,123.17 158.64,122.86 158.9,122.94 159.16,122.75 159.42,122.91 159.68,122.42 159.94,123.45 160.2,123.03 160.46,122.87 160.72,122.77 160.98,123.44 161.24,123.36 161.5,123.03 161.76,122.72 162.02,122.71 162.28,123.44 162.54,122.98 162.8,122.69 163.06,123.01 163.32,123.3 163.58,123.22 163.84,123.39 164.1,122.69 164.36,123.09 164.62,123.14 164.88,123.26 165.14,123.06 165.4,123.27 165.66,123.29 165.92,123.03 166.18,123.08 166.44,122.89 166.7,122.98 166.96,122.69 167.22,123.03 167.48,122.94 167.74,122.95 168,123.24 168.26,122.69 168.52,123.17 168.78,123.46 169.04,122.67 169.3,122.84 169.56,123.17 169.82,122.75 170.08,122.75 170.34,122.82 170.6,123.34 170.86,122.97 171.12,123.3 171.38,123.19 171.64,123.17 171.9,123.25 172.16,122.88 172.42,123.24 172.68,122.84 172.94,122.97 173.2,123.19 173.46,122.97 173.72,122.83 173.98,122.7 174.24,123.09 174.5,122.54 174.76,122.86 175.02,122.67 175.28,123.39 175.54,123.31 175.8,122.68 176.06,123.08 176.32,122.89 176.58,122.68 176.84,123.42 177.1,122.89 177.36,122.48 177.62,122.8 177.88,122.99 178.14,122.86 178.4,123.01 178.66,122.8 178.92,122.66 179.18,123.08 179.44,122.86 179.7,122.93 179.96,122.81 180.22,122.79 180.48,123.31 180.74,122.69 181,122.78 181.26,123.32 181.52,123.1 181.78,123.42 182.04,123.1 182.3,122.93 182.56,123.34 182.82,123.23 183.08,123.26 183.34,123.21 183.6,123.23 183.86,123.31 184.12,122.86 184.38,123.08 184.64,123.24 184.9,122.74 185.16,123.17 185.42,122.77 185.68,123.36 185.94,122.63 186.2,123.14 186.46,123.28 186.72,122.9 186.98,123.39 187.24,123.32 187.5,122.95 187.76,123.15 188.02,122.91 188.28,122.98 188.54,122.95 188.8,122.98 189.06,122.82 189.32,123.02 189.58,122.71 189.84,122.76 190.1,123.56 190.36,123.5 190.62,122.59 190.88,123.14 191.14,122.97 191.4,123.05 191.66,122.94 191.92,122.41 192.18,123.21 192.44,123 192.7,123.02 192.96,123.32 193.22,123.26 193.48,123.09 193.74,123.02 194,122.91 194.26,123.56 194.52,123.45 194.78,122.56 195.04,123.07 195.3,122.79 195.56,123.13 195.82,123.21 196.08,122.43 196.34,123.36 196.6,123.27 196.86,122.83 197.12,123.01 197.38,123.47 197.64,122.98 197.9,122.82 198.16,123.44 198.42,123.17 198.68,122.8 198.94,122.49 199.2,123.66 199.46,123.21 199.72,123.01 199.98,123.27 200.24,123.27 200.5,123.16 200.76,122.88 201.02,123.31 201.28,122.78 201.54,122.79 201.8,122.78 202.06,122.6 202.32,123.16 202.58,123.03 202.84,122.74 203.1,122.67 203.36,122.76 203.62,123.14 203.88,123.15 204.14,123.38 204.4,123.14 204.66,123.27 204.92,123.15 205.18,123.12 205.44,122.79 205.7,122.78 205.96,123.03 206.22,123.33 206.48,123.03 206.74,122.9 207,122.78 207.26,122.96 207.52,122.8 207.78,123.2 208.04,122.84 208.3,122.82 208.56,123.12 208.82,123.23 209.08,122.68 209.34,123.29 209.6,122.83 209.86,123.09 210.12,123.11 210.38,123.09 210.64,123.14 210.9,123.03 211.16,122.53 211.42,122.62 211.68,123.06 211.94,122.89 212.2,122.77 212.46,123.14 212.72,122.51 212.98,123.01 213.24,122.85 213.5,123.28" fill="none" stroke="#7fcf7f" stroke-width="0.8" stroke-linejoin="round" clip-path="url(#cc)"/>
<line x1="122.5" y1="137.2" x2="122.5" y2="123.49" stroke="#a0c070" stroke-width="1"/>
<line x1="135.5" y1="137.2" x2="135.5" y2="123.49" stroke="#a0c070" stroke-width="1"/>
<line x1="148.5" y1="137.2" x2="148.5" y2="123.49" stroke="#a0c070" stroke-width="1"/>
<polyline points="109.5,123.13 109.76,123.03 110.02,123.07 110.28,123.28 110.54,123.22 110.8,123.06 111.06,123.05 111.32,123.06 111.58,123.09 111.84,123.16 112.1,123.2 112.36,123.17 112.62,123.15 112.88,123.07 113.14,123.01 113.4,123.15 113.66,123.14 113.92,123.06 114.18,123.04 114.44,122.94 114.7,122.97 114.96,123.19 115.22,123.18 115.48,123.16 115.74,123.11 116,123.05 116.26,123.16 116.52,123 116.78,123.1 117.04,123.22 117.3,123.17 117.56,123.21 117.82,123.19 118.08,123.11 118.34,123.08 118.6,122.98 118.86,122.79 119.12,122.79 119.38,122.61 119.64,122.39 119.9,122.46 120.16,122.36 120.42,122.07 120.68,121.83 120.94,121.81 121.2,121.74 121.46,121.55 121.72,121.36 121.98,121.26 122.24,121.13 122.5,121.05 122.76,121.29 123.02,121.32 123.28,121.35 123.54,121.53 123.8,121.66 124.06,121.77 124.32,121.89 124.58,121.96 124.84,122.1 125.1,122.25 125.36,122.44 125.62,122.66 125.88,122.91 126.14,122.98 126.4,122.95 126.66,123.07 126.92,123.19 127.18,123.26 127.44,123.17 127.7,123.26 127.96,123.16 128.22,122.97 128.48,123.11 128.74,123.16 129,122.96 129.26,123.07 129.52,123.12 129.78,122.94 130.04,122.88 130.3,123.07 130.56,123.26 130.82,123.16 131.08,123.01 131.34,123.11 131.6,123.11 131.86,122.97 132.12,122.72 132.38,122.56 132.64,122.46 132.9,122.26 133.16,122.09 133.42,121.98 133.68,121.9 133.94,121.73 134.2,121.59 134.46,121.62 134.72,121.56 134.98,121.29 135.24,121.12 135.5,121.07 135.76,121.19 136.02,121.08 136.28,121.23 136.54,121.54 136.8,121.64 137.06,121.81 137.32,121.89 137.58,121.95 137.84,122.13 138.1,122.4 138.36,122.47 138.62,122.46 138.88,122.68 139.14,123.03 139.4,123.16 139.66,123.19 139.92,123.2 140.18,123.15 140.44,123.19 140.7,123.09 140.96,123.03 141.22,123.02 141.48,123.09 141.74,123.18 142,123.03 142.26,122.99 142.52,123.13 142.78,123.21 143.04,123.2 143.3,123.15 143.56,123.07 143.82,123.05 144.08,123.05 144.34,123 144.6,122.91 144.86,122.76 145.12,122.59 145.38,122.56 145.64,122.49 145.9,122.35 146.16,122.26 146.42,122.22 146.68,122.04 146.94,121.86 147.2,121.69 147.46,121.57 147.72,121.47 147.98,121.29 148.24,121.2 148.5,121.08 148.76,121.22 149.02,121.39 149.28,121.42 149.54,121.49 149.8,121.67 150.06,121.88 150.32,121.96 150.58,121.9 150.84,122.22 151.1,122.41 151.36,122.38 151.62,122.51 151.88,122.57 152.14,122.84 152.4,122.93 152.66,123.03 152.92,123.16 153.18,123.08 153.44,123.07 153.7,123.09 153.96,123.12 154.22,123.21 154.48,123.17 154.74,123.18 155,123.09 155.26,123 155.52,123 155.78,123.1 156.04,123.32 156.3,123.39 156.56,123.28 156.82,123.22 157.08,123.17 157.34,123.18 157.6,123.29 157.86,123.18 158.12,123.11 158.38,123.09 158.64,123.01 158.9,123.03 159.16,123.16 159.42,123.24 159.68,123.01 159.94,122.97 160.2,123.1 160.46,123.08 160.72,123.1 160.98,123.12 161.24,123.15 161.5,123.18 161.76,123.27 162.02,123.13 162.28,123 162.54,123.2 162.8,123.16 163.06,123.03 163.32,123.16 163.58,123.24 163.84,123.04 164.1,122.97 164.36,123.04 164.62,123.01 164.88,123.05 165.14,123.13 165.4,123.02 165.66,123.01 165.92,123.12 166.18,123.07 166.44,123.06 166.7,123.19 166.96,123.06 167.22,122.99 167.48,122.99 167.74,122.96 168,123.13 168.26,123.06 168.52,123.02 168.78,123.17 169.04,123.16 169.3,123.25 169.56,123.22 169.82,123.13 170.08,123.17 170.34,123.18 170.6,123.12 170.86,123.04 171.12,123.01 171.38,122.93 171.64,122.98 171.9,123.08 172.16,123.08 172.42,123.14 172.68,123.2 172.94,123.09 173.2,123.11 173.46,123.29 173.72,123.26 173.98,123.11 174.24,122.99 174.5,123.06 174.76,123.21 175.02,123.16 175.28,123.11 175.54,123.1 175.8,123.12 176.06,123.13 176.32,123.13 176.58,123.08 176.84,123.02 177.1,123.05 177.36,123.1 177.62,123.23 177.88,123.2 178.14,123.11 178.4,123.04 178.66,122.97 178.92,123.05 179.18,123.11 179.44,123.17 179.7,123.17 179.96,123.1 180.22,123.12 180.48,123.2 180.74,123.09 181,123.08 181.26,123.06 181.52,122.92 181.78,122.93 182.04,123.06 182.3,123.12 182.56,123.16 182.82,123.22 183.08,123.23 183.34,123.25 183.6,123.19 183.86,123.08 184.12,122.97 184.38,123.06 184.64,123.15 184.9,123.19 185.16,123.24 185.42,123.3 185.68,123.24 185.94,123.08 186.2,123.12 186.46,123.13 186.72,123.16 186.98,123.25 187.24,123.21 187.5,123.09 187.76,123.09 188.02,123.09 188.28,123.08 188.54,123.2 188.8,123.31 189.06,123.27 189.32,123.2 189.58,123.11 189.84,123.02 190.1,123.19 190.36,123.16 190.62,123.02 190.88,123.26 191.14,123.37 191.4,123.16 191.66,123.2 191.92,123.26 192.18,123.12 192.44,123.06 192.7,123.06 192.96,123.04 193.22,123.13 193.48,123.01 193.74,122.92 194,122.94 194.26,122.99 194.52,123.09 194.78,123.05 195.04,123.1 195.3,123.1 195.56,123.07 195.82,123.04 196.08,123.04 196.34,123.09 196.6,123.07 196.86,122.98 197.12,123.01 197.38,123.07 197.64,123.06 197.9,123.23 198.16,123.29 198.42,123.23 198.68,123.26 198.94,123.24 199.2,123.26 199.46,123.21 199.72,123.13 199.98,123.07 200.24,123.01 200.5,123.17 200.76,123.21 201.02,123.12 201.28,123.15 201.54,123.18 201.8,123.2 202.06,123.23 202.32,123.14 202.58,123.11 202.84,123.05 203.1,123.17 203.36,123.3 203.62,123.19 203.88,123.04 204.14,122.94 204.4,122.99 204.66,123 204.92,122.95 205.18,122.97 205.44,123.08 205.7,123.11 205.96,123.15 206.22,123.17 206.48,123.1 206.74,123.12 207,123.14 207.26,123.13 207.52,123.22 207.78,123.29 208.04,123.16 208.3,123.07 208.56,123.06 208.82,123.07 209.08,123.12 209.34,123.1 209.6,123.12 209.86,123.05 210.12,122.96 210.38,123.02 210.64,123.15 210.9,123.21 211.16,123.13 211.42,123.03 211.68,123.04 211.94,123.12 212.2,123.08 212.46,123.07 212.72,123.12 212.98,123.2 213.24,123.11 213.5,123.04" fill="none" stroke="#f0a030" stroke-width="0.8" stroke-linejoin="round" clip-path="url(#cc)"/>
<line x1="122.5" y1="137.2" x2="122.5" y2="122.57" stroke="#f0a030" stroke-width="1"/>
<line x1="135.5" y1="137.2" x2="135.5" y2="122.57" stroke="#f0a030" stroke-width="1"/>
<line x1="148.5" y1="137.2" x2="148.5" y2="122.57" stroke="#f0a030" stroke-width="1"/>
<polyline points="109.5,123.3 109.63,123.3 109.76,123.3 109.89,123.3 110.02,123.3 110.15,123.3 110.28,123.3 110.41,123.3 110.54,123.3 110.67,123.3 110.8,123.3 110.93,123.3 111.06,123.3 111.19,123.3 111.32,123.3 111.45,123.3 111.58,123.3 111.71,123.3 111.84,123.3 111.97,123.3 112.1,123.3 112.23,123.3 112.36,123.3 112.49,123.3 112.62,123.3 112.75,123.3 112.88,123.3 113.01,123.3 113.14,123.3 113.27,123.3 113.4,123.3 113.53,123.3 113.66,123.3 113.79,123.3 113.92,123.3 114.05,123.3 114.18,123.3 114.31,123.3 114.44,123.3 114.57,123.3 114.7,123.3 114.83,123.3 114.96,123.3 115.09,123.3 115.22,123.3 115.35,123.3 115.48,123.3 115.61,123.3 115.74,123.3 115.87,123.3 116,123.3 116.13,123.3 116.26,123.3 116.39,123.3 116.52,123.3 116.65,123.3 116.78,123.3 116.91,123.3 117.04,123.3 117.17,123.3 117.3,123.3 117.43,123.3 117.56,123.3 117.69,123.3 117.82,123.3 117.95,123.3 118.08,123.3 118.21,123.3 118.34,123.3 118.47,123.3 118.6,123.3 118.73,123.3 118.86,123.3 118.99,123.3 119.12,123.51 119.25,123.72 119.38,123.93 119.51,124.14 119.64,124.35 119.77,124.56 119.9,124.77 120.03,124.99 120.16,125.2 120.29,125.41 120.42,125.62 120.55,125.83 120.68,126.04 120.81,126.25 120.94,126.46 121.07,126.67 121.2,126.88 121.33,127.09 121.46,127.3 121.59,127.51 121.72,127.72 121.85,127.93 121.98,128.14 122.11,128.35 122.24,134.96 122.37,147.97 122.5,160.98 122.63,147.97 122.76,134.96 122.89,128.35 123.02,128.14 123.15,127.93 123.28,127.72 123.41,127.51 123.54,127.3 123.67,127.09 123.8,126.88 123.93,126.67 124.06,126.46 124.19,126.25 124.32,126.04 124.45,125.83 124.58,125.62 124.71,125.41 124.84,125.2 124.97,124.99 125.1,124.77 125.23,124.56 125.36,124.35 125.49,124.14 125.62,123.93 125.75,123.72 125.88,123.51 126.01,123.3 126.14,123.3 126.27,123.3 126.4,123.3 126.53,123.3 126.66,123.3 126.79,123.3 126.92,123.3 127.05,123.3 127.18,123.3 127.31,123.3 127.44,123.3 127.57,123.3 127.7,123.3 127.83,123.3 127.96,123.3 128.09,123.3 128.22,123.3 128.35,123.3 128.48,123.3 128.61,123.3 128.74,123.3 128.87,123.3 129,123.3 129.13,123.3 129.26,123.3 129.39,123.3 129.52,123.3 129.65,123.3 129.78,123.3 129.91,123.3 130.04,123.3 130.17,123.3 130.3,123.3 130.43,123.3 130.56,123.3 130.69,123.3 130.82,123.3 130.95,123.3 131.08,123.3 131.21,123.3 131.34,123.3 131.47,123.3 131.6,123.3 131.73,123.3 131.86,123.3 131.99,123.3 132.12,123.51 132.25,123.72 132.38,123.93 132.51,124.14 132.64,124.35 132.77,124.56 132.9,124.77 133.03,124.99 133.16,125.2 133.29,125.41 133.42,125.62 133.55,125.83 133.68,126.04 133.81,126.25 133.94,126.46 134.07,126.67 134.2,126.88 134.33,127.09 134.46,127.3 134.59,127.51 134.72,127.72 134.85,127.93 134.98,128.14 135.11,128.35 135.24,134.96 135.37,147.97 135.5,160.98 135.63,147.97 135.76,134.96 135.89,128.35 136.02,128.14 136.15,127.93 136.28,127.72 136.41,127.51 136.54,127.3 136.67,127.09 136.8,126.88 136.93,126.67 137.06,126.46 137.19,126.25 137.32,126.04 137.45,125.83 137.58,125.62 137.71,125.41 137.84,125.2 137.97,124.99 138.1,124.77 138.23,124.56 138.36,124.35 138.49,124.14 138.62,123.93 138.75,123.72 138.88,123.51 139.01,123.3 139.14,123.3 139.27,123.3 139.4,123.3 139.53,123.3 139.66,123.3 139.79,123.3 139.92,123.3 140.05,123.3 140.18,123.3 140.31,123.3 140.44,123.3 140.57,123.3 140.7,123.3 140.83,123.3 140.96,123.3 141.09,123.3 141.22,123.3 141.35,123.3 141.48,123.3 141.61,123.3 141.74,123.3 141.87,123.3 142,123.3 142.13,123.3 142.26,123.3 142.39,123.3 142.52,123.3 142.65,123.3 142.78,123.3 142.91,123.3 143.04,123.3 143.17,123.3 143.3,123.3 143.43,123.3 143.56,123.3 143.69,123.3 143.82,123.3 143.95,123.3 144.08,123.3 144.21,123.3 144.34,123.3 144.47,123.3 144.6,123.3 144.73,123.3 144.86,123.3 144.99,123.3 145.12,123.51 145.25,123.72 145.38,123.93 145.51,124.14 145.64,124.35 145.77,124.56 145.9,124.77 146.03,124.99 146.16,125.2 146.29,125.41 146.42,125.62 146.55,125.83 146.68,126.04 146.81,126.25 146.94,126.46 147.07,126.67 147.2,126.88 147.33,127.09 147.46,127.3 147.59,127.51 147.72,127.72 147.85,127.93 147.98,128.14 148.11,128.35 148.24,134.96 148.37,147.97 148.5,160.98 148.63,147.97 148.76,134.96 148.89,128.35 149.02,128.14 149.15,127.93 149.28,127.72 149.41,127.51 149.54,127.3 149.67,127.09 149.8,126.88 149.93,126.67 150.06,126.46 150.19,126.25 150.32,126.04 150.45,125.83 150.58,125.62 150.71,125.41 150.84,125.2 150.97,124.99 151.1,124.77 151.23,124.56 151.36,124.35 151.49,124.14 151.62,123.93 151.75,123.72 151.88,123.51 152.01,123.3 152.14,123.3 152.27,123.3 152.4,123.3 152.53,123.3 152.66,123.3 152.79,123.3 152.92,123.3 153.05,123.3 153.18,123.3 153.31,123.3 153.44,123.3 153.57,123.3 153.7,123.3 153.83,123.3 153.96,123.3 154.09,123.3 154.22,123.3 154.35,123.3 154.48,123.3 154.61,123.3 154.74,123.3 154.87,123.3 155,123.3 155.13,123.3 155.26,123.3 155.39,123.3 155.52,123.3 155.65,123.3 155.78,123.3 155.91,123.3 156.04,123.3 156.17,123.3 156.3,123.3 156.43,123.3 156.56,123.3 156.69,123.3 156.82,123.3 156.95,123.3 157.08,123.3 157.21,123.3 157.34,123.3 157.47,123.3 157.6,123.3 157.73,123.3 157.86,123.3 157.99,123.3 158.12,123.3 158.25,123.3 158.38,123.3 158.51,123.3 158.64,123.3 158.77,123.3 158.9,123.3 159.03,123.3 159.16,123.3 159.29,123.3 159.42,123.3 159.55,123.3 159.68,123.3 159.81,123.3 159.94,123.3 160.07,123.3 160.2,123.3 160.33,123.3 160.46,123.3 160.59,123.3 160.72,123.3 160.85,123.3 160.98,123.3 161.11,123.3 161.24,123.3 161.37,123.3 161.5,123.3 161.63,123.3 161.76,123.3 161.89,123.3 162.02,123.3 162.15,123.3 162.28,123.3 162.41,123.3 162.54,123.3 162.67,123.3 162.8,123.3 162.93,123.3 163.06,123.3 163.19,123.3 163.32,123.3 163.45,123.3 163.58,123.3 163.71,123.3 163.84,123.3 163.97,123.3 164.1,123.3 164.23,123.3 164.36,123.3 164.49,123.3 164.62,123.3 164.75,123.3 164.88,123.3 165.01,123.3 165.14,123.3 165.27,123.3 165.4,123.3 165.53,123.3 165.66,123.3 165.79,123.3 165.92,123.3 166.05,123.3 166.18,123.3 166.31,123.3 166.44,123.3 166.57,123.3 166.7,123.3 166.83,123.3 166.96,123.3 167.09,123.3 167.22,123.3 167.35,123.3 167.48,123.3 167.61,123.3 167.74,123.3 167.87,123.3 168,123.3 168.13,123.3 168.26,123.3 168.39,123.3 168.52,123.3 168.65,123.3 168.78,123.3 168.91,123.3 169.04,123.3 169.17,123.3 169.3,123.3 169.43,123.3 169.56,123.3 169.69,123.3 169.82,123.3 169.95,123.3 170.08,123.3 170.21,123.3 170.34,123.3 170.47,123.3 170.6,123.3 170.73,123.3 170.86,123.3 170.99,123.3 171.12,123.3 171.25,123.3 171.38,123.3 171.51,123.3 171.64,123.3 171.77,123.3 171.9,123.3 172.03,123.3 172.16,123.3 172.29,123.3 172.42,123.3 172.55,123.3 172.68,123.3 172.81,123.3 172.94,123.3 173.07,123.3 173.2,123.3 173.33,123.3 173.46,123.3 173.59,123.3 173.72,123.3 173.85,123.3 173.98,123.3 174.11,123.3 174.24,123.3 174.37,123.3 174.5,123.3 174.63,123.3 174.76,123.3 174.89,123.3 175.02,123.3 175.15,123.3 175.28,123.3 175.41,123.3 175.54,123.3 175.67,123.3 175.8,123.3 175.93,123.3 176.06,123.3 176.19,123.3 176.32,123.3 176.45,123.3 176.58,123.3 176.71,123.3 176.84,123.3 176.97,123.3 177.1,123.3 177.23,123.3 177.36,123.3 177.49,123.3 177.62,123.3 177.75,123.3 177.88,123.3 178.01,123.3 178.14,123.3 178.27,123.3 178.4,123.3 178.53,123.3 178.66,123.3 178.79,123.3 178.92,123.3 179.05,123.3 179.18,123.3 179.31,123.3 179.44,123.3 179.57,123.3 179.7,123.3 179.83,123.3 179.96,123.3 180.09,123.3 180.22,123.3 180.35,123.3 180.48,123.3 180.61,123.3 180.74,123.3 180.87,123.3 181,123.3 181.13,123.3 181.26,123.3 181.39,123.3 181.52,123.3 181.65,123.3 181.78,123.3 181.91,123.3 182.04,123.3 182.17,123.3 182.3,123.3 182.43,123.3 182.56,123.3 182.69,123.3 182.82,123.3 182.95,123.3 183.08,123.3 183.21,123.3 183.34,123.3 183.47,123.3 183.6,123.3 183.73,123.3 183.86,123.3 183.99,123.3 184.12,123.3 184.25,123.3 184.38,123.3 184.51,123.3 184.64,123.3 184.77,123.3 184.9,123.3 185.03,123.3 185.16,123.3 185.29,123.3 185.42,123.3 185.55,123.3 185.68,123.3 185.81,123.3 185.94,123.3 186.07,123.3 186.2,123.3 186.33,123.3 186.46,123.3 186.59,123.3 186.72,123.3 186.85,123.3 186.98,123.3 187.11,123.3 187.24,123.3 187.37,123.3 187.5,123.3 187.63,123.3 187.76,123.3 187.89,123.3 188.02,123.3 188.15,123.3 188.28,123.3 188.41,123.3 188.54,123.3 188.67,123.3 188.8,123.3 188.93,123.3 189.06,123.3 189.19,123.3 189.32,123.3 189.45,123.3 189.58,123.3 189.71,123.3 189.84,123.3 189.97,123.3 190.1,123.3 190.23,123.3 190.36,123.3 190.49,123.3 190.62,123.3 190.75,123.3 190.88,123.3 191.01,123.3 191.14,123.3 191.27,123.3 191.4,123.3 191.53,123.3 191.66,123.3 191.79,123.3 191.92,123.3 192.05,123.3 192.18,123.3 192.31,123.3 192.44,123.3 192.57,123.3 192.7,123.3 192.83,123.3 192.96,123.3 193.09,123.3 193.22,123.3 193.35,123.3 193.48,123.3 193.61,123.3 193.74,123.3 193.87,123.3 194,123.3 194.13,123.3 194.26,123.3 194.39,123.3 194.52,123.3 194.65,123.3 194.78,123.3 194.91,123.3 195.04,123.3 195.17,123.3 195.3,123.3 195.43,123.3 195.56,123.3 195.69,123.3 195.82,123.3 195.95,123.3 196.08,123.3 196.21,123.3 196.34,123.3 196.47,123.3 196.6,123.3 196.73,123.3 196.86,123.3 196.99,123.3 197.12,123.3 197.25,123.3 197.38,123.3 197.51,123.3 197.64,123.3 197.77,123.3 197.9,123.3 198.03,123.3 198.16,123.3 198.29,123.3 198.42,123.3 198.55,123.3 198.68,123.3 198.81,123.3 198.94,123.3 199.07,123.3 199.2,123.3 199.33,123.3 199.46,123.3 199.59,123.3 199.72,123.3 199.85,123.3 199.98,123.3 200.11,123.3 200.24,123.3 200.37,123.3 200.5,123.3 200.63,123.3 200.76,123.3 200.89,123.3 201.02,123.3 201.15,123.3 201.28,123.3 201.41,123.3 201.54,123.3 201.67,123.3 201.8,123.3 201.93,123.3 202.06,123.3 202.19,123.3 202.32,123.3 202.45,123.3 202.58,123.3 202.71,123.3 202.84,123.3 202.97,123.3 203.1,123.3 203.23,123.3 203.36,123.3 203.49,123.3 203.62,123.3 203.75,123.3 203.88,123.3 204.01,123.3 204.14,123.3 204.27,123.3 204.4,123.3 204.53,123.3 204.66,123.3 204.79,123.3 204.92,123.3 205.05,123.3 205.18,123.3 205.31,123.3 205.44,123.3 205.57,123.3 205.7,123.3 205.83,123.3 205.96,123.3 206.09,123.3 206.22,123.3 206.35,123.3 206.48,123.3 206.61,123.3 206.74,123.3 206.87,123.3 207,123.3 207.13,123.3 207.26,123.3 207.39,123.3 207.52,123.3 207.65,123.3 207.78,123.3 207.91,123.3 208.04,123.3 208.17,123.3 208.3,123.3 208.43,123.3 208.56,123.3 208.69,123.3 208.82,123.3 208.95,123.3 209.08,123.3 209.21,123.3 209.34,123.3 209.47,123.3 209.6,123.3 209.73,123.3 209.86,123.3 209.99,123.3 210.12,123.3 210.25,123.3 210.38,123.3 210.51,123.3 210.64,123.3 210.77,123.3 210.9,123.3 211.03,123.3 211.16,123.3 211.29,123.3 211.42,123.3 211.55,123.3 211.68,123.3 211.81,123.3 211.94,123.3 212.07,123.3 212.2,123.3 212.33,123.3 212.46,123.3 212.59,123.3 212.72,123.3 212.85,123.3 212.98,123.3 213.11,123.3 213.24,123.3 213.37,123.3 213.5,123.3" fill="none" stroke="#1f7fd0" stroke-width="1.3" stroke-linejoin="round" stroke-dasharray="0.5,2.0" clip-path="url(#cc)" stroke-linecap="round"/>
<rect x="173.3" y="88.6" width="38.2" height="22.2" fill="#ffffff" stroke="#b0b0b0" stroke-width="0.5"/>
<line x1="173.8" y1="91" x2="181.6" y2="91" stroke="#3a3a3a" stroke-width="1.4"/>
<text x="182.3" y="91.7" font-size="3.5" text-anchor="start" dominant-baseline="central" class="lg">ANC off</text>
<line x1="173.8" y1="95.3" x2="181.6" y2="95.3" stroke="#ff1a1a" stroke-width="1.2"/>
<text x="182.3" y="96" font-size="3.5" text-anchor="start" dominant-baseline="central" class="lg">BANC</text>
<line x1="173.8" y1="99.8" x2="181.6" y2="99.8" stroke="#7fcf7f" stroke-width="1.2" stroke-dasharray="1.2,0.5"/>
<text x="182.3" y="100.5" font-size="3.5" text-anchor="start" dominant-baseline="central" class="lg">FFTANC, μ=0.99</text>
<line x1="173.8" y1="104.1" x2="181.6" y2="104.1" stroke="#f0a030" stroke-width="1.2" stroke-dasharray="1.6,0.6,0.6,0.6"/>
<text x="182.3" y="104.8" font-size="3.5" text-anchor="start" dominant-baseline="central" class="lg">FFTANC, μ=0.999</text>
<line x1="173.8" y1="108.5" x2="181.6" y2="108.5" stroke="#1f7fd0" stroke-width="1.3" stroke-dasharray="1.8,2.6"/>
<text x="182.3" y="109.2" font-size="3.5" text-anchor="start" dominant-baseline="central" class="lg">SA-FFTANC</text>
<text x="161.5" y="159.3" font-size="4.1" text-anchor="middle" dominant-baseline="central">Frequency(Hz)</text>
<text x="161.5" y="164.6" font-size="4.3" text-anchor="middle" dominant-baseline="central" letter-spacing="0.45">(c)</text>
<text x="98.3" y="117.2" font-size="4.1" text-anchor="middle" dominant-baseline="central" transform="rotate(-90 98.3 117.2)">PSD(dB)</text>
<rect x="244.4" y="86" width="104" height="64" fill="none" stroke="#9a9a9a" stroke-width="0.55"/>
<line x1="244.4" y1="150" x2="244.4" y2="149" stroke="#9a9a9a" stroke-width="0.5"/>
<line x1="244.4" y1="86" x2="244.4" y2="87" stroke="#9a9a9a" stroke-width="0.5"/>
<line x1="257.4" y1="150" x2="257.4" y2="149" stroke="#9a9a9a" stroke-width="0.5"/>
<line x1="257.4" y1="86" x2="257.4" y2="87" stroke="#9a9a9a" stroke-width="0.5"/>
<line x1="270.4" y1="150" x2="270.4" y2="149" stroke="#9a9a9a" stroke-width="0.5"/>
<line x1="270.4" y1="86" x2="270.4" y2="87" stroke="#9a9a9a" stroke-width="0.5"/>
<line x1="283.4" y1="150" x2="283.4" y2="149" stroke="#9a9a9a" stroke-width="0.5"/>
<line x1="283.4" y1="86" x2="283.4" y2="87" stroke="#9a9a9a" stroke-width="0.5"/>
<line x1="296.4" y1="150" x2="296.4" y2="149" stroke="#9a9a9a" stroke-width="0.5"/>
<line x1="296.4" y1="86" x2="296.4" y2="87" stroke="#9a9a9a" stroke-width="0.5"/>
<line x1="309.4" y1="150" x2="309.4" y2="149" stroke="#9a9a9a" stroke-width="0.5"/>
<line x1="309.4" y1="86" x2="309.4" y2="87" stroke="#9a9a9a" stroke-width="0.5"/>
<line x1="322.4" y1="150" x2="322.4" y2="149" stroke="#9a9a9a" stroke-width="0.5"/>
<line x1="322.4" y1="86" x2="322.4" y2="87" stroke="#9a9a9a" stroke-width="0.5"/>
<line x1="335.4" y1="150" x2="335.4" y2="149" stroke="#9a9a9a" stroke-width="0.5"/>
<line x1="335.4" y1="86" x2="335.4" y2="87" stroke="#9a9a9a" stroke-width="0.5"/>
<line x1="348.4" y1="150" x2="348.4" y2="149" stroke="#9a9a9a" stroke-width="0.5"/>
<line x1="348.4" y1="86" x2="348.4" y2="87" stroke="#9a9a9a" stroke-width="0.5"/>
<line x1="244.4" y1="150" x2="245.4" y2="150" stroke="#9a9a9a" stroke-width="0.5"/>
<line x1="348.4" y1="150" x2="347.4" y2="150" stroke="#9a9a9a" stroke-width="0.5"/>
<line x1="244.4" y1="140.86" x2="245.4" y2="140.86" stroke="#9a9a9a" stroke-width="0.5"/>
<line x1="348.4" y1="140.86" x2="347.4" y2="140.86" stroke="#9a9a9a" stroke-width="0.5"/>
<line x1="244.4" y1="131.71" x2="245.4" y2="131.71" stroke="#9a9a9a" stroke-width="0.5"/>
<line x1="348.4" y1="131.71" x2="347.4" y2="131.71" stroke="#9a9a9a" stroke-width="0.5"/>
<line x1="244.4" y1="122.57" x2="245.4" y2="122.57" stroke="#9a9a9a" stroke-width="0.5"/>
<line x1="348.4" y1="122.57" x2="347.4" y2="122.57" stroke="#9a9a9a" stroke-width="0.5"/>
<line x1="244.4" y1="113.43" x2="245.4" y2="113.43" stroke="#9a9a9a" stroke-width="0.5"/>
<line x1="348.4" y1="113.43" x2="347.4" y2="113.43" stroke="#9a9a9a" stroke-width="0.5"/>
<line x1="244.4" y1="104.29" x2="245.4" y2="104.29" stroke="#9a9a9a" stroke-width="0.5"/>
<line x1="348.4" y1="104.29" x2="347.4" y2="104.29" stroke="#9a9a9a" stroke-width="0.5"/>
<line x1="244.4" y1="95.14" x2="245.4" y2="95.14" stroke="#9a9a9a" stroke-width="0.5"/>
<line x1="348.4" y1="95.14" x2="347.4" y2="95.14" stroke="#9a9a9a" stroke-width="0.5"/>
<line x1="244.4" y1="86" x2="245.4" y2="86" stroke="#9a9a9a" stroke-width="0.5"/>
<line x1="348.4" y1="86" x2="347.4" y2="86" stroke="#9a9a9a" stroke-width="0.5"/>
<text x="244.4" y="154.7" font-size="3.7" text-anchor="middle" dominant-baseline="central" class="t">0</text>
<text x="257.4" y="154.7" font-size="3.7" text-anchor="middle" dominant-baseline="central" class="t">100</text>
<text x="270.4" y="154.7" font-size="3.7" text-anchor="middle" dominant-baseline="central" class="t">200</text>
<text x="283.4" y="154.7" font-size="3.7" text-anchor="middle" dominant-baseline="central" class="t">300</text>
<text x="296.4" y="154.7" font-size="3.7" text-anchor="middle" dominant-baseline="central" class="t">400</text>
<text x="309.4" y="154.7" font-size="3.7" text-anchor="middle" dominant-baseline="central" class="t">500</text>
<text x="322.4" y="154.7" font-size="3.7" text-anchor="middle" dominant-baseline="central" class="t">600</text>
<text x="335.4" y="154.7" font-size="3.7" text-anchor="middle" dominant-baseline="central" class="t">700</text>
<text x="348.4" y="154.7" font-size="3.7" text-anchor="middle" dominant-baseline="central" class="t">800</text>
<text x="242.8" y="150.7" font-size="3.7" text-anchor="end" dominant-baseline="central" class="t">90</text>
<text x="242.8" y="141.56" font-size="3.7" text-anchor="end" dominant-baseline="central" class="t">100</text>
<text x="242.8" y="132.41" font-size="3.7" text-anchor="end" dominant-baseline="central" class="t">110</text>
<text x="242.8" y="123.27" font-size="3.7" text-anchor="end" dominant-baseline="central" class="t">120</text>
<text x="242.8" y="114.13" font-size="3.7" text-anchor="end" dominant-baseline="central" class="t">130</text>
<text x="242.8" y="104.99" font-size="3.7" text-anchor="end" dominant-baseline="central" class="t">140</text>
<text x="242.8" y="95.84" font-size="3.7" text-anchor="end" dominant-baseline="central" class="t">150</text>
<text x="242.8" y="86.7" font-size="3.7" text-anchor="end" dominant-baseline="central" class="t">160</text>
<polyline points="244.4,117.65 244.66,118.23 244.92,117.94 245.18,118.59 245.44,118.02 245.7,117.61 245.96,117.54 246.22,118.31 246.48,118.15 246.74,118.07 247,118.74 247.26,117.54 247.52,117.81 247.78,117.85 248.04,117.71 248.3,118.09 248.56,117.94 248.82,117.77 249.08,117.79 249.34,118.13 249.6,118.35 249.86,117.83 250.12,117.89 250.38,118.3 250.64,117.69 250.9,117.82 251.16,117.88 251.42,117.97 251.68,117.85 251.94,117.61 252.2,118.09 252.46,117.59 252.72,117.93 252.98,117.88 253.24,117.58 253.5,117.94 253.76,117.88 254.02,118.15 254.28,118 254.54,117.96 254.8,118.14 255.06,118.18 255.32,117.74 255.58,117.7 255.84,118.24 256.1,118.18 256.36,117.78 256.62,117.68 256.88,118.27 257.14,118.1 257.4,117.68 257.66,117.46 257.92,117.73 258.18,118.32 258.44,117.64 258.7,118.01 258.96,118.08 259.22,117.89 259.48,118.26 259.74,118.21 260,118.79 260.26,117.67 260.52,117.93 260.78,118.11 261.04,117.99 261.3,118.01 261.56,118.14 261.82,118.19 262.08,118.09 262.34,118.67 262.6,118.46 262.86,118.09 263.12,117.62 263.38,117.86 263.64,117.78 263.9,117.8 264.16,118.05 264.42,117.91 264.68,118 264.94,118.12 265.2,118.01 265.46,117.88 265.72,118.12 265.98,118.2 266.24,117.94 266.5,117.98 266.76,117.94 267.02,117.68 267.28,117.94 267.54,118 267.8,118.17 268.06,118.29 268.32,117.84 268.58,117.82 268.84,117.85 269.1,117.84 269.36,118.15 269.62,117.88 269.88,117.94 270.14,117.81 270.4,118.11 270.66,117.67 270.92,117.7 271.18,118.26 271.44,118.02 271.7,117.99 271.96,117.85 272.22,117.64 272.48,118.44 272.74,117.7 273,117.81 273.26,118.12 273.52,118.15 273.78,117.83 274.04,118.06 274.3,118.11 274.56,118.09 274.82,117.44 275.08,118.51 275.34,117.48 275.6,118.41 275.86,117.68 276.12,118.12 276.38,117.97 276.64,118.17 276.9,118.09 277.16,117.63 277.42,118.21 277.68,118.61 277.94,118.11 278.2,118.68 278.46,118.21 278.72,118.04 278.98,118.17 279.24,118.14 279.5,117.49 279.76,117.37 280.02,117.54 280.28,117.56 280.54,117.88 280.8,118.21 281.06,118.19 281.32,118.29 281.58,118.22 281.84,118.14 282.1,117.83 282.36,117.62 282.62,117.88 282.88,117.81 283.14,118.18 283.4,117.83 283.66,118.21 283.92,118.01 284.18,117.51 284.44,117.89 284.7,118.05 284.96,117.83 285.22,118.17 285.48,117.97 285.74,118.23 286,117.75 286.26,118.02 286.52,117.98 286.78,117.91 287.04,117.92 287.3,117.91 287.56,117.98 287.82,118.05 288.08,117.85 288.34,117.86 288.6,117.7 288.86,117.63 289.12,117.59 289.38,117.98 289.64,118.09 289.9,117.87 290.16,117.96 290.42,117.67 290.68,118 290.94,117.73 291.2,118.26 291.46,117.78 291.72,118.07 291.98,118.22 292.24,118.34 292.5,118.28 292.76,118.13 293.02,117.55 293.28,117.72 293.54,117.84 293.8,118.09 294.06,117.89 294.32,118.29 294.58,118.45 294.84,118.25 295.1,117.98 295.36,117.31 295.62,118.47 295.88,118.24 296.14,118.25 296.4,118.27 296.66,118.33 296.92,118.14 297.18,118.31 297.44,117.99 297.7,118.45 297.96,118.21 298.22,118.27 298.48,118.13 298.74,117.86 299,118.23 299.26,118.01 299.52,118.17 299.78,117.97 300.04,117.88 300.3,118.08 300.56,117.74 300.82,118.24 301.08,117.52 301.34,118.3 301.6,117.9 301.86,117.81 302.12,117.6 302.38,118.01 302.64,117.82 302.9,117.89 303.16,117.81 303.42,117.87 303.68,117.93 303.94,117.96 304.2,117.7 304.46,117.91 304.72,118.08 304.98,118.32 305.24,118.19 305.5,118.35 305.76,117.72 306.02,117.68 306.28,118.29 306.54,118 306.8,117.71 307.06,118.07 307.32,118.19 307.58,118.44 307.84,118.16 308.1,117.98 308.36,117.92 308.62,117.79 308.88,117.9 309.14,117.74 309.4,117.57 309.66,117.81 309.92,117.95 310.18,118.39 310.44,117.86 310.7,117.87 310.96,117.55 311.22,118.33 311.48,118.08 311.74,118.55 312,117.94 312.26,117.78 312.52,118.29 312.78,117.88 313.04,118.13 313.3,117.85 313.56,117.93 313.82,118.16 314.08,118.45 314.34,118.22 314.6,117.86 314.86,117.8 315.12,118.16 315.38,117.84 315.64,117.51 315.9,118.28 316.16,117.93 316.42,117.93 316.68,118.27 316.94,118.18 317.2,117.47 317.46,117.87 317.72,117.75 317.98,118.25 318.24,117.85 318.5,117.9 318.76,117.78 319.02,118.36 319.28,118.6 319.54,117.78 319.8,117.6 320.06,117.89 320.32,117.75 320.58,118.45 320.84,117.65 321.1,117.76 321.36,118.36 321.62,118.15 321.88,117.62 322.14,117.41 322.4,117.87 322.66,118.03 322.92,118.32 323.18,118.11 323.44,118.23 323.7,117.92 323.96,117.97 324.22,117.56 324.48,118.3 324.74,118.02 325,118.22 325.26,118.01 325.52,117.62 325.78,118.28 326.04,118.02 326.3,117.77 326.56,118.38 326.82,118.08 327.08,117.49 327.34,118.37 327.6,117.49 327.86,117.79 328.12,117.64 328.38,117.97 328.64,117.98 328.9,118.17 329.16,117.99 329.42,117.9 329.68,118.48 329.94,117.81 330.2,117.54 330.46,118 330.72,118.49 330.98,117.59 331.24,118.28 331.5,118.11 331.76,118.12 332.02,117.48 332.28,118.41 332.54,117.91 332.8,118.27 333.06,118.43 333.32,118.04 333.58,117.88 333.84,117.86 334.1,117.65 334.36,117.95 334.62,117.95 334.88,118.24 335.14,117.68 335.4,117.9 335.66,117.79 335.92,117.45 336.18,117.46 336.44,117.32 336.7,118.43 336.96,118.18 337.22,118.2 337.48,118.04 337.74,117.75 338,117.93 338.26,118.34 338.52,117.61 338.78,117.58 339.04,117.97 339.3,118.03 339.56,117.73 339.82,117.82 340.08,118.51 340.34,117.92 340.6,117.81 340.86,117.24 341.12,118.09 341.38,117.87 341.64,117.54 341.9,118.06 342.16,117.96 342.42,118.16 342.68,117.77 342.94,118.05 343.2,118.54 343.46,117.88 343.72,117.95 343.98,117.96 344.24,118.24 344.5,118.22 344.76,117.31 345.02,118.23 345.28,118.3 345.54,117.66 345.8,117.57 346.06,117.94 346.32,118.23 346.58,117.92 346.84,118.07 347.1,117.7 347.36,118.23 347.62,117.93 347.88,117.93 348.14,117.99 348.4,117.47" fill="none" stroke="#2a2a2a" stroke-width="1" stroke-linejoin="round" clip-path="url(#cd)"/>
<polygon points="256.6,118 257,89.02 257.8,89.02 258.2,118" fill="#111111"/>
<polygon points="269.6,118 270,89.02 270.8,89.02 271.2,118" fill="#111111"/>
<polygon points="282.6,118 283,89.02 283.8,89.02 284.2,118" fill="#111111"/>
<polyline points="244.4,123.07 244.66,122.97 244.92,123.35 245.18,123.37 245.44,123.14 245.7,122.89 245.96,123.13 246.22,123.42 246.48,123.35 246.74,123.22 247,123.04 247.26,123.21 247.52,123.27 247.78,123.25 248.04,123.18 248.3,123.34 248.56,123.21 248.82,123.16 249.08,122.91 249.34,123.22 249.6,123.03 249.86,123.39 250.12,123.05 250.38,123.18 250.64,123.3 250.9,123.21 251.16,123.04 251.42,123.26 251.68,123.02 251.94,122.93 252.2,122.91 252.46,122.92 252.72,123.43 252.98,123.14 253.24,123.33 253.5,123.04 253.76,123.19 254.02,123.17 254.28,123.12 254.54,123.31 254.8,123.19 255.06,123.33 255.32,122.83 255.58,123.29 255.84,123.2 256.1,123.52 256.36,123.47 256.62,123.36 256.88,123.06 257.14,123.07 257.4,123.15 257.66,123.32 257.92,122.87 258.18,123.39 258.44,123.36 258.7,123.12 258.96,123.38 259.22,123.16 259.48,123.03 259.74,123.22 260,123.13 260.26,123.2 260.52,123.33 260.78,123.77 261.04,123.42 261.3,123.21 261.56,123.5 261.82,123.31 262.08,123.17 262.34,122.96 262.6,123.45 262.86,123.3 263.12,123.16 263.38,123.11 263.64,123.45 263.9,122.87 264.16,123.35 264.42,123.01 264.68,123.24 264.94,123.13 265.2,122.9 265.46,123.08 265.72,123.18 265.98,123.39 266.24,123.32 266.5,123.46 266.76,122.84 267.02,123.49 267.28,123.67 267.54,122.91 267.8,122.97 268.06,123.27 268.32,123.05 268.58,123.35 268.84,123.31 269.1,123.11 269.36,123.13 269.62,123.29 269.88,122.91 270.14,123.07 270.4,123.18 270.66,123.42 270.92,123.18 271.18,123.26 271.44,123.22 271.7,123.06 271.96,123.31 272.22,123.16 272.48,123.06 272.74,123.14 273,122.79 273.26,123.52 273.52,123.22 273.78,123.42 274.04,123.22 274.3,122.75 274.56,123.5 274.82,123.26 275.08,123.09 275.34,123.19 275.6,123.04 275.86,123.49 276.12,123.03 276.38,123.38 276.64,123.43 276.9,123.1 277.16,123.12 277.42,123.34 277.68,123.35 277.94,123.24 278.2,123.21 278.46,123.24 278.72,123.39 278.98,123.63 279.24,122.97 279.5,123.18 279.76,123.43 280.02,123.49 280.28,123.33 280.54,123.28 280.8,123.59 281.06,122.95 281.32,123.13 281.58,123.27 281.84,123.14 282.1,123.17 282.36,123.01 282.62,123.18 282.88,122.98 283.14,122.93 283.4,123.26 283.66,123.29 283.92,123.37 284.18,123.25 284.44,123.34 284.7,123.21 284.96,123.15 285.22,123.11 285.48,123.42 285.74,123.01 286,123.26 286.26,123.23 286.52,123.3 286.78,123.57 287.04,123.16 287.3,123.53 287.56,123.01 287.82,123.2 288.08,122.93 288.34,123.09 288.6,123.08 288.86,122.95 289.12,123.22 289.38,122.93 289.64,123.23 289.9,123.16 290.16,123.33 290.42,123.11 290.68,123.09 290.94,123.3 291.2,123.44 291.46,123.22 291.72,123.13 291.98,123.24 292.24,123.39 292.5,123.34 292.76,123.26 293.02,123.69 293.28,123.32 293.54,122.95 293.8,123.44 294.06,123.25 294.32,122.9 294.58,123.08 294.84,123.04 295.1,123.24 295.36,123.45 295.62,122.69 295.88,123.15 296.14,123.17 296.4,122.91 296.66,123.06 296.92,123.2 297.18,123.41 297.44,123.24 297.7,123.24 297.96,123.33 298.22,123.37 298.48,123.39 298.74,123.23 299,123.32 299.26,123.14 299.52,123.03 299.78,123.15 300.04,123.21 300.3,122.93 300.56,123.09 300.82,123.48 301.08,123.34 301.34,123.17 301.6,123.37 301.86,123.07 302.12,123.53 302.38,123.56 302.64,123.03 302.9,123.1 303.16,123.5 303.42,123.2 303.68,122.97 303.94,123.41 304.2,123.43 304.46,123.43 304.72,123.39 304.98,123.53 305.24,123.3 305.5,123.47 305.76,123.2 306.02,122.8 306.28,123.4 306.54,123.05 306.8,123 307.06,123.63 307.32,123.19 307.58,123.21 307.84,123.27 308.1,123.07 308.36,123.29 308.62,123.15 308.88,123.28 309.14,123.24 309.4,123.35 309.66,122.8 309.92,123.22 310.18,123.41 310.44,122.86 310.7,122.92 310.96,123.25 311.22,123.33 311.48,123.35 311.74,122.99 312,123.27 312.26,123.34 312.52,123.06 312.78,123.26 313.04,123.22 313.3,122.86 313.56,123.05 313.82,122.98 314.08,123.13 314.34,122.98 314.6,123.24 314.86,123.04 315.12,123.02 315.38,123.29 315.64,123.45 315.9,123.11 316.16,123.23 316.42,123.1 316.68,123.32 316.94,123.11 317.2,123.04 317.46,122.78 317.72,122.89 317.98,123.14 318.24,122.95 318.5,123.33 318.76,123 319.02,123.19 319.28,122.97 319.54,123.15 319.8,123.25 320.06,123.34 320.32,122.98 320.58,123.2 320.84,123.08 321.1,123.12 321.36,123.58 321.62,123.1 321.88,123.28 322.14,123.14 322.4,123.12 322.66,123.54 322.92,123.27 323.18,123.22 323.44,123.14 323.7,123.04 323.96,123.34 324.22,123.25 324.48,123.1 324.74,123.54 325,122.87 325.26,123.38 325.52,122.97 325.78,123.18 326.04,122.87 326.3,123.02 326.56,123.22 326.82,123.52 327.08,123.19 327.34,123.15 327.6,123.11 327.86,123.44 328.12,123.36 328.38,123.35 328.64,123.16 328.9,123.37 329.16,123.23 329.42,123.04 329.68,123.29 329.94,122.97 330.2,123.16 330.46,123.26 330.72,123.01 330.98,123.12 331.24,123.26 331.5,123.32 331.76,123.22 332.02,123.15 332.28,123 332.54,123.16 332.8,123.32 333.06,123.45 333.32,123.16 333.58,123.14 333.84,123.01 334.1,123.31 334.36,123.45 334.62,123.06 334.88,123.24 335.14,123.43 335.4,122.91 335.66,123.05 335.92,123.2 336.18,123.16 336.44,123.35 336.7,123.03 336.96,123.29 337.22,123.29 337.48,123.26 337.74,123.42 338,123.02 338.26,122.91 338.52,123.07 338.78,123.58 339.04,123.27 339.3,123.33 339.56,123.14 339.82,123.6 340.08,123.6 340.34,123.29 340.6,123.03 340.86,123.25 341.12,122.81 341.38,123.36 341.64,123.2 341.9,123.24 342.16,123.36 342.42,123.01 342.68,123.45 342.94,123.4 343.2,123.28 343.46,123.3 343.72,123.01 343.98,123.31 344.24,123.12 344.5,123.3 344.76,122.98 345.02,123.21 345.28,123.16 345.54,123.51 345.8,123.08 346.06,123.33 346.32,123.05 346.58,123.12 346.84,123.11 347.1,123.01 347.36,123.14 347.62,123.37 347.88,123.18 348.14,123.18 348.4,123.42" fill="none" stroke="#ff1a1a" stroke-width="0.8" stroke-linejoin="round" clip-path="url(#cd)"/>
<line x1="257.4" y1="126.23" x2="257.4" y2="103.37" stroke="#ff1a1a" stroke-width="1.1"/>
<line x1="270.4" y1="126.23" x2="270.4" y2="103.37" stroke="#ff1a1a" stroke-width="1.1"/>
<line x1="283.4" y1="126.23" x2="283.4" y2="103.37" stroke="#ff1a1a" stroke-width="1.1"/>
<polyline points="244.4,122.88 244.66,123.07 244.92,122.04 245.18,122.88 245.44,122.97 245.7,122.9 245.96,123.18 246.22,123.23 246.48,122.88 246.74,123.16 247,122.8 247.26,123.09 247.52,123.54 247.78,123.41 248.04,123.27 248.3,123.6 248.56,123.05 248.82,123.11 249.08,122.76 249.34,123.28 249.6,123.09 249.86,122.86 250.12,122.82 250.38,123.32 250.64,122.59 250.9,123.21 251.16,122.68 251.42,123.11 251.68,123.15 251.94,123.39 252.2,123.06 252.46,122.17 252.72,122.86 252.98,122.07 253.24,121.95 253.5,122.27 253.76,121.67 254.02,121.41 254.28,121.73 254.54,121.62 254.8,120.97 255.06,121.02 255.32,120.33 255.58,120.64 255.84,120.93 256.1,120.44 256.36,120.59 256.62,119.86 256.88,119.7 257.14,119.85 257.4,119.81 257.66,119.47 257.92,120.01 258.18,119.72 258.44,120.53 258.7,120.5 258.96,120.75 259.22,121.07 259.48,120.16 259.74,120.63 260,121.47 260.26,121.24 260.52,122.16 260.78,121.45 261.04,121.67 261.3,122.26 261.56,122.43 261.82,122.44 262.08,122.55 262.34,122.96 262.6,123.27 262.86,123.1 263.12,123.15 263.38,122.8 263.64,123 263.9,122.96 264.16,123.51 264.42,123.14 264.68,123.14 264.94,123.18 265.2,123.06 265.46,122.94 265.72,123.12 265.98,122.23 266.24,122.07 266.5,122.31 266.76,121.8 267.02,122.08 267.28,122 267.54,121.52 267.8,120.84 268.06,121.14 268.32,121.38 268.58,120.7 268.84,120.76 269.1,120.62 269.36,120.14 269.62,120.57 269.88,120.41 270.14,120.14 270.4,119.23 270.66,119.69 270.92,120.07 271.18,120.26 271.44,120.05 271.7,119.23 271.96,115.18 272.22,111.26 272.48,111.24 272.74,112.33 273,113.82 273.26,114.84 273.52,116.13 273.78,117.34 274.04,118.8 274.3,119.12 274.56,119.09 274.82,119.02 275.08,119.4 275.34,119.26 275.6,119.62 275.86,119.05 276.12,119 276.38,119.74 276.64,119.29 276.9,119.54 277.16,119.6 277.42,119.75 277.68,119.64 277.94,119.48 278.2,120.17 278.46,119.48 278.72,119.82 278.98,120.02 279.24,119.68 279.5,119.45 279.76,119.62 280.02,119.47 280.28,119.62 280.54,119.64 280.8,119.16 281.06,119.68 281.32,119.09 281.58,119.19 281.84,119.24 282.1,119.09 282.36,118.98 282.62,120.07 282.88,119.9 283.14,119.75 283.4,120.09 283.66,120.32 283.92,119.79 284.18,120.24 284.44,120.4 284.7,119.77 284.96,110.76 285.22,101.57 285.48,102.07 285.74,102.17 286,102.47 286.26,101.97 286.52,102.07 286.78,101.91 287.04,102.13 287.3,102.67 287.56,104.24 287.82,104.92 288.08,106.94 288.34,107.95 288.6,108.87 288.86,109.58 289.12,110.47 289.38,111.82 289.64,112.61 289.9,113.82 290.16,113.98 290.42,114.92 290.68,116.09 290.94,116.04 291.2,117.07 291.46,117.9 291.72,118.28 291.98,118.63 292.24,118.49 292.5,118.51 292.76,118.79 293.02,118.55 293.28,119.46 293.54,118.88 293.8,118.65 294.06,118.61 294.32,118.71 294.58,119.28 294.84,119.52 295.1,119.19 295.36,118.5 295.62,119.12 295.88,119.46 296.14,119.78 296.4,119.31 296.66,119.53 296.92,119.31 297.18,119.44 297.44,120.2 297.7,119.62 297.96,119.41 298.22,119.84 298.48,120.06 298.74,120.1 299,120.19 299.26,119.24 299.52,119.51 299.78,120.12 300.04,119.61 300.3,120.34 300.56,120.24 300.82,120.35 301.08,120.23 301.34,120.04 301.6,119.7 301.86,120.16 302.12,120.49 302.38,120.5 302.64,120.7 302.9,120.63 303.16,121.07 303.42,120.84 303.68,120.88 303.94,120.83 304.2,121.42 304.46,121.16 304.72,121.29 304.98,121.69 305.24,122.11 305.5,121.8 305.76,121.47 306.02,121.87 306.28,121.23 306.54,121.78 306.8,122.21 307.06,122.11 307.32,122.03 307.58,122.1 307.84,122.37 308.1,122.25 308.36,121.62 308.62,122.27 308.88,122.55 309.14,122.8 309.4,123.24 309.66,122.97 309.92,123.13 310.18,123.03 310.44,123.17 310.7,122.8 310.96,122.72 311.22,123.21 311.48,123.4 311.74,122.93 312,122.63 312.26,122.9 312.52,122.88 312.78,123.41 313.04,123.17 313.3,122.86 313.56,122.92 313.82,123.02 314.08,122.86 314.34,122.78 314.6,122.99 314.86,123.22 315.12,123.41 315.38,122.96 315.64,123.07 315.9,123.07 316.16,122.71 316.42,123.2 316.68,123.1 316.94,122.84 317.2,123.27 317.46,123.62 317.72,123.17 317.98,122.79 318.24,123.19 318.5,123.09 318.76,123.54 319.02,122.69 319.28,123.51 319.54,123.21 319.8,123.07 320.06,122.48 320.32,122.99 320.58,123.22 320.84,123.44 321.1,123.11 321.36,123.36 321.62,123.19 321.88,123.01 322.14,122.68 322.4,123.33 322.66,122.64 322.92,123.56 323.18,122.48 323.44,123.2 323.7,123.12 323.96,123.15 324.22,122.96 324.48,123.04 324.74,123.11 325,123.21 325.26,123.17 325.52,123 325.78,123.17 326.04,123.21 326.3,123.42 326.56,123.01 326.82,122.88 327.08,123.3 327.34,122.74 327.6,123.03 327.86,122.99 328.12,123.49 328.38,122.85 328.64,122.67 328.9,122.48 329.16,123.19 329.42,123.04 329.68,122.82 329.94,122.87 330.2,123.2 330.46,123 330.72,122.75 330.98,122.87 331.24,123.04 331.5,122.73 331.76,123.43 332.02,122.9 332.28,123.2 332.54,123.12 332.8,122.8 333.06,122.54 333.32,122.89 333.58,122.98 333.84,122.56 334.1,122.81 334.36,123.63 334.62,123.19 334.88,123.2 335.14,123.21 335.4,123.43 335.66,122.84 335.92,122.97 336.18,122.54 336.44,123.1 336.7,122.98 336.96,123.22 337.22,122.74 337.48,122.67 337.74,122.55 338,122.74 338.26,123.18 338.52,122.68 338.78,123.27 339.04,123.18 339.3,123.07 339.56,122.44 339.82,123.21 340.08,123.29 340.34,122.95 340.6,122.69 340.86,122.86 341.12,122.86 341.38,123.24 341.64,123.12 341.9,122.66 342.16,122.98 342.42,123.19 342.68,123.11 342.94,122.64 343.2,122.54 343.46,122.9 343.72,123.24 343.98,122.55 344.24,123.19 344.5,122.98 344.76,122.9 345.02,123.01 345.28,123.06 345.54,122.57 345.8,122.92 346.06,123.4 346.32,123.17 346.58,122.65 346.84,123.06 347.1,123.29 347.36,122.76 347.62,122.88 347.88,123 348.14,122.85 348.4,123.11" fill="none" stroke="#7fcf7f" stroke-width="0.8" stroke-linejoin="round" clip-path="url(#cd)"/>
<line x1="257.4" y1="137.2" x2="257.4" y2="123.49" stroke="#a0c070" stroke-width="1"/>
<line x1="270.4" y1="137.2" x2="270.4" y2="123.49" stroke="#a0c070" stroke-width="1"/>
<line x1="283.4" y1="137.2" x2="283.4" y2="123.49" stroke="#a0c070" stroke-width="1"/>
<polyline points="244.4,122.33 244.66,122.93 244.92,123.26 245.18,123.11 245.44,123.33 245.7,123.39 245.96,123.32 246.22,123.23 246.48,123.07 246.74,122.86 247,122.9 247.26,122.89 247.52,122.85 247.78,123.03 248.04,123.16 248.3,123.35 248.56,123.6 248.82,123.44 249.08,123.18 249.34,123.11 249.6,123.02 249.86,123.31 250.12,123.5 250.38,123.47 250.64,123.16 250.9,122.98 251.16,123.14 251.42,123.28 251.68,123.54 251.94,123.48 252.2,123.27 252.46,122.16 252.72,123.58 252.98,123.71 253.24,123.05 253.5,123.77 253.76,123.12 254.02,122.9 254.28,121.99 254.54,120.56 254.8,120.55 255.06,121.83 255.32,121.63 255.58,120.59 255.84,120.02 256.1,120 256.36,122.33 256.62,123.19 256.88,121.89 257.14,120.09 257.4,119.7 257.66,119.84 257.92,119.55 258.18,121.76 258.44,122.13 258.7,120.53 258.96,120.3 259.22,122.44 259.48,122.55 259.74,121.79 260,124.14 260.26,124.27 260.52,124.37 260.78,124.63 261.04,122.11 261.3,119.57 261.56,119.77 261.82,121.05 262.08,120.22 262.34,120.31 262.6,123.16 262.86,125.05 263.12,124.06 263.38,123.87 263.64,125.35 263.9,125.06 264.16,123.11 264.42,123.32 264.68,122.35 264.94,121.58 265.2,122.41 265.46,121.87 265.72,122.66 265.98,122.9 266.24,119.99 266.5,121.01 266.76,123.03 267.02,121.45 267.28,122.02 267.54,122.46 267.8,123.5 268.06,123.76 268.32,121.88 268.58,120.2 268.84,119.17 269.1,120.73 269.36,122.66 269.62,120.12 269.88,118.11 270.14,121.6 270.4,122.7 270.66,121.82 270.92,122.22 271.18,123.16 271.44,123.1 271.7,122.03 271.96,121.97 272.22,120.54 272.48,120.2 272.74,122.59 273,124.19 273.26,124.12 273.52,121.35 273.78,120.01 274.04,121.88 274.3,121.78 274.56,120.88 274.82,122.65 275.08,122.65 275.34,122.12 275.6,123.67 275.86,124.03 276.12,122.75 276.38,120.98 276.64,122.18 276.9,123.27 277.16,122.21 277.42,122.49 277.68,123.74 277.94,122.42 278.2,119.92 278.46,119.86 278.72,120.38 278.98,120.5 279.24,120.42 279.5,120.78 279.76,121.53 280.02,122.18 280.28,122.04 280.54,123.2 280.8,123.18 281.06,123.12 281.32,123.68 281.58,122.81 281.84,122.17 282.1,119.56 282.36,118.15 282.62,118.2 282.88,118.76 283.14,120.59 283.4,120.98 283.66,121.7 283.92,122.74 284.18,121.9 284.44,121.76 284.7,120.53 284.96,121.08 285.22,119.64 285.48,119.49 285.74,121.2 286,122.4 286.26,122.47 286.52,122.25 286.78,123.09 287.04,121.98 287.3,121.48 287.56,120.98 287.82,121.42 288.08,122.19 288.34,120.6 288.6,122.85 288.86,123.21 289.12,123.21 289.38,123.19 289.64,123.28 289.9,123.38 290.16,123.11 290.42,123.14 290.68,123.15 290.94,123.15 291.2,122.97 291.46,122.89 291.72,122.83 291.98,122.71 292.24,123.06 292.5,122.98 292.76,122.74 293.02,122.63 293.28,122.59 293.54,122.71 293.8,123.18 294.06,123.17 294.32,122.97 294.58,123.07 294.84,122.82 295.1,123.03 295.36,123.01 295.62,122.44 295.88,122.58 296.14,123.08 296.4,122.93 296.66,122.84 296.92,122.9 297.18,122.7 297.44,123.17 297.7,123.35 297.96,123.35 298.22,123.54 298.48,123.15 298.74,123.24 299,123.48 299.26,123.34 299.52,123.15 299.78,123.01 300.04,122.98 300.3,123.14 300.56,123.36 300.82,123.19 301.08,123.21 301.34,123.44 301.6,123.15 301.86,123.15 302.12,123.44 302.38,123.09 302.64,122.93 302.9,123.55 303.16,123.68 303.42,122.91 303.68,122.25 303.94,122.66 304.2,123.06 304.46,122.87 304.72,122.94 304.98,123.41 305.24,123.28 305.5,122.9 305.76,123.12 306.02,123.47 306.28,123.55 306.54,123.27 306.8,123.2 307.06,123.14 307.32,123.16 307.58,123.02 307.84,122.84 308.1,123.23 308.36,123.46 308.62,123.17 308.88,123.16 309.14,122.98 309.4,122.98 309.66,123.19 309.92,122.98 310.18,123.23 310.44,123.11 310.7,122.94 310.96,123.3 311.22,123.39 311.48,123.57 311.74,123.7 312,123.11 312.26,122.88 312.52,123.21 312.78,123.15 313.04,122.99 313.3,123.18 313.56,123.32 313.82,123.12 314.08,122.9 314.34,122.9 314.6,122.78 314.86,122.87 315.12,123.24 315.38,123.45 315.64,123.4 315.9,123.03 316.16,123.06 316.42,123.21 316.68,123.35 316.94,123.42 317.2,123.33 317.46,123.23 317.72,122.96 317.98,122.85 318.24,122.87 318.5,122.75 318.76,123.01 319.02,122.98 319.28,122.88 319.54,123.37 319.8,123.49 320.06,123.26 320.32,123.43 320.58,123 320.84,122.72 321.1,122.99 321.36,123.2 321.62,123.34 321.88,123.07 322.14,123.23 322.4,123.23 322.66,123.09 322.92,123.07 323.18,123.29 323.44,123.26 323.7,123.1 323.96,123.35 324.22,123.7 324.48,123.58 324.74,123.24 325,122.77 325.26,122.93 325.52,123.09 325.78,122.64 326.04,122.83 326.3,123.02 326.56,123 326.82,123.32 327.08,123.15 327.34,122.94 327.6,123.33 327.86,123.28 328.12,123.64 328.38,123.89 328.64,123.6 328.9,123.64 329.16,123.32 329.42,122.74 329.68,122.85 329.94,123.2 330.2,123.14 330.46,123.17 330.72,123.21 330.98,123.04 331.24,123.11 331.5,123.26 331.76,123.2 332.02,123.12 332.28,123.01 332.54,123.29 332.8,123.62 333.06,123.44 333.32,123.14 333.58,123.29 333.84,123.16 334.1,122.66 334.36,123.02 334.62,123.07 334.88,123.32 335.14,123.55 335.4,123.46 335.66,123.24 335.92,122.79 336.18,122.9 336.44,123.16 336.7,123.46 336.96,123.28 337.22,123.17 337.48,123.12 337.74,123.32 338,123.36 338.26,122.98 338.52,123.47 338.78,123.8 339.04,123.52 339.3,123.39 339.56,123.58 339.82,123.47 340.08,123.36 340.34,123.38 340.6,123.5 340.86,123.71 341.12,123.25 341.38,123.34 341.64,123.48 341.9,122.9 342.16,122.74 342.42,123.25 342.68,122.99 342.94,122.85 343.2,123.09 343.46,122.81 343.72,123.04 343.98,123.1 344.24,123.55 344.5,123.65 344.76,123.11 345.02,123.19 345.28,123.2 345.54,122.94 345.8,122.79 346.06,123.1 346.32,123.13 346.58,122.8 346.84,122.92 347.1,123.07 347.36,123.54 347.62,123.9 347.88,123.38 348.14,123.37 348.4,123.28" fill="none" stroke="#f0a030" stroke-width="0.8" stroke-linejoin="round" clip-path="url(#cd)"/>
<line x1="257.4" y1="137.2" x2="257.4" y2="122.57" stroke="#f0a030" stroke-width="1"/>
<line x1="270.4" y1="137.2" x2="270.4" y2="122.57" stroke="#f0a030" stroke-width="1"/>
<line x1="283.4" y1="137.2" x2="283.4" y2="122.57" stroke="#f0a030" stroke-width="1"/>
<polyline points="244.4,123.3 244.53,123.3 244.66,123.3 244.79,123.3 244.92,123.3 245.05,123.3 245.18,123.3 245.31,123.3 245.44,123.3 245.57,123.3 245.7,123.3 245.83,123.3 245.96,123.3 246.09,123.3 246.22,123.3 246.35,123.3 246.48,123.3 246.61,123.3 246.74,123.3 246.87,123.3 247,123.3 247.13,123.3 247.26,123.3 247.39,123.3 247.52,123.3 247.65,123.3 247.78,123.3 247.91,123.3 248.04,123.3 248.17,123.3 248.3,123.3 248.43,123.3 248.56,123.3 248.69,123.3 248.82,123.3 248.95,123.3 249.08,123.3 249.21,123.3 249.34,123.3 249.47,123.3 249.6,123.3 249.73,123.3 249.86,123.3 249.99,123.3 250.12,123.3 250.25,123.3 250.38,123.3 250.51,123.3 250.64,123.3 250.77,123.3 250.9,123.3 251.03,123.3 251.16,123.3 251.29,123.3 251.42,123.3 251.55,123.3 251.68,123.3 251.81,123.3 251.94,123.3 252.07,123.3 252.2,123.3 252.33,123.3 252.46,123.3 252.59,123.3 252.72,123.3 252.85,123.3 252.98,123.3 253.11,123.3 253.24,123.3 253.37,123.3 253.5,123.3 253.63,123.3 253.76,123.3 253.89,123.3 254.02,123.51 254.15,123.72 254.28,123.93 254.41,124.14 254.54,124.35 254.67,124.56 254.8,124.77 254.93,124.99 255.06,125.2 255.19,125.41 255.32,125.62 255.45,125.83 255.58,126.04 255.71,126.25 255.84,126.46 255.97,126.67 256.1,126.88 256.23,127.09 256.36,127.3 256.49,127.51 256.62,127.72 256.75,127.93 256.88,128.14 257.01,128.35 257.14,134.96 257.27,147.97 257.4,160.98 257.53,147.97 257.66,134.96 257.79,128.35 257.92,128.14 258.05,127.93 258.18,127.72 258.31,127.51 258.44,127.3 258.57,127.09 258.7,126.88 258.83,126.67 258.96,126.46 259.09,126.25 259.22,126.04 259.35,125.83 259.48,125.62 259.61,125.41 259.74,125.2 259.87,124.99 260,124.77 260.13,124.56 260.26,124.35 260.39,124.14 260.52,123.93 260.65,123.72 260.78,123.51 260.91,123.3 261.04,123.3 261.17,123.3 261.3,123.3 261.43,123.3 261.56,123.3 261.69,123.3 261.82,123.3 261.95,123.3 262.08,123.3 262.21,123.3 262.34,123.3 262.47,123.3 262.6,123.3 262.73,123.3 262.86,123.3 262.99,123.3 263.12,123.3 263.25,123.3 263.38,123.3 263.51,123.3 263.64,123.3 263.77,123.3 263.9,123.3 264.03,123.3 264.16,123.3 264.29,123.3 264.42,123.3 264.55,123.3 264.68,123.3 264.81,123.3 264.94,123.3 265.07,123.3 265.2,123.3 265.33,123.3 265.46,123.3 265.59,123.3 265.72,123.3 265.85,123.3 265.98,123.3 266.11,123.3 266.24,123.3 266.37,123.3 266.5,123.3 266.63,123.3 266.76,123.3 266.89,123.3 267.02,123.51 267.15,123.72 267.28,123.93 267.41,124.14 267.54,124.35 267.67,124.56 267.8,124.77 267.93,124.99 268.06,125.2 268.19,125.41 268.32,125.62 268.45,125.83 268.58,126.04 268.71,126.25 268.84,126.46 268.97,126.67 269.1,126.88 269.23,127.09 269.36,127.3 269.49,127.51 269.62,127.72 269.75,127.93 269.88,128.14 270.01,128.35 270.14,134.96 270.27,147.97 270.4,160.98 270.53,147.97 270.66,134.96 270.79,128.35 270.92,128.14 271.05,127.93 271.18,127.72 271.31,127.51 271.44,127.3 271.57,127.09 271.7,126.88 271.83,126.67 271.96,126.46 272.09,126.25 272.22,126.04 272.35,125.83 272.48,125.62 272.61,125.41 272.74,125.2 272.87,124.99 273,124.77 273.13,124.56 273.26,124.35 273.39,124.14 273.52,123.93 273.65,123.72 273.78,123.51 273.91,123.3 274.04,123.3 274.17,123.3 274.3,123.3 274.43,123.3 274.56,123.3 274.69,123.3 274.82,123.3 274.95,123.3 275.08,123.3 275.21,123.3 275.34,123.3 275.47,123.3 275.6,123.3 275.73,123.3 275.86,123.3 275.99,123.3 276.12,123.3 276.25,123.3 276.38,123.3 276.51,123.3 276.64,123.3 276.77,123.3 276.9,123.3 277.03,123.3 277.16,123.3 277.29,123.3 277.42,123.3 277.55,123.3 277.68,123.3 277.81,123.3 277.94,123.3 278.07,123.3 278.2,123.3 278.33,123.3 278.46,123.3 278.59,123.3 278.72,123.3 278.85,123.3 278.98,123.3 279.11,123.3 279.24,123.3 279.37,123.3 279.5,123.3 279.63,123.3 279.76,123.3 279.89,123.3 280.02,123.51 280.15,123.72 280.28,123.93 280.41,124.14 280.54,124.35 280.67,124.56 280.8,124.77 280.93,124.99 281.06,125.2 281.19,125.41 281.32,125.62 281.45,125.83 281.58,126.04 281.71,126.25 281.84,126.46 281.97,126.67 282.1,126.88 282.23,127.09 282.36,127.3 282.49,127.51 282.62,127.72 282.75,127.93 282.88,128.14 283.01,128.35 283.14,134.96 283.27,147.97 283.4,160.98 283.53,147.97 283.66,134.96 283.79,128.35 283.92,128.14 284.05,127.93 284.18,127.72 284.31,127.51 284.44,127.3 284.57,127.09 284.7,126.88 284.83,126.67 284.96,126.46 285.09,126.25 285.22,126.04 285.35,125.83 285.48,125.62 285.61,125.41 285.74,125.2 285.87,124.99 286,124.77 286.13,124.56 286.26,124.35 286.39,124.14 286.52,123.93 286.65,123.72 286.78,123.51 286.91,123.3 287.04,123.3 287.17,123.3 287.3,123.3 287.43,123.3 287.56,123.3 287.69,123.3 287.82,123.3 287.95,123.3 288.08,123.3 288.21,123.3 288.34,123.3 288.47,123.3 288.6,123.3 288.73,123.3 288.86,123.3 288.99,123.3 289.12,123.3 289.25,123.3 289.38,123.3 289.51,123.3 289.64,123.3 289.77,123.3 289.9,123.3 290.03,123.3 290.16,123.3 290.29,123.3 290.42,123.3 290.55,123.3 290.68,123.3 290.81,123.3 290.94,123.3 291.07,123.3 291.2,123.3 291.33,123.3 291.46,123.3 291.59,123.3 291.72,123.3 291.85,123.3 291.98,123.3 292.11,123.3 292.24,123.3 292.37,123.3 292.5,123.3 292.63,123.3 292.76,123.3 292.89,123.3 293.02,123.3 293.15,123.3 293.28,123.3 293.41,123.3 293.54,123.3 293.67,123.3 293.8,123.3 293.93,123.3 294.06,123.3 294.19,123.3 294.32,123.3 294.45,123.3 294.58,123.3 294.71,123.3 294.84,123.3 294.97,123.3 295.1,123.3 295.23,123.3 295.36,123.3 295.49,123.3 295.62,123.3 295.75,123.3 295.88,123.3 296.01,123.3 296.14,123.3 296.27,123.3 296.4,123.3 296.53,123.3 296.66,123.3 296.79,123.3 296.92,123.3 297.05,123.3 297.18,123.3 297.31,123.3 297.44,123.3 297.57,123.3 297.7,123.3 297.83,123.3 297.96,123.3 298.09,123.3 298.22,123.3 298.35,123.3 298.48,123.3 298.61,123.3 298.74,123.3 298.87,123.3 299,123.3 299.13,123.3 299.26,123.3 299.39,123.3 299.52,123.3 299.65,123.3 299.78,123.3 299.91,123.3 300.04,123.3 300.17,123.3 300.3,123.3 300.43,123.3 300.56,123.3 300.69,123.3 300.82,123.3 300.95,123.3 301.08,123.3 301.21,123.3 301.34,123.3 301.47,123.3 301.6,123.3 301.73,123.3 301.86,123.3 301.99,123.3 302.12,123.3 302.25,123.3 302.38,123.3 302.51,123.3 302.64,123.3 302.77,123.3 302.9,123.3 303.03,123.3 303.16,123.3 303.29,123.3 303.42,123.3 303.55,123.3 303.68,123.3 303.81,123.3 303.94,123.3 304.07,123.3 304.2,123.3 304.33,123.3 304.46,123.3 304.59,123.3 304.72,123.3 304.85,123.3 304.98,123.3 305.11,123.3 305.24,123.3 305.37,123.3 305.5,123.3 305.63,123.3 305.76,123.3 305.89,123.3 306.02,123.3 306.15,123.3 306.28,123.3 306.41,123.3 306.54,123.3 306.67,123.3 306.8,123.3 306.93,123.3 307.06,123.3 307.19,123.3 307.32,123.3 307.45,123.3 307.58,123.3 307.71,123.3 307.84,123.3 307.97,123.3 308.1,123.3 308.23,123.3 308.36,123.3 308.49,123.3 308.62,123.3 308.75,123.3 308.88,123.3 309.01,123.3 309.14,123.3 309.27,123.3 309.4,123.3 309.53,123.3 309.66,123.3 309.79,123.3 309.92,123.3 310.05,123.3 310.18,123.3 310.31,123.3 310.44,123.3 310.57,123.3 310.7,123.3 310.83,123.3 310.96,123.3 311.09,123.3 311.22,123.3 311.35,123.3 311.48,123.3 311.61,123.3 311.74,123.3 311.87,123.3 312,123.3 312.13,123.3 312.26,123.3 312.39,123.3 312.52,123.3 312.65,123.3 312.78,123.3 312.91,123.3 313.04,123.3 313.17,123.3 313.3,123.3 313.43,123.3 313.56,123.3 313.69,123.3 313.82,123.3 313.95,123.3 314.08,123.3 314.21,123.3 314.34,123.3 314.47,123.3 314.6,123.3 314.73,123.3 314.86,123.3 314.99,123.3 315.12,123.3 315.25,123.3 315.38,123.3 315.51,123.3 315.64,123.3 315.77,123.3 315.9,123.3 316.03,123.3 316.16,123.3 316.29,123.3 316.42,123.3 316.55,123.3 316.68,123.3 316.81,123.3 316.94,123.3 317.07,123.3 317.2,123.3 317.33,123.3 317.46,123.3 317.59,123.3 317.72,123.3 317.85,123.3 317.98,123.3 318.11,123.3 318.24,123.3 318.37,123.3 318.5,123.3 318.63,123.3 318.76,123.3 318.89,123.3 319.02,123.3 319.15,123.3 319.28,123.3 319.41,123.3 319.54,123.3 319.67,123.3 319.8,123.3 319.93,123.3 320.06,123.3 320.19,123.3 320.32,123.3 320.45,123.3 320.58,123.3 320.71,123.3 320.84,123.3 320.97,123.3 321.1,123.3 321.23,123.3 321.36,123.3 321.49,123.3 321.62,123.3 321.75,123.3 321.88,123.3 322.01,123.3 322.14,123.3 322.27,123.3 322.4,123.3 322.53,123.3 322.66,123.3 322.79,123.3 322.92,123.3 323.05,123.3 323.18,123.3 323.31,123.3 323.44,123.3 323.57,123.3 323.7,123.3 323.83,123.3 323.96,123.3 324.09,123.3 324.22,123.3 324.35,123.3 324.48,123.3 324.61,123.3 324.74,123.3 324.87,123.3 325,123.3 325.13,123.3 325.26,123.3 325.39,123.3 325.52,123.3 325.65,123.3 325.78,123.3 325.91,123.3 326.04,123.3 326.17,123.3 326.3,123.3 326.43,123.3 326.56,123.3 326.69,123.3 326.82,123.3 326.95,123.3 327.08,123.3 327.21,123.3 327.34,123.3 327.47,123.3 327.6,123.3 327.73,123.3 327.86,123.3 327.99,123.3 328.12,123.3 328.25,123.3 328.38,123.3 328.51,123.3 328.64,123.3 328.77,123.3 328.9,123.3 329.03,123.3 329.16,123.3 329.29,123.3 329.42,123.3 329.55,123.3 329.68,123.3 329.81,123.3 329.94,123.3 330.07,123.3 330.2,123.3 330.33,123.3 330.46,123.3 330.59,123.3 330.72,123.3 330.85,123.3 330.98,123.3 331.11,123.3 331.24,123.3 331.37,123.3 331.5,123.3 331.63,123.3 331.76,123.3 331.89,123.3 332.02,123.3 332.15,123.3 332.28,123.3 332.41,123.3 332.54,123.3 332.67,123.3 332.8,123.3 332.93,123.3 333.06,123.3 333.19,123.3 333.32,123.3 333.45,123.3 333.58,123.3 333.71,123.3 333.84,123.3 333.97,123.3 334.1,123.3 334.23,123.3 334.36,123.3 334.49,123.3 334.62,123.3 334.75,123.3 334.88,123.3 335.01,123.3 335.14,123.3 335.27,123.3 335.4,123.3 335.53,123.3 335.66,123.3 335.79,123.3 335.92,123.3 336.05,123.3 336.18,123.3 336.31,123.3 336.44,123.3 336.57,123.3 336.7,123.3 336.83,123.3 336.96,123.3 337.09,123.3 337.22,123.3 337.35,123.3 337.48,123.3 337.61,123.3 337.74,123.3 337.87,123.3 338,123.3 338.13,123.3 338.26,123.3 338.39,123.3 338.52,123.3 338.65,123.3 338.78,123.3 338.91,123.3 339.04,123.3 339.17,123.3 339.3,123.3 339.43,123.3 339.56,123.3 339.69,123.3 339.82,123.3 339.95,123.3 340.08,123.3 340.21,123.3 340.34,123.3 340.47,123.3 340.6,123.3 340.73,123.3 340.86,123.3 340.99,123.3 341.12,123.3 341.25,123.3 341.38,123.3 341.51,123.3 341.64,123.3 341.77,123.3 341.9,123.3 342.03,123.3 342.16,123.3 342.29,123.3 342.42,123.3 342.55,123.3 342.68,123.3 342.81,123.3 342.94,123.3 343.07,123.3 343.2,123.3 343.33,123.3 343.46,123.3 343.59,123.3 343.72,123.3 343.85,123.3 343.98,123.3 344.11,123.3 344.24,123.3 344.37,123.3 344.5,123.3 344.63,123.3 344.76,123.3 344.89,123.3 345.02,123.3 345.15,123.3 345.28,123.3 345.41,123.3 345.54,123.3 345.67,123.3 345.8,123.3 345.93,123.3 346.06,123.3 346.19,123.3 346.32,123.3 346.45,123.3 346.58,123.3 346.71,123.3 346.84,123.3 346.97,123.3 347.1,123.3 347.23,123.3 347.36,123.3 347.49,123.3 347.62,123.3 347.75,123.3 347.88,123.3 348.01,123.3 348.14,123.3 348.27,123.3 348.4,123.3" fill="none" stroke="#1f7fd0" stroke-width="1.3" stroke-linejoin="round" stroke-dasharray="0.5,2.0" clip-path="url(#cd)" stroke-linecap="round"/>
<rect x="307.4" y="88.6" width="38.2" height="22.2" fill="#ffffff" stroke="#b0b0b0" stroke-width="0.5"/>
<line x1="307.9" y1="91" x2="315.7" y2="91" stroke="#3a3a3a" stroke-width="1.4"/>
<text x="316.4" y="91.7" font-size="3.5" text-anchor="start" dominant-baseline="central" class="lg">ANC off</text>
<line x1="307.9" y1="95.3" x2="315.7" y2="95.3" stroke="#ff1a1a" stroke-width="1.2"/>
<text x="316.4" y="96" font-size="3.5" text-anchor="start" dominant-baseline="central" class="lg">BANC</text>
<line x1="307.9" y1="99.8" x2="315.7" y2="99.8" stroke="#7fcf7f" stroke-width="1.2" stroke-dasharray="1.2,0.5"/>
<text x="316.4" y="100.5" font-size="3.5" text-anchor="start" dominant-baseline="central" class="lg">FFTANC, μ=0.99</text>
<line x1="307.9" y1="104.1" x2="315.7" y2="104.1" stroke="#f0a030" stroke-width="1.2" stroke-dasharray="1.6,0.6,0.6,0.6"/>
<text x="316.4" y="104.8" font-size="3.5" text-anchor="start" dominant-baseline="central" class="lg">FFTANC, μ=0.999</text>
<line x1="307.9" y1="108.5" x2="315.7" y2="108.5" stroke="#1f7fd0" stroke-width="1.3" stroke-dasharray="1.8,2.6"/>
<text x="316.4" y="109.2" font-size="3.5" text-anchor="start" dominant-baseline="central" class="lg">SA-FFTANC</text>
<text x="296.4" y="159.3" font-size="4.1" text-anchor="middle" dominant-baseline="central">Frequency(Hz)</text>
<text x="297.1" y="164.6" font-size="4.3" text-anchor="middle" dominant-baseline="central" letter-spacing="0.45">(d)</text>
<text x="234.2" y="117.2" font-size="4.1" text-anchor="middle" dominant-baseline="central" transform="rotate(-90 234.2 117.2)">PSD(dB)</text>
<rect x="109.5" y="168.5" width="104" height="64" fill="none" stroke="#9a9a9a" stroke-width="0.55"/>
<line x1="109.5" y1="232.5" x2="109.5" y2="231.5" stroke="#9a9a9a" stroke-width="0.5"/>
<line x1="109.5" y1="168.5" x2="109.5" y2="169.5" stroke="#9a9a9a" stroke-width="0.5"/>
<line x1="122.5" y1="232.5" x2="122.5" y2="231.5" stroke="#9a9a9a" stroke-width="0.5"/>
<line x1="122.5" y1="168.5" x2="122.5" y2="169.5" stroke="#9a9a9a" stroke-width="0.5"/>
<line x1="135.5" y1="232.5" x2="135.5" y2="231.5" stroke="#9a9a9a" stroke-width="0.5"/>
<line x1="135.5" y1="168.5" x2="135.5" y2="169.5" stroke="#9a9a9a" stroke-width="0.5"/>
<line x1="148.5" y1="232.5" x2="148.5" y2="231.5" stroke="#9a9a9a" stroke-width="0.5"/>
<line x1="148.5" y1="168.5" x2="148.5" y2="169.5" stroke="#9a9a9a" stroke-width="0.5"/>
<line x1="161.5" y1="232.5" x2="161.5" y2="231.5" stroke="#9a9a9a" stroke-width="0.5"/>
<line x1="161.5" y1="168.5" x2="161.5" y2="169.5" stroke="#9a9a9a" stroke-width="0.5"/>
<line x1="174.5" y1="232.5" x2="174.5" y2="231.5" stroke="#9a9a9a" stroke-width="0.5"/>
<line x1="174.5" y1="168.5" x2="174.5" y2="169.5" stroke="#9a9a9a" stroke-width="0.5"/>
<line x1="187.5" y1="232.5" x2="187.5" y2="231.5" stroke="#9a9a9a" stroke-width="0.5"/>
<line x1="187.5" y1="168.5" x2="187.5" y2="169.5" stroke="#9a9a9a" stroke-width="0.5"/>
<line x1="200.5" y1="232.5" x2="200.5" y2="231.5" stroke="#9a9a9a" stroke-width="0.5"/>
<line x1="200.5" y1="168.5" x2="200.5" y2="169.5" stroke="#9a9a9a" stroke-width="0.5"/>
<line x1="213.5" y1="232.5" x2="213.5" y2="231.5" stroke="#9a9a9a" stroke-width="0.5"/>
<line x1="213.5" y1="168.5" x2="213.5" y2="169.5" stroke="#9a9a9a" stroke-width="0.5"/>
<line x1="109.5" y1="232.5" x2="110.5" y2="232.5" stroke="#9a9a9a" stroke-width="0.5"/>
<line x1="213.5" y1="232.5" x2="212.5" y2="232.5" stroke="#9a9a9a" stroke-width="0.5"/>
<line x1="109.5" y1="223.36" x2="110.5" y2="223.36" stroke="#9a9a9a" stroke-width="0.5"/>
<line x1="213.5" y1="223.36" x2="212.5" y2="223.36" stroke="#9a9a9a" stroke-width="0.5"/>
<line x1="109.5" y1="214.21" x2="110.5" y2="214.21" stroke="#9a9a9a" stroke-width="0.5"/>
<line x1="213.5" y1="214.21" x2="212.5" y2="214.21" stroke="#9a9a9a" stroke-width="0.5"/>
<line x1="109.5" y1="205.07" x2="110.5" y2="205.07" stroke="#9a9a9a" stroke-width="0.5"/>
<line x1="213.5" y1="205.07" x2="212.5" y2="205.07" stroke="#9a9a9a" stroke-width="0.5"/>
<line x1="109.5" y1="195.93" x2="110.5" y2="195.93" stroke="#9a9a9a" stroke-width="0.5"/>
<line x1="213.5" y1="195.93" x2="212.5" y2="195.93" stroke="#9a9a9a" stroke-width="0.5"/>
<line x1="109.5" y1="186.79" x2="110.5" y2="186.79" stroke="#9a9a9a" stroke-width="0.5"/>
<line x1="213.5" y1="186.79" x2="212.5" y2="186.79" stroke="#9a9a9a" stroke-width="0.5"/>
<line x1="109.5" y1="177.64" x2="110.5" y2="177.64" stroke="#9a9a9a" stroke-width="0.5"/>
<line x1="213.5" y1="177.64" x2="212.5" y2="177.64" stroke="#9a9a9a" stroke-width="0.5"/>
<line x1="109.5" y1="168.5" x2="110.5" y2="168.5" stroke="#9a9a9a" stroke-width="0.5"/>
<line x1="213.5" y1="168.5" x2="212.5" y2="168.5" stroke="#9a9a9a" stroke-width="0.5"/>
<text x="109.5" y="237.2" font-size="3.7" text-anchor="middle" dominant-baseline="central" class="t">0</text>
<text x="122.5" y="237.2" font-size="3.7" text-anchor="middle" dominant-baseline="central" class="t">100</text>
<text x="135.5" y="237.2" font-size="3.7" text-anchor="middle" dominant-baseline="central" class="t">200</text>
<text x="148.5" y="237.2" font-size="3.7" text-anchor="middle" dominant-baseline="central" class="t">300</text>
<text x="161.5" y="237.2" font-size="3.7" text-anchor="middle" dominant-baseline="central" class="t">400</text>
<text x="174.5" y="237.2" font-size="3.7" text-anchor="middle" dominant-baseline="central" class="t">500</text>
<text x="187.5" y="237.2" font-size="3.7" text-anchor="middle" dominant-baseline="central" class="t">600</text>
<text x="200.5" y="237.2" font-size="3.7" text-anchor="middle" dominant-baseline="central" class="t">700</text>
<text x="213.5" y="237.2" font-size="3.7" text-anchor="middle" dominant-baseline="central" class="t">800</text>
<text x="107.9" y="233.2" font-size="3.7" text-anchor="end" dominant-baseline="central" class="t">70</text>
<text x="107.9" y="224.06" font-size="3.7" text-anchor="end" dominant-baseline="central" class="t">80</text>
<text x="107.9" y="214.91" font-size="3.7" text-anchor="end" dominant-baseline="central" class="t">90</text>
<text x="107.9" y="205.77" font-size="3.7" text-anchor="end" dominant-baseline="central" class="t">100</text>
<text x="107.9" y="196.63" font-size="3.7" text-anchor="end" dominant-baseline="central" class="t">110</text>
<text x="107.9" y="187.49" font-size="3.7" text-anchor="end" dominant-baseline="central" class="t">120</text>
<text x="107.9" y="178.34" font-size="3.7" text-anchor="end" dominant-baseline="central" class="t">130</text>
<text x="107.9" y="169.2" font-size="3.7" text-anchor="end" dominant-baseline="central" class="t">140</text>
<polyline points="109.5,214.21 110.54,214.08 111.58,213.72 112.62,213.97 113.66,213.99 114.7,213.87 115.74,214.28 116.78,213.84 117.82,213.79 118.86,214.05 119.9,213.34 120.94,214.06 121.98,214.03 123.02,213.95 124.06,213.81 125.1,213.68 126.14,213.7 127.18,213.53 128.22,210.36 129.26,209.13 130.3,206.76 131.34,204.1 132.38,200.27 133.42,199.31 134.46,198.65 135.5,197.72 136.54,196.19 137.58,194.78 138.62,195.1 139.66,195.63 140.7,194.49 141.74,195.29 142.78,196.92 143.82,195.68 144.86,195.81 145.9,195.67 146.94,193.87 147.98,193.16 149.02,192.99 150.06,190.41 151.1,191.66 152.14,189.96 153.18,191.78 154.22,191.55 155.26,192.88 156.3,193.21 157.34,196.52 158.38,195.8 159.42,195.36 160.46,197 161.5,195.67 162.54,197.04 163.58,197.49 164.62,199.07 165.66,201 166.7,199.89 167.74,200.79 168.78,200.57 169.82,201.73 170.86,202.62 171.9,202.36 172.94,203.31 173.98,203.04 175.02,202.57 176.06,202.59 177.1,202.31 178.14,203.5 179.18,202.55 180.22,203.34 181.26,204.44 182.3,204.29 183.34,203.78 184.38,204.39 185.42,204.31 186.46,203.04 187.5,203.9 188.54,202.68 189.58,202.65 190.62,202.69 191.66,201.2 192.7,199.75 193.74,201.24 194.78,202.14 195.82,201.32 196.86,202.51 197.9,203.2 198.94,203.41 199.98,204.79 201.02,205.21 202.06,204.67 203.1,205.36 204.14,206.83 205.18,205.26 206.22,206.05 207.26,205.08 208.3,206.59 209.34,208.29 210.38,207.18 211.42,207.94 212.46,207.05 213.5,208.06" fill="none" stroke="#111111" stroke-width="1.5" stroke-linejoin="round" clip-path="url(#ce)"/>
<line x1="129" y1="206.9" x2="129" y2="177.09" stroke="#444444" stroke-width="1.4"/>
<line x1="142" y1="206.9" x2="142" y2="179.11" stroke="#444444" stroke-width="1.4"/>
<line x1="148.5" y1="206.9" x2="148.5" y2="177.09" stroke="#444444" stroke-width="1.4"/>
<line x1="129" y1="212.39" x2="129" y2="182.95" stroke="#ff1a1a" stroke-width="1.4"/>
<line x1="142" y1="212.39" x2="142" y2="185.41" stroke="#ff1a1a" stroke-width="1.4"/>
<line x1="148.5" y1="212.39" x2="148.5" y2="182.95" stroke="#ff1a1a" stroke-width="1.4"/>
<polyline points="109.5,213.85 110.41,214.03 111.32,214.5 112.23,213.73 113.14,213.98 114.05,213.97 114.96,214.06 115.87,213.53 116.78,213.8 117.69,213.7 118.6,214.3 119.51,214.38 120.42,214.61 121.33,214.33 122.24,215.3 123.15,213.63 124.06,214.23 124.97,214.26 125.88,211.46 126.79,209.02 127.7,205.44 128.61,203.45 129.52,207.84 130.43,201.24 131.34,204.17 132.25,203.07 133.16,206.12 134.07,205.14 134.98,200.45 135.89,204.74 136.8,204.6 137.71,202.96 138.62,201.19 139.53,208.83 140.44,201.29 141.35,203.75 142.26,202.62 143.17,206.46 144.08,203.96 144.99,201.5 145.9,204.95 146.81,206.08 147.72,205.8 148.63,206.11 149.54,203.8 150.45,205.26 151.36,206.9 152.27,204.68 153.18,208.65 154.09,209.61 155,202.27 155.91,208.43 156.82,204.09 157.73,207.55 158.64,207.91 159.55,206.54 160.46,209.34 161.37,209.41 162.28,208.27 163.19,208.73 164.1,206.66 165.01,204.36 165.92,210.59 166.83,210.1 167.74,207.01 168.65,207.54 169.56,206.39 170.47,210.08 171.38,207.5 172.29,208.81 173.2,211.94 174.11,207.91 175.02,211.9 175.93,207.81 176.84,209.79 177.75,209.33 178.66,204.78 179.57,206.03 180.48,208.23 181.39,208.33 182.3,210.66 183.21,206.5 184.12,207.52 185.03,210.23 185.94,211.61 186.85,208.15 187.76,208.05 188.67,204.95 189.58,207.61 190.49,206.27 191.4,202.66 192.31,202.26 193.22,199.66 194.13,199.85 195.04,204.56 195.95,208.19 196.86,204.19 197.77,206.48 198.68,205.33 199.59,211.64 200.5,206.75 201.41,206.59 202.32,208.09 203.23,206.21 204.14,207.23 205.05,207.21 205.96,205.34 206.87,205.56 207.78,205.97 208.69,207.94 209.6,208.92 210.51,208.61 211.42,209.62 212.33,212.19 213.24,210.51" fill="none" stroke="#ff1a1a" stroke-width="0.8" stroke-linejoin="round" clip-path="url(#ce)"/>
<polyline points="109.5,213.81 110.41,213.96 111.32,214.38 112.23,213.43 113.14,214.81 114.05,214.26 114.96,213.97 115.87,214.11 116.78,214.17 117.69,214.83 118.6,213.8 119.51,214.82 120.42,214.62 121.33,214.65 122.24,214.7 123.15,214.94 124.06,214.21 124.97,214.81 125.88,211.99 126.79,210.07 127.7,205.42 128.61,206.03 129.52,204.72 130.43,204.94 131.34,204.37 132.25,205.24 133.16,204.77 134.07,204.52 134.98,204.21 135.89,204.47 136.8,205.3 137.71,203.78 138.62,206.21 139.53,200.77 140.44,203.04 141.35,201.8 142.26,204.91 143.17,207.11 144.08,207.55 144.99,206.22 145.9,205.92 146.81,205.5 147.72,205.48 148.63,203.67 149.54,209.46 150.45,202.13 151.36,206.12 152.27,205.4 153.18,209.22 154.09,205.63 155,209.01 155.91,205.39 156.82,205.81 157.73,206.02 158.64,206.7 159.55,206.9 160.46,207 161.37,204.73 162.28,206.31 163.19,206.06 164.1,202.07 165.01,206.42 165.92,208.35 166.83,210.87 167.74,211.28 168.65,206.51 169.56,205.07 170.47,208.63 171.38,208.84 172.29,207.01 173.2,206.37 174.11,204.87 175.02,206.81 175.93,207.77 176.84,205.28 177.75,208.31 178.66,209.22 179.57,208.57 180.48,207.09 181.39,207.25 182.3,206.44 183.21,206.4 184.12,202.09 185.03,205.79 185.94,210.62 186.85,209.3 187.76,206.13 188.67,207.19 189.58,200.76 190.49,204.85 191.4,203.92 192.31,202.17 193.22,202 194.13,201.02 195.04,203.24 195.95,202.88 196.86,205.32 197.77,209.83 198.68,204.8 199.59,202.98 200.5,208.06 201.41,207.49 202.32,205.13 203.23,207.77 204.14,206.77 205.05,207.6 205.96,206.21 206.87,207.78 207.78,203.94 208.69,207.93 209.6,208.99 210.51,211.68 211.42,209.28 212.33,211.71 213.24,209.22" fill="none" stroke="#7fcf7f" stroke-width="0.8" stroke-linejoin="round" clip-path="url(#ce)"/>
<polyline points="109.5,214.5 110.41,214.2 111.32,213.81 112.23,214.16 113.14,214.28 114.05,214.42 114.96,213.55 115.87,213.82 116.78,213.94 117.69,214.01 118.6,214.5 119.51,213.52 120.42,213.85 121.33,213.48 122.24,212.87 123.15,213.49 124.06,213.36 124.97,212.92 125.88,210.77 126.79,207.66 127.7,207 128.61,205.52 129.52,206.59 130.43,201.6 131.34,200.85 132.25,203.73 133.16,202.86 134.07,203.07 134.98,197.2 135.89,200.15 136.8,202.28 137.71,200.87 138.62,199.78 139.53,204.14 140.44,201.24 141.35,201.36 142.26,202.52 143.17,201.22 144.08,200.55 144.99,202.78 145.9,203.58 146.81,201.34 147.72,202.81 148.63,202.47 149.54,199.94 150.45,203.1 151.36,204.19 152.27,206.78 153.18,203.98 154.09,204.28 155,204.13 155.91,204.31 156.82,204.12 157.73,205.07 158.64,205.33 159.55,204.64 160.46,207.03 161.37,207.64 162.28,207.76 163.19,205.86 164.1,209.34 165.01,207.09 165.92,206.64 166.83,205.83 167.74,208.33 168.65,206.39 169.56,206.45 170.47,207.51 171.38,206.44 172.29,206.91 173.2,208.61 174.11,207.24 175.02,208.27 175.93,203.25 176.84,207.1 177.75,207.84 178.66,209.34 179.57,206.76 180.48,206.09 181.39,206.72 182.3,209.27 183.21,208.58 184.12,208.6 185.03,206.22 185.94,208 186.85,206.56 187.76,202.84 188.67,208.52 189.58,204.68 190.49,203.33 191.4,205.07 192.31,199.52 193.22,201.04 194.13,200.4 195.04,200.78 195.95,200.03 196.86,204.51 197.77,205.22 198.68,207.13 199.59,207.62 200.5,202.3 201.41,206.63 202.32,209.17 203.23,205 204.14,203.28 205.05,208.45 205.96,207.01 206.87,209.67 207.78,211.01 208.69,208.06 209.6,210.39 210.51,210.92 211.42,209.26 212.33,209.09 213.24,210.72" fill="none" stroke="#f0a030" stroke-width="0.9" stroke-linejoin="round" clip-path="url(#ce)"/>
<polyline points="109.5,214.51 110.41,214.12 111.32,213.6 112.23,214.68 113.14,213.77 114.05,214.27 114.96,213.67 115.87,214.15 116.78,214.09 117.69,213.88 118.6,214.24 119.51,214.05 120.42,214.11 121.33,213.53 122.24,213.93 123.15,214.63 124.06,213.92 124.97,213.96 125.88,211.53 126.79,208.11 127.7,203.9 128.61,207.45 129.52,202.25 130.43,205.27 131.34,205.09 132.25,205.06 133.16,204.21 134.07,202.39 134.98,205.79 135.89,203.83 136.8,204.99 137.71,204.25 138.62,204.74 139.53,202.96 140.44,202.72 141.35,205.97 142.26,203.86 143.17,207.26 144.08,204.17 144.99,203.18 145.9,204.98 146.81,195.76 147.72,199.26 148.63,201.65 149.54,199.85 150.45,202.05 151.36,204.71 152.27,206.11 153.18,206.08 154.09,211.18 155,208.11 155.91,205.43 156.82,205.49 157.73,205.49 158.64,206.49 159.55,205.2 160.46,205.41 161.37,206.25 162.28,205.2 163.19,205.7 164.1,208.23 165.01,206.5 165.92,205.83 166.83,207.94 167.74,211.28 168.65,208.28 169.56,207.29 170.47,212.3 171.38,210.43 172.29,209.94 173.2,204.88 174.11,206.45 175.02,208.48 175.93,206.3 176.84,207.32 177.75,210.7 178.66,208.68 179.57,206.3 180.48,208.54 181.39,203.6 182.3,208.88 183.21,208.63 184.12,208.19 185.03,207.58 185.94,207.6 186.85,205.07 187.76,203.29 188.67,206.49 189.58,207.87 190.49,204.84 191.4,202.99 192.31,199.17 193.22,200.04 194.13,201.65 195.04,197.53 195.95,205.32 196.86,206.15 197.77,202.16 198.68,204.35 199.59,205.98 200.5,208.53 201.41,205.82 202.32,206.19 203.23,208.19 204.14,206.99 205.05,210.1 205.96,205.6 206.87,210.01 207.78,206.32 208.69,210.17 209.6,210.75 210.51,209.85 211.42,211.52 212.33,209.22 213.24,212.69" fill="none" stroke="#1f7fd0" stroke-width="0.9" stroke-linejoin="round" stroke-dasharray="1.4,1.0" clip-path="url(#ce)"/>
<line x1="129" y1="205.99" x2="129" y2="234.33" stroke="#6cc06c" stroke-width="1.2"/>
<line x1="142" y1="205.99" x2="142" y2="225.73" stroke="#6cc06c" stroke-width="1.2"/>
<line x1="148.5" y1="205.99" x2="148.5" y2="223.63" stroke="#6cc06c" stroke-width="1.2"/>
<rect x="173" y="171.1" width="38.2" height="22.9" fill="#ffffff" stroke="#b0b0b0" stroke-width="0.5"/>
<line x1="173.6" y1="174.3" x2="181" y2="174.3" stroke="#222222" stroke-width="1.5"/>
<text x="182" y="175" font-size="3.5" text-anchor="start" dominant-baseline="central" class="lg">ANC off</text>
<line x1="173.6" y1="178.5" x2="181" y2="178.5" stroke="#ff1a1a" stroke-width="1.2"/>
<text x="182" y="179.2" font-size="3.5" text-anchor="start" dominant-baseline="central" class="lg">BANC</text>
<line x1="173.6" y1="182.9" x2="181" y2="182.9" stroke="#7fcf7f" stroke-width="1.2" stroke-dasharray="1.2,0.5"/>
<text x="182" y="183.6" font-size="3.5" text-anchor="start" dominant-baseline="central" class="lg">FFTANC, μ=0.99</text>
<line x1="173.6" y1="187.3" x2="181" y2="187.3" stroke="#f0a030" stroke-width="1.2" stroke-dasharray="1.6,0.6,0.6,0.6"/>
<text x="182" y="188" font-size="3.5" text-anchor="start" dominant-baseline="central" class="lg">FFTANC, μ=0.999</text>
<line x1="173.6" y1="191.7" x2="181" y2="191.7" stroke="#1f7fd0" stroke-width="1.3" stroke-dasharray="1.8,2.6"/>
<text x="182" y="192.4" font-size="3.5" text-anchor="start" dominant-baseline="central" class="lg">SA-FFTANC</text>
<text x="161.5" y="242.6" font-size="4.1" text-anchor="middle" dominant-baseline="central">Frequency(Hz)</text>
<text x="160.3" y="248.4" font-size="4.3" text-anchor="middle" dominant-baseline="central" letter-spacing="0.45">(e)</text>
<text x="98.3" y="200.3" font-size="4.1" text-anchor="middle" dominant-baseline="central" transform="rotate(-90 98.3 200.3)">PSD(dB)</text>
<rect x="244.4" y="168.5" width="104" height="64" fill="none" stroke="#9a9a9a" stroke-width="0.55"/>
<line x1="244.4" y1="232.5" x2="244.4" y2="231.5" stroke="#9a9a9a" stroke-width="0.5"/>
<line x1="244.4" y1="168.5" x2="244.4" y2="169.5" stroke="#9a9a9a" stroke-width="0.5"/>
<line x1="257.4" y1="232.5" x2="257.4" y2="231.5" stroke="#9a9a9a" stroke-width="0.5"/>
<line x1="257.4" y1="168.5" x2="257.4" y2="169.5" stroke="#9a9a9a" stroke-width="0.5"/>
<line x1="270.4" y1="232.5" x2="270.4" y2="231.5" stroke="#9a9a9a" stroke-width="0.5"/>
<line x1="270.4" y1="168.5" x2="270.4" y2="169.5" stroke="#9a9a9a" stroke-width="0.5"/>
<line x1="283.4" y1="232.5" x2="283.4" y2="231.5" stroke="#9a9a9a" stroke-width="0.5"/>
<line x1="283.4" y1="168.5" x2="283.4" y2="169.5" stroke="#9a9a9a" stroke-width="0.5"/>
<line x1="296.4" y1="232.5" x2="296.4" y2="231.5" stroke="#9a9a9a" stroke-width="0.5"/>
<line x1="296.4" y1="168.5" x2="296.4" y2="169.5" stroke="#9a9a9a" stroke-width="0.5"/>
<line x1="309.4" y1="232.5" x2="309.4" y2="231.5" stroke="#9a9a9a" stroke-width="0.5"/>
<line x1="309.4" y1="168.5" x2="309.4" y2="169.5" stroke="#9a9a9a" stroke-width="0.5"/>
<line x1="322.4" y1="232.5" x2="322.4" y2="231.5" stroke="#9a9a9a" stroke-width="0.5"/>
<line x1="322.4" y1="168.5" x2="322.4" y2="169.5" stroke="#9a9a9a" stroke-width="0.5"/>
<line x1="335.4" y1="232.5" x2="335.4" y2="231.5" stroke="#9a9a9a" stroke-width="0.5"/>
<line x1="335.4" y1="168.5" x2="335.4" y2="169.5" stroke="#9a9a9a" stroke-width="0.5"/>
<line x1="348.4" y1="232.5" x2="348.4" y2="231.5" stroke="#9a9a9a" stroke-width="0.5"/>
<line x1="348.4" y1="168.5" x2="348.4" y2="169.5" stroke="#9a9a9a" stroke-width="0.5"/>
<line x1="244.4" y1="232.5" x2="245.4" y2="232.5" stroke="#9a9a9a" stroke-width="0.5"/>
<line x1="348.4" y1="232.5" x2="347.4" y2="232.5" stroke="#9a9a9a" stroke-width="0.5"/>
<line x1="244.4" y1="223.36" x2="245.4" y2="223.36" stroke="#9a9a9a" stroke-width="0.5"/>
<line x1="348.4" y1="223.36" x2="347.4" y2="223.36" stroke="#9a9a9a" stroke-width="0.5"/>
<line x1="244.4" y1="214.21" x2="245.4" y2="214.21" stroke="#9a9a9a" stroke-width="0.5"/>
<line x1="348.4" y1="214.21" x2="347.4" y2="214.21" stroke="#9a9a9a" stroke-width="0.5"/>
<line x1="244.4" y1="205.07" x2="245.4" y2="205.07" stroke="#9a9a9a" stroke-width="0.5"/>
<line x1="348.4" y1="205.07" x2="347.4" y2="205.07" stroke="#9a9a9a" stroke-width="0.5"/>
<line x1="244.4" y1="195.93" x2="245.4" y2="195.93" stroke="#9a9a9a" stroke-width="0.5"/>
<line x1="348.4" y1="195.93" x2="347.4" y2="195.93" stroke="#9a9a9a" stroke-width="0.5"/>
<line x1="244.4" y1="186.79" x2="245.4" y2="186.79" stroke="#9a9a9a" stroke-width="0.5"/>
<line x1="348.4" y1="186.79" x2="347.4" y2="186.79" stroke="#9a9a9a" stroke-width="0.5"/>
<line x1="244.4" y1="177.64" x2="245.4" y2="177.64" stroke="#9a9a9a" stroke-width="0.5"/>
<line x1="348.4" y1="177.64" x2="347.4" y2="177.64" stroke="#9a9a9a" stroke-width="0.5"/>
<line x1="244.4" y1="168.5" x2="245.4" y2="168.5" stroke="#9a9a9a" stroke-width="0.5"/>
<line x1="348.4" y1="168.5" x2="347.4" y2="168.5" stroke="#9a9a9a" stroke-width="0.5"/>
<text x="244.4" y="237.2" font-size="3.7" text-anchor="middle" dominant-baseline="central" class="t">0</text>
<text x="257.4" y="237.2" font-size="3.7" text-anchor="middle" dominant-baseline="central" class="t">100</text>
<text x="270.4" y="237.2" font-size="3.7" text-anchor="middle" dominant-baseline="central" class="t">200</text>
<text x="283.4" y="237.2" font-size="3.7" text-anchor="middle" dominant-baseline="central" class="t">300</text>
<text x="296.4" y="237.2" font-size="3.7" text-anchor="middle" dominant-baseline="central" class="t">400</text>
<text x="309.4" y="237.2" font-size="3.7" text-anchor="middle" dominant-baseline="central" class="t">500</text>
<text x="322.4" y="237.2" font-size="3.7" text-anchor="middle" dominant-baseline="central" class="t">600</text>
<text x="335.4" y="237.2" font-size="3.7" text-anchor="middle" dominant-baseline="central" class="t">700</text>
<text x="348.4" y="237.2" font-size="3.7" text-anchor="middle" dominant-baseline="central" class="t">800</text>
<text x="242.8" y="233.2" font-size="3.7" text-anchor="end" dominant-baseline="central" class="t">70</text>
<text x="242.8" y="224.06" font-size="3.7" text-anchor="end" dominant-baseline="central" class="t">80</text>
<text x="242.8" y="214.91" font-size="3.7" text-anchor="end" dominant-baseline="central" class="t">90</text>
<text x="242.8" y="205.77" font-size="3.7" text-anchor="end" dominant-baseline="central" class="t">100</text>
<text x="242.8" y="196.63" font-size="3.7" text-anchor="end" dominant-baseline="central" class="t">110</text>
<text x="242.8" y="187.49" font-size="3.7" text-anchor="end" dominant-baseline="central" class="t">120</text>
<text x="242.8" y="178.34" font-size="3.7" text-anchor="end" dominant-baseline="central" class="t">130</text>
<text x="242.8" y="169.2" font-size="3.7" text-anchor="end" dominant-baseline="central" class="t">140</text>
<polyline points="244.4,213 245.44,212.45 246.48,212.39 247.52,212.53 248.56,212.25 249.6,212.65 250.64,212.43 251.68,212.42 252.72,212.4 253.76,212.73 254.8,212.11 255.84,212.49 256.88,212.35 257.92,212.34 258.96,211.66 260,209.47 261.04,206.99 262.08,205.05 263.12,203.05 264.16,200.81 265.2,198.82 266.24,198.21 267.28,198.4 268.32,196.04 269.36,194.59 270.4,193.96 271.44,192.03 272.48,193.47 273.52,192.58 274.56,191.66 275.6,193.42 276.64,193.44 277.68,192.91 278.72,192.08 279.76,191.62 280.8,192.1 281.84,189.21 282.88,190.24 283.92,189.32 284.96,188.14 286,187.72 287.04,188.95 288.08,190.8 289.12,191.38 290.16,190.63 291.2,191.66 292.24,191.85 293.28,192.63 294.32,194.49 295.36,194.7 296.4,193.66 297.44,196.26 298.48,197.2 299.52,195.25 300.56,197.28 301.6,196.62 302.64,199.09 303.68,198.92 304.72,198.59 305.76,199.06 306.8,199.02 307.84,199.17 308.88,199.71 309.92,201.47 310.96,199.73 312,200.22 313.04,201.22 314.08,201.44 315.12,203.48 316.16,202.02 317.2,201.92 318.24,203.36 319.28,203.05 320.32,203.91 321.36,202.72 322.4,202.42 323.44,203.08 324.48,202.16 325.52,201.31 326.56,198.48 327.6,198 328.64,198.72 329.68,199.37 330.72,200.88 331.76,202.37 332.8,202.63 333.84,204.94 334.88,205.06 335.92,205.49 336.96,204.54 338,206.1 339.04,208.32 340.08,206.49 341.12,207.22 342.16,207.39 343.2,208.73 344.24,208.5 345.28,209.71 346.32,210.42 347.36,209.33 348.4,210.9" fill="none" stroke="#111111" stroke-width="1.5" stroke-linejoin="round" clip-path="url(#cf)"/>
<line x1="263.9" y1="206.9" x2="263.9" y2="176.27" stroke="#444444" stroke-width="1.4"/>
<line x1="276.9" y1="206.9" x2="276.9" y2="178.1" stroke="#444444" stroke-width="1.4"/>
<line x1="283.4" y1="206.9" x2="283.4" y2="176.27" stroke="#444444" stroke-width="1.4"/>
<line x1="263.9" y1="212.39" x2="263.9" y2="182.95" stroke="#ff1a1a" stroke-width="1.4"/>
<line x1="276.9" y1="212.39" x2="276.9" y2="185.41" stroke="#ff1a1a" stroke-width="1.4"/>
<line x1="283.4" y1="212.39" x2="283.4" y2="182.95" stroke="#ff1a1a" stroke-width="1.4"/>
<polyline points="244.4,212.76 245.31,212.39 246.22,212.16 247.13,211.87 248.04,213.06 248.95,212.83 249.86,212.91 250.77,212.69 251.68,212.62 252.59,213.04 253.5,212.46 254.41,213.1 255.32,212.36 256.23,212.9 257.14,212.45 258.05,212.4 258.96,211.2 259.87,208.92 260.78,206.52 261.69,204.19 262.6,198.33 263.51,199.83 264.42,198.2 265.33,202.37 266.24,203.77 267.15,206.86 268.06,205.52 268.97,207.3 269.88,201.73 270.79,201.33 271.7,200.41 272.61,200.48 273.52,205.27 274.43,208.13 275.34,201.91 276.25,202.92 277.16,205.31 278.07,205.23 278.98,201.96 279.89,200.09 280.8,202.73 281.71,204.91 282.62,202.02 283.53,201.56 284.44,206.03 285.35,202.37 286.26,205.75 287.17,203.91 288.08,203.09 288.99,204 289.9,207.05 290.81,203.51 291.72,207.04 292.63,203.05 293.54,208.14 294.45,205.49 295.36,205.53 296.27,206.03 297.18,204.3 298.09,204.26 299,201.29 299.91,203.96 300.82,202.74 301.73,207.09 302.64,202.89 303.55,203.3 304.46,202.38 305.37,202.33 306.28,206.83 307.19,207.68 308.1,206.67 309.01,206.44 309.92,202.55 310.83,209.07 311.74,205.17 312.65,203.32 313.56,205.57 314.47,208.04 315.38,206.99 316.29,204.24 317.2,203.87 318.11,205.61 319.02,204.66 319.93,202.63 320.84,205.99 321.75,201.49 322.66,207.03 323.57,200.65 324.48,206.35 325.39,200.2 326.3,202.01 327.21,204.22 328.12,200.89 329.03,200.81 329.94,201.49 330.85,203.14 331.76,204.44 332.67,205.43 333.58,204.91 334.49,202.91 335.4,204.52 336.31,204.25 337.22,205.4 338.13,203.22 339.04,201.44 339.95,201.98 340.86,208.83 341.77,208.49 342.68,209.16 343.59,208.16 344.5,203.98 345.41,208.82 346.32,208.24 347.23,209.17 348.14,212.78" fill="none" stroke="#ff1a1a" stroke-width="0.8" stroke-linejoin="round" clip-path="url(#cf)"/>
<polyline points="244.4,212.62 245.31,212.61 246.22,212.57 247.13,212.25 248.04,212.54 248.95,213.02 249.86,212.33 250.77,212.53 251.68,212.49 252.59,212.35 253.5,212.28 254.41,211.92 255.32,212.09 256.23,212.27 257.14,212.56 258.05,212.64 258.96,210.75 259.87,207.88 260.78,205.86 261.69,203.43 262.6,199.94 263.51,203.24 264.42,201.19 265.33,199.76 266.24,199.14 267.15,201.26 268.06,200.21 268.97,200.53 269.88,199.63 270.79,203.23 271.7,200.34 272.61,204.33 273.52,206.54 274.43,203.05 275.34,203.8 276.25,200.71 277.16,201.28 278.07,204.91 278.98,201.32 279.89,204.89 280.8,203.4 281.71,203.94 282.62,203.35 283.53,202.21 284.44,202.61 285.35,203.2 286.26,202.71 287.17,203.09 288.08,205.18 288.99,205.4 289.9,205.02 290.81,203.31 291.72,204.74 292.63,200.08 293.54,205.91 294.45,206.49 295.36,203.14 296.27,202.01 297.18,203.72 298.09,203.15 299,202.1 299.91,204.91 300.82,207.37 301.73,205.77 302.64,203.09 303.55,207.51 304.46,204.84 305.37,204.47 306.28,205.54 307.19,203.67 308.1,203.96 309.01,200.81 309.92,203.94 310.83,206.19 311.74,206.1 312.65,206.59 313.56,203.33 314.47,206.11 315.38,205.2 316.29,203.7 317.2,206.39 318.11,205.61 319.02,208.44 319.93,207.05 320.84,206.11 321.75,204.31 322.66,202.67 323.57,204.1 324.48,202.81 325.39,202.2 326.3,199.74 327.21,199.31 328.12,200.32 329.03,203.4 329.94,200.64 330.85,202.34 331.76,201.53 332.67,204.56 333.58,201.18 334.49,205.57 335.4,202.16 336.31,205.02 337.22,206.34 338.13,207.61 339.04,205.99 339.95,203.27 340.86,204.58 341.77,205.14 342.68,211.06 343.59,205.74 344.5,206.34 345.41,208.68 346.32,209.14 347.23,208.32 348.14,205.48" fill="none" stroke="#7fcf7f" stroke-width="0.8" stroke-linejoin="round" clip-path="url(#cf)"/>
<polyline points="244.4,212.02 245.31,212.43 246.22,212.32 247.13,212.25 248.04,212.88 248.95,213.14 249.86,212.98 250.77,212.44 251.68,212.18 252.59,212.52 253.5,213.07 254.41,212.05 255.32,213.16 256.23,212.75 257.14,212.78 258.05,212.48 258.96,210.76 259.87,209.24 260.78,206.35 261.69,203.66 262.6,203.44 263.51,200.85 264.42,200.07 265.33,202.59 266.24,202.28 267.15,200.04 268.06,200.52 268.97,199.88 269.88,196.41 270.79,199.04 271.7,200.14 272.61,202.54 273.52,199.82 274.43,203.23 275.34,199.21 276.25,200.19 277.16,206.31 278.07,205.11 278.98,203.62 279.89,204.32 280.8,206.21 281.71,206.46 282.62,203.21 283.53,205.8 284.44,207.84 285.35,205.78 286.26,203.71 287.17,202.62 288.08,205.81 288.99,206.71 289.9,207.83 290.81,207.41 291.72,205.44 292.63,204.08 293.54,204.05 294.45,206.72 295.36,204.61 296.27,204.79 297.18,205.28 298.09,210.52 299,206.07 299.91,206.4 300.82,203.38 301.73,206.24 302.64,204.82 303.55,205.09 304.46,203.18 305.37,204.02 306.28,203.46 307.19,202.53 308.1,203.43 309.01,203.67 309.92,205.55 310.83,204.89 311.74,201.12 312.65,205.01 313.56,204.14 314.47,205.21 315.38,205.6 316.29,210.55 317.2,201.94 318.11,207.23 319.02,206.59 319.93,202.59 320.84,209.38 321.75,205.02 322.66,205.87 323.57,207.44 324.48,202.16 325.39,203.92 326.3,201.92 327.21,201.73 328.12,199.65 329.03,197.42 329.94,204.59 330.85,201.46 331.76,205.03 332.67,205.16 333.58,208.21 334.49,206.99 335.4,205.86 336.31,203.74 337.22,204.94 338.13,204.5 339.04,204.37 339.95,208.4 340.86,203.42 341.77,206.99 342.68,205.46 343.59,207.37 344.5,206.87 345.41,206.5 346.32,212.11 347.23,204.63 348.14,208.32" fill="none" stroke="#f0a030" stroke-width="0.9" stroke-linejoin="round" clip-path="url(#cf)"/>
<polyline points="244.4,212.95 245.31,212.32 246.22,212.42 247.13,212.74 248.04,212.55 248.95,212.48 249.86,212.53 250.77,212.54 251.68,212.33 252.59,212.2 253.5,212.01 254.41,212.61 255.32,212.84 256.23,212.31 257.14,212.69 258.05,212.87 258.96,210.53 259.87,208.39 260.78,206.37 261.69,203.89 262.6,200.57 263.51,200.66 264.42,200.8 265.33,202.94 266.24,207.21 267.15,208.3 268.06,202.4 268.97,203.06 269.88,206.77 270.79,201.76 271.7,201.84 272.61,201.1 273.52,202.43 274.43,201.89 275.34,204.06 276.25,205.52 277.16,203.03 278.07,202.4 278.98,203.31 279.89,205.57 280.8,203.62 281.71,204.07 282.62,201.51 283.53,205.05 284.44,204.8 285.35,204.17 286.26,202.82 287.17,201.1 288.08,202.42 288.99,205.93 289.9,205.25 290.81,200.62 291.72,203.2 292.63,204.03 293.54,202.93 294.45,202.63 295.36,200.75 296.27,203.59 297.18,205.3 298.09,205.79 299,202.29 299.91,204.11 300.82,203.82 301.73,203.3 302.64,206.06 303.55,201.29 304.46,204.78 305.37,204.72 306.28,204.89 307.19,204.18 308.1,205.13 309.01,205.16 309.92,203.41 310.83,202.17 311.74,203.25 312.65,206.75 313.56,205.3 314.47,202.06 315.38,204.64 316.29,204.41 317.2,205.05 318.11,201.89 319.02,205.5 319.93,205.52 320.84,202.83 321.75,207.6 322.66,205.34 323.57,199.14 324.48,203 325.39,201.52 326.3,205.06 327.21,200.93 328.12,202.39 329.03,202.63 329.94,203.52 330.85,202.67 331.76,204.11 332.67,202.52 333.58,208.73 334.49,205.99 335.4,203.64 336.31,204.45 337.22,202.73 338.13,206.34 339.04,203.82 339.95,204.86 340.86,208.32 341.77,209.58 342.68,203.23 343.59,204.98 344.5,207.11 345.41,209.1 346.32,211.31 347.23,209.01 348.14,208.51" fill="none" stroke="#1f7fd0" stroke-width="0.9" stroke-linejoin="round" stroke-dasharray="1.4,1.0" clip-path="url(#cf)"/>
<line x1="263.9" y1="205.99" x2="263.9" y2="234.33" stroke="#6cc06c" stroke-width="1.2"/>
<line x1="276.9" y1="205.99" x2="276.9" y2="225.73" stroke="#6cc06c" stroke-width="1.2"/>
<line x1="283.4" y1="205.99" x2="283.4" y2="223.63" stroke="#6cc06c" stroke-width="1.2"/>
<rect x="307.5" y="171.1" width="38.2" height="22.9" fill="#ffffff" stroke="#b0b0b0" stroke-width="0.5"/>
<line x1="308.1" y1="174.3" x2="315.5" y2="174.3" stroke="#222222" stroke-width="1.5"/>
<text x="316.5" y="175" font-size="3.5" text-anchor="start" dominant-baseline="central" class="lg">ANC off</text>
<line x1="308.1" y1="178.5" x2="315.5" y2="178.5" stroke="#ff1a1a" stroke-width="1.2"/>
<text x="316.5" y="179.2" font-size="3.5" text-anchor="start" dominant-baseline="central" class="lg">BANC</text>
<line x1="308.1" y1="182.9" x2="315.5" y2="182.9" stroke="#7fcf7f" stroke-width="1.2" stroke-dasharray="1.2,0.5"/>
<text x="316.5" y="183.6" font-size="3.5" text-anchor="start" dominant-baseline="central" class="lg">FFTANC, μ=0.99</text>
<line x1="308.1" y1="187.3" x2="315.5" y2="187.3" stroke="#f0a030" stroke-width="1.2" stroke-dasharray="1.6,0.6,0.6,0.6"/>
<text x="316.5" y="188" font-size="3.5" text-anchor="start" dominant-baseline="central" class="lg">FFTANC, μ=0.999</text>
<line x1="308.1" y1="191.7" x2="315.5" y2="191.7" stroke="#1f7fd0" stroke-width="1.3" stroke-dasharray="1.8,2.6"/>
<text x="316.5" y="192.4" font-size="3.5" text-anchor="start" dominant-baseline="central" class="lg">SA-FFTANC</text>
<text x="296.4" y="242.6" font-size="4.1" text-anchor="middle" dominant-baseline="central">Frequency(Hz)</text>
<text x="294.7" y="248.4" font-size="4.3" text-anchor="middle" dominant-baseline="central" letter-spacing="0.45">(f)</text>
<text x="234.2" y="200.3" font-size="4.1" text-anchor="middle" dominant-baseline="central" transform="rotate(-90 234.2 200.3)">PSD(dB)</text></svg>
</body></html>
